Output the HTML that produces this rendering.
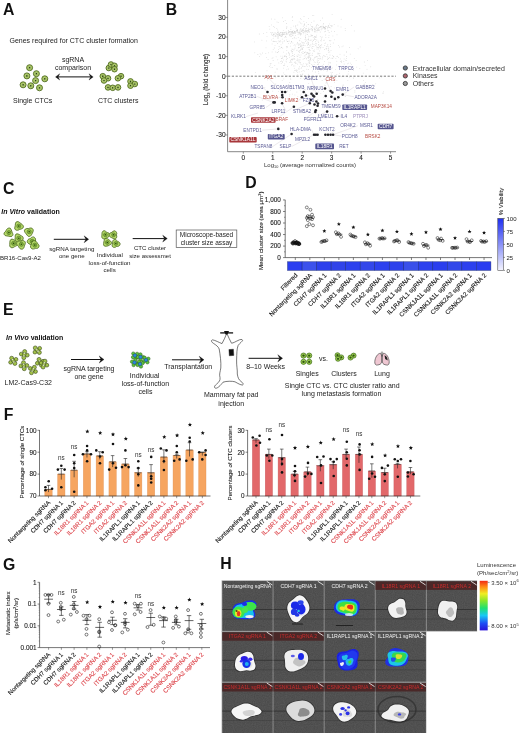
<!DOCTYPE html>
<html><head><meta charset="utf-8"><title>Figure</title>
<style>
html,body{margin:0;padding:0;background:#fff;}
body{width:520px;height:733px;overflow:hidden;}
svg{display:block;}
text{font-family:"Liberation Sans", Arial, sans-serif;}
</style></head><body>
<svg width="520" height="733" viewBox="0 0 520 733">
<rect width="520" height="733" fill="#fff"/>
<text x="0" y="0" font-size="15.8" fill="#111" font-weight="bold" transform="translate(3 14.5)">A</text>
<text x="0" y="0" font-size="15.8" fill="#111" font-weight="bold" transform="translate(165.8 14.5)">B</text>
<text x="0" y="0" font-size="15.8" fill="#111" font-weight="bold" transform="translate(3 194.1)">C</text>
<text x="0" y="0" font-size="15.8" fill="#111" font-weight="bold" transform="translate(245.2 187.9)">D</text>
<text x="0" y="0" font-size="15.8" fill="#111" font-weight="bold" transform="translate(2.9 314.6)">E</text>
<text x="0" y="0" font-size="15.8" fill="#111" font-weight="bold" transform="translate(3.8 419.9)">F</text>
<text x="0" y="0" font-size="15.8" fill="#111" font-weight="bold" transform="translate(3 569.8)">G</text>
<text x="0" y="0" font-size="15.8" fill="#111" font-weight="bold" transform="translate(220.2 569.1)">H</text>
<text x="9.50" y="43.20" font-size="7" fill="#222" text-anchor="start" >Genes required for CTC cluster formation</text>
<text x="73.00" y="61.60" font-size="7" fill="#222" text-anchor="middle" >sgRNA</text>
<text x="73.00" y="70.10" font-size="7" fill="#222" text-anchor="middle" >comparison</text>
<line x1="58.02" y1="76.90" x2="90.68" y2="76.90" stroke="#111" stroke-width="1.0" />
<polygon points="93.20,76.90 89.00,73.75 90.60,76.90 89.00,80.05" fill="#111" stroke="#111" stroke-width="0.3" stroke-linejoin="round"/>
<polygon points="55.50,76.90 59.70,73.75 58.10,76.90 59.70,80.05" fill="#111" stroke="#111" stroke-width="0.3" stroke-linejoin="round"/>
<text x="13.00" y="102.50" font-size="7" fill="#222" text-anchor="start" >Single CTCs</text>
<text x="98.00" y="102.50" font-size="7" fill="#222" text-anchor="start" >CTC clusters</text>
<circle cx="29.60" cy="67.70" r="3.0" fill="#b3d068" stroke="#4f6a22" stroke-width="0.9"/>
<circle cx="29.60" cy="67.70" r="1.6500000000000001" fill="#d2e59c" stroke="#7d9a40" stroke-width="0.4"/>
<circle cx="29.60" cy="67.70" r="0.8999999999999999" fill="#2e4a10" stroke="none" stroke-width="0.5"/>
<circle cx="26.90" cy="75.90" r="3.0" fill="#b3d068" stroke="#4f6a22" stroke-width="0.9"/>
<circle cx="26.90" cy="75.90" r="1.6500000000000001" fill="#d2e59c" stroke="#7d9a40" stroke-width="0.4"/>
<circle cx="26.90" cy="75.90" r="0.8999999999999999" fill="#2e4a10" stroke="none" stroke-width="0.5"/>
<circle cx="36.40" cy="73.70" r="3.0" fill="#b3d068" stroke="#4f6a22" stroke-width="0.9"/>
<circle cx="36.40" cy="73.70" r="1.6500000000000001" fill="#d2e59c" stroke="#7d9a40" stroke-width="0.4"/>
<circle cx="36.40" cy="73.70" r="0.8999999999999999" fill="#2e4a10" stroke="none" stroke-width="0.5"/>
<circle cx="44.80" cy="78.80" r="3.0" fill="#b3d068" stroke="#4f6a22" stroke-width="0.9"/>
<circle cx="44.80" cy="78.80" r="1.6500000000000001" fill="#d2e59c" stroke="#7d9a40" stroke-width="0.4"/>
<circle cx="44.80" cy="78.80" r="0.8999999999999999" fill="#2e4a10" stroke="none" stroke-width="0.5"/>
<circle cx="35.60" cy="80.60" r="3.0" fill="#b3d068" stroke="#4f6a22" stroke-width="0.9"/>
<circle cx="35.60" cy="80.60" r="1.6500000000000001" fill="#d2e59c" stroke="#7d9a40" stroke-width="0.4"/>
<circle cx="35.60" cy="80.60" r="0.8999999999999999" fill="#2e4a10" stroke="none" stroke-width="0.5"/>
<circle cx="23.10" cy="84.80" r="3.0" fill="#b3d068" stroke="#4f6a22" stroke-width="0.9"/>
<circle cx="23.10" cy="84.80" r="1.6500000000000001" fill="#d2e59c" stroke="#7d9a40" stroke-width="0.4"/>
<circle cx="23.10" cy="84.80" r="0.8999999999999999" fill="#2e4a10" stroke="none" stroke-width="0.5"/>
<circle cx="30.80" cy="85.80" r="3.0" fill="#b3d068" stroke="#4f6a22" stroke-width="0.9"/>
<circle cx="30.80" cy="85.80" r="1.6500000000000001" fill="#d2e59c" stroke="#7d9a40" stroke-width="0.4"/>
<circle cx="30.80" cy="85.80" r="0.8999999999999999" fill="#2e4a10" stroke="none" stroke-width="0.5"/>
<circle cx="39.50" cy="87.80" r="3.0" fill="#b3d068" stroke="#4f6a22" stroke-width="0.9"/>
<circle cx="39.50" cy="87.80" r="1.6500000000000001" fill="#d2e59c" stroke="#7d9a40" stroke-width="0.4"/>
<circle cx="39.50" cy="87.80" r="0.8999999999999999" fill="#2e4a10" stroke="none" stroke-width="0.5"/>
<circle cx="108.80" cy="68.00" r="2.8" fill="#b3d068" stroke="#4f6a22" stroke-width="0.9"/>
<circle cx="108.80" cy="68.00" r="1.54" fill="#d2e59c" stroke="#7d9a40" stroke-width="0.4"/>
<circle cx="108.80" cy="68.00" r="0.84" fill="#2e4a10" stroke="none" stroke-width="0.5"/>
<circle cx="111.00" cy="64.50" r="2.8" fill="#b3d068" stroke="#4f6a22" stroke-width="0.9"/>
<circle cx="111.00" cy="64.50" r="1.54" fill="#d2e59c" stroke="#7d9a40" stroke-width="0.4"/>
<circle cx="111.00" cy="64.50" r="0.84" fill="#2e4a10" stroke="none" stroke-width="0.5"/>
<circle cx="114.50" cy="65.80" r="2.8" fill="#b3d068" stroke="#4f6a22" stroke-width="0.9"/>
<circle cx="114.50" cy="65.80" r="1.54" fill="#d2e59c" stroke="#7d9a40" stroke-width="0.4"/>
<circle cx="114.50" cy="65.80" r="0.84" fill="#2e4a10" stroke="none" stroke-width="0.5"/>
<circle cx="114.50" cy="69.20" r="2.8" fill="#b3d068" stroke="#4f6a22" stroke-width="0.9"/>
<circle cx="114.50" cy="69.20" r="1.54" fill="#d2e59c" stroke="#7d9a40" stroke-width="0.4"/>
<circle cx="114.50" cy="69.20" r="0.84" fill="#2e4a10" stroke="none" stroke-width="0.5"/>
<circle cx="102.80" cy="76.20" r="2.8" fill="#b3d068" stroke="#4f6a22" stroke-width="0.9"/>
<circle cx="102.80" cy="76.20" r="1.54" fill="#d2e59c" stroke="#7d9a40" stroke-width="0.4"/>
<circle cx="102.80" cy="76.20" r="0.84" fill="#2e4a10" stroke="none" stroke-width="0.5"/>
<circle cx="108.00" cy="78.30" r="2.8" fill="#b3d068" stroke="#4f6a22" stroke-width="0.9"/>
<circle cx="108.00" cy="78.30" r="1.54" fill="#d2e59c" stroke="#7d9a40" stroke-width="0.4"/>
<circle cx="108.00" cy="78.30" r="0.84" fill="#2e4a10" stroke="none" stroke-width="0.5"/>
<circle cx="104.00" cy="80.50" r="2.8" fill="#b3d068" stroke="#4f6a22" stroke-width="0.9"/>
<circle cx="104.00" cy="80.50" r="1.54" fill="#d2e59c" stroke="#7d9a40" stroke-width="0.4"/>
<circle cx="104.00" cy="80.50" r="0.84" fill="#2e4a10" stroke="none" stroke-width="0.5"/>
<circle cx="121.00" cy="76.20" r="2.8" fill="#b3d068" stroke="#4f6a22" stroke-width="0.9"/>
<circle cx="121.00" cy="76.20" r="1.54" fill="#d2e59c" stroke="#7d9a40" stroke-width="0.4"/>
<circle cx="121.00" cy="76.20" r="0.84" fill="#2e4a10" stroke="none" stroke-width="0.5"/>
<circle cx="117.90" cy="78.30" r="2.8" fill="#b3d068" stroke="#4f6a22" stroke-width="0.9"/>
<circle cx="117.90" cy="78.30" r="1.54" fill="#d2e59c" stroke="#7d9a40" stroke-width="0.4"/>
<circle cx="117.90" cy="78.30" r="0.84" fill="#2e4a10" stroke="none" stroke-width="0.5"/>
<circle cx="130.50" cy="81.40" r="2.8" fill="#b3d068" stroke="#4f6a22" stroke-width="0.9"/>
<circle cx="130.50" cy="81.40" r="1.54" fill="#d2e59c" stroke="#7d9a40" stroke-width="0.4"/>
<circle cx="130.50" cy="81.40" r="0.84" fill="#2e4a10" stroke="none" stroke-width="0.5"/>
<circle cx="134.80" cy="84.00" r="2.8" fill="#b3d068" stroke="#4f6a22" stroke-width="0.9"/>
<circle cx="134.80" cy="84.00" r="1.54" fill="#d2e59c" stroke="#7d9a40" stroke-width="0.4"/>
<circle cx="134.80" cy="84.00" r="0.84" fill="#2e4a10" stroke="none" stroke-width="0.5"/>
<circle cx="130.50" cy="85.70" r="2.8" fill="#b3d068" stroke="#4f6a22" stroke-width="0.9"/>
<circle cx="130.50" cy="85.70" r="1.54" fill="#d2e59c" stroke="#7d9a40" stroke-width="0.4"/>
<circle cx="130.50" cy="85.70" r="0.84" fill="#2e4a10" stroke="none" stroke-width="0.5"/>
<circle cx="108.00" cy="87.40" r="2.8" fill="#b3d068" stroke="#4f6a22" stroke-width="0.9"/>
<circle cx="108.00" cy="87.40" r="1.54" fill="#d2e59c" stroke="#7d9a40" stroke-width="0.4"/>
<circle cx="108.00" cy="87.40" r="0.84" fill="#2e4a10" stroke="none" stroke-width="0.5"/>
<circle cx="112.70" cy="87.80" r="2.8" fill="#b3d068" stroke="#4f6a22" stroke-width="0.9"/>
<circle cx="112.70" cy="87.80" r="1.54" fill="#d2e59c" stroke="#7d9a40" stroke-width="0.4"/>
<circle cx="112.70" cy="87.80" r="0.84" fill="#2e4a10" stroke="none" stroke-width="0.5"/>
<circle cx="118.00" cy="87.40" r="2.8" fill="#b3d068" stroke="#4f6a22" stroke-width="0.9"/>
<circle cx="118.00" cy="87.40" r="1.54" fill="#d2e59c" stroke="#7d9a40" stroke-width="0.4"/>
<circle cx="118.00" cy="87.40" r="0.84" fill="#2e4a10" stroke="none" stroke-width="0.5"/>
<g fill="#a8a8a8" opacity="0.6"><circle cx="267.0" cy="36.3" r="0.42"/><circle cx="281.1" cy="47.1" r="0.42"/><circle cx="300.9" cy="29.1" r="0.42"/><circle cx="292.9" cy="34.1" r="0.42"/><circle cx="354.3" cy="58.3" r="0.42"/><circle cx="294.5" cy="62.1" r="0.42"/><circle cx="301.9" cy="31.6" r="0.42"/><circle cx="309.3" cy="63.4" r="0.42"/><circle cx="308.8" cy="57.3" r="0.42"/><circle cx="286.8" cy="27.4" r="0.42"/><circle cx="305.0" cy="39.4" r="0.42"/><circle cx="299.8" cy="57.3" r="0.42"/><circle cx="332.8" cy="58.2" r="0.42"/><circle cx="315.1" cy="36.6" r="0.42"/><circle cx="318.6" cy="64.4" r="0.42"/><circle cx="317.2" cy="76.1" r="0.42"/><circle cx="308.7" cy="83.3" r="0.42"/><circle cx="309.2" cy="47.3" r="0.42"/><circle cx="312.6" cy="71.0" r="0.42"/><circle cx="286.7" cy="33.7" r="0.42"/><circle cx="308.8" cy="55.9" r="0.42"/><circle cx="325.7" cy="56.3" r="0.42"/><circle cx="312.6" cy="30.8" r="0.42"/><circle cx="289.7" cy="35.6" r="0.42"/><circle cx="299.1" cy="55.2" r="0.42"/><circle cx="296.8" cy="60.2" r="0.42"/><circle cx="328.7" cy="26.8" r="0.42"/><circle cx="318.5" cy="42.4" r="0.42"/><circle cx="279.3" cy="33.8" r="0.42"/><circle cx="298.3" cy="37.3" r="0.42"/><circle cx="341.8" cy="76.8" r="0.42"/><circle cx="312.6" cy="41.4" r="0.42"/><circle cx="326.2" cy="26.4" r="0.42"/><circle cx="316.8" cy="28.5" r="0.42"/><circle cx="348.1" cy="74.0" r="0.42"/><circle cx="273.9" cy="36.2" r="0.42"/><circle cx="301.9" cy="46.9" r="0.42"/><circle cx="338.5" cy="45.7" r="0.42"/><circle cx="315.8" cy="57.2" r="0.42"/><circle cx="310.4" cy="59.6" r="0.42"/><circle cx="285.1" cy="56.2" r="0.42"/><circle cx="288.1" cy="32.6" r="0.42"/><circle cx="294.6" cy="31.5" r="0.42"/><circle cx="300.8" cy="78.4" r="0.42"/><circle cx="273.0" cy="41.3" r="0.42"/><circle cx="273.2" cy="38.2" r="0.42"/><circle cx="309.4" cy="50.8" r="0.42"/><circle cx="304.1" cy="25.5" r="0.42"/><circle cx="308.2" cy="53.5" r="0.42"/><circle cx="305.0" cy="45.5" r="0.42"/><circle cx="266.5" cy="40.9" r="0.42"/><circle cx="267.0" cy="70.8" r="0.42"/><circle cx="334.6" cy="31.5" r="0.42"/><circle cx="314.0" cy="21.0" r="0.42"/><circle cx="292.5" cy="38.3" r="0.42"/><circle cx="299.3" cy="44.4" r="0.42"/><circle cx="342.0" cy="46.8" r="0.42"/><circle cx="282.6" cy="62.7" r="0.42"/><circle cx="273.0" cy="57.8" r="0.42"/><circle cx="318.5" cy="29.1" r="0.42"/><circle cx="308.5" cy="69.5" r="0.42"/><circle cx="274.5" cy="27.2" r="0.42"/><circle cx="320.2" cy="48.8" r="0.42"/><circle cx="308.2" cy="56.2" r="0.42"/><circle cx="300.6" cy="95.1" r="0.42"/><circle cx="288.6" cy="43.3" r="0.42"/><circle cx="294.7" cy="58.7" r="0.42"/><circle cx="255.6" cy="72.3" r="0.42"/><circle cx="301.0" cy="54.9" r="0.42"/><circle cx="323.2" cy="24.8" r="0.42"/><circle cx="318.8" cy="44.5" r="0.42"/><circle cx="299.0" cy="32.4" r="0.42"/><circle cx="290.2" cy="36.4" r="0.42"/><circle cx="332.1" cy="14.4" r="0.42"/><circle cx="309.1" cy="49.6" r="0.42"/><circle cx="363.5" cy="80.7" r="0.42"/><circle cx="312.3" cy="48.7" r="0.42"/><circle cx="299.1" cy="34.0" r="0.42"/><circle cx="310.2" cy="50.7" r="0.42"/><circle cx="309.3" cy="29.4" r="0.42"/><circle cx="313.4" cy="60.5" r="0.42"/><circle cx="262.5" cy="53.0" r="0.42"/><circle cx="275.2" cy="33.2" r="0.42"/><circle cx="289.2" cy="31.8" r="0.42"/><circle cx="327.9" cy="30.3" r="0.42"/><circle cx="285.1" cy="55.9" r="0.42"/><circle cx="323.9" cy="27.0" r="0.42"/><circle cx="295.6" cy="26.4" r="0.42"/><circle cx="277.0" cy="21.9" r="0.42"/><circle cx="289.5" cy="62.7" r="0.42"/><circle cx="298.1" cy="54.3" r="0.42"/><circle cx="364.1" cy="83.9" r="0.42"/><circle cx="313.8" cy="77.2" r="0.42"/><circle cx="354.9" cy="90.6" r="0.42"/><circle cx="301.8" cy="71.3" r="0.42"/><circle cx="286.0" cy="61.1" r="0.42"/><circle cx="314.6" cy="49.9" r="0.42"/><circle cx="318.2" cy="30.5" r="0.42"/><circle cx="293.5" cy="32.7" r="0.42"/><circle cx="302.2" cy="30.4" r="0.42"/><circle cx="271.0" cy="63.4" r="0.42"/><circle cx="306.3" cy="58.9" r="0.42"/><circle cx="290.3" cy="46.1" r="0.42"/><circle cx="290.9" cy="35.0" r="0.42"/><circle cx="293.9" cy="72.2" r="0.42"/><circle cx="308.5" cy="95.5" r="0.42"/><circle cx="324.1" cy="27.5" r="0.42"/><circle cx="311.8" cy="64.5" r="0.42"/><circle cx="301.6" cy="46.0" r="0.42"/><circle cx="287.8" cy="91.0" r="0.42"/><circle cx="303.2" cy="26.6" r="0.42"/><circle cx="304.4" cy="27.6" r="0.42"/><circle cx="356.8" cy="67.1" r="0.42"/><circle cx="318.4" cy="58.7" r="0.42"/><circle cx="345.7" cy="69.3" r="0.42"/><circle cx="307.8" cy="30.6" r="0.42"/><circle cx="300.7" cy="57.1" r="0.42"/><circle cx="306.7" cy="43.2" r="0.42"/><circle cx="290.4" cy="43.2" r="0.42"/><circle cx="299.2" cy="60.0" r="0.42"/><circle cx="320.0" cy="53.6" r="0.42"/><circle cx="325.9" cy="37.7" r="0.42"/><circle cx="318.1" cy="53.1" r="0.42"/><circle cx="315.3" cy="36.9" r="0.42"/><circle cx="289.8" cy="82.5" r="0.42"/><circle cx="323.4" cy="91.5" r="0.42"/><circle cx="367.0" cy="69.2" r="0.42"/><circle cx="316.2" cy="43.4" r="0.42"/><circle cx="330.2" cy="65.8" r="0.42"/><circle cx="298.7" cy="47.6" r="0.42"/><circle cx="331.5" cy="74.0" r="0.42"/><circle cx="317.8" cy="58.1" r="0.42"/><circle cx="317.0" cy="49.0" r="0.42"/><circle cx="345.2" cy="28.6" r="0.42"/><circle cx="302.4" cy="29.3" r="0.42"/><circle cx="307.6" cy="53.0" r="0.42"/><circle cx="273.5" cy="34.6" r="0.42"/><circle cx="312.0" cy="55.1" r="0.42"/><circle cx="325.2" cy="27.7" r="0.42"/><circle cx="278.2" cy="34.5" r="0.42"/><circle cx="295.6" cy="61.9" r="0.42"/><circle cx="282.9" cy="56.1" r="0.42"/><circle cx="314.2" cy="28.5" r="0.42"/><circle cx="303.8" cy="33.8" r="0.42"/><circle cx="282.3" cy="34.0" r="0.42"/><circle cx="333.0" cy="93.7" r="0.42"/><circle cx="278.4" cy="32.4" r="0.42"/><circle cx="318.8" cy="73.2" r="0.42"/><circle cx="301.5" cy="67.6" r="0.42"/><circle cx="289.3" cy="53.6" r="0.42"/><circle cx="289.9" cy="94.6" r="0.42"/><circle cx="308.3" cy="24.3" r="0.42"/><circle cx="303.8" cy="42.7" r="0.42"/><circle cx="302.4" cy="48.4" r="0.42"/><circle cx="288.8" cy="33.0" r="0.42"/><circle cx="330.1" cy="40.9" r="0.42"/><circle cx="292.4" cy="32.7" r="0.42"/><circle cx="295.8" cy="25.4" r="0.42"/><circle cx="359.0" cy="88.2" r="0.42"/><circle cx="308.6" cy="44.3" r="0.42"/><circle cx="295.1" cy="33.0" r="0.42"/><circle cx="331.2" cy="79.8" r="0.42"/><circle cx="327.8" cy="44.3" r="0.42"/><circle cx="282.7" cy="58.4" r="0.42"/><circle cx="280.0" cy="48.2" r="0.42"/><circle cx="308.9" cy="62.2" r="0.42"/><circle cx="315.2" cy="62.3" r="0.42"/><circle cx="345.5" cy="60.1" r="0.42"/><circle cx="281.0" cy="44.8" r="0.42"/><circle cx="299.1" cy="67.9" r="0.42"/><circle cx="299.0" cy="69.7" r="0.42"/><circle cx="318.4" cy="48.9" r="0.42"/><circle cx="282.1" cy="32.7" r="0.42"/><circle cx="317.9" cy="99.5" r="0.42"/><circle cx="308.4" cy="58.3" r="0.42"/><circle cx="287.1" cy="98.8" r="0.42"/><circle cx="313.8" cy="15.4" r="0.42"/><circle cx="334.5" cy="82.2" r="0.42"/><circle cx="308.2" cy="30.1" r="0.42"/><circle cx="304.8" cy="31.8" r="0.42"/><circle cx="291.5" cy="51.0" r="0.42"/><circle cx="277.7" cy="59.8" r="0.42"/><circle cx="349.5" cy="47.5" r="0.42"/><circle cx="305.6" cy="54.9" r="0.42"/><circle cx="327.0" cy="71.2" r="0.42"/><circle cx="280.4" cy="40.8" r="0.42"/><circle cx="283.7" cy="32.3" r="0.42"/><circle cx="285.6" cy="36.3" r="0.42"/><circle cx="309.5" cy="56.8" r="0.42"/><circle cx="286.8" cy="33.9" r="0.42"/><circle cx="305.0" cy="30.9" r="0.42"/><circle cx="280.9" cy="41.8" r="0.42"/><circle cx="292.7" cy="49.3" r="0.42"/><circle cx="303.9" cy="21.3" r="0.42"/><circle cx="280.7" cy="32.6" r="0.42"/><circle cx="309.3" cy="62.3" r="0.42"/><circle cx="311.3" cy="35.5" r="0.42"/><circle cx="320.9" cy="47.2" r="0.42"/><circle cx="304.0" cy="16.5" r="0.42"/><circle cx="299.5" cy="52.6" r="0.42"/><circle cx="329.0" cy="80.4" r="0.42"/><circle cx="308.5" cy="43.3" r="0.42"/><circle cx="291.1" cy="56.6" r="0.42"/><circle cx="310.7" cy="58.4" r="0.42"/><circle cx="312.5" cy="44.1" r="0.42"/><circle cx="292.6" cy="32.1" r="0.42"/><circle cx="312.7" cy="26.3" r="0.42"/><circle cx="289.7" cy="96.1" r="0.42"/><circle cx="310.0" cy="36.7" r="0.42"/><circle cx="271.0" cy="67.3" r="0.42"/><circle cx="318.3" cy="71.5" r="0.42"/><circle cx="322.1" cy="37.0" r="0.42"/><circle cx="306.6" cy="30.9" r="0.42"/><circle cx="282.2" cy="80.3" r="0.42"/><circle cx="317.9" cy="27.9" r="0.42"/><circle cx="301.0" cy="30.4" r="0.42"/><circle cx="286.5" cy="57.9" r="0.42"/><circle cx="278.6" cy="49.4" r="0.42"/><circle cx="315.1" cy="29.3" r="0.42"/><circle cx="300.5" cy="62.3" r="0.42"/><circle cx="328.4" cy="48.3" r="0.42"/><circle cx="317.7" cy="24.4" r="0.42"/><circle cx="300.9" cy="28.7" r="0.42"/><circle cx="345.3" cy="30.6" r="0.42"/><circle cx="305.9" cy="39.9" r="0.42"/><circle cx="266.4" cy="57.6" r="0.42"/><circle cx="278.5" cy="91.3" r="0.42"/><circle cx="375.7" cy="83.8" r="0.42"/><circle cx="275.8" cy="41.7" r="0.42"/><circle cx="273.6" cy="41.1" r="0.42"/><circle cx="309.8" cy="61.6" r="0.42"/><circle cx="284.8" cy="32.6" r="0.42"/><circle cx="329.3" cy="57.7" r="0.42"/><circle cx="324.5" cy="61.4" r="0.42"/><circle cx="307.8" cy="52.5" r="0.42"/><circle cx="270.9" cy="32.5" r="0.42"/><circle cx="279.7" cy="35.4" r="0.42"/><circle cx="300.1" cy="29.6" r="0.42"/><circle cx="310.8" cy="58.4" r="0.42"/><circle cx="316.2" cy="30.3" r="0.42"/><circle cx="294.9" cy="94.9" r="0.42"/><circle cx="321.0" cy="70.4" r="0.42"/><circle cx="324.9" cy="43.7" r="0.42"/><circle cx="346.6" cy="58.4" r="0.42"/><circle cx="290.4" cy="78.2" r="0.42"/><circle cx="319.6" cy="68.5" r="0.42"/><circle cx="303.4" cy="63.8" r="0.42"/><circle cx="306.4" cy="54.4" r="0.42"/><circle cx="277.8" cy="52.5" r="0.42"/><circle cx="313.8" cy="46.3" r="0.42"/><circle cx="341.2" cy="19.2" r="0.42"/><circle cx="261.9" cy="40.2" r="0.42"/><circle cx="302.8" cy="74.0" r="0.42"/><circle cx="318.5" cy="92.0" r="0.42"/><circle cx="288.5" cy="32.5" r="0.42"/><circle cx="261.0" cy="54.8" r="0.42"/><circle cx="314.6" cy="38.7" r="0.42"/><circle cx="270.2" cy="63.6" r="0.42"/><circle cx="321.4" cy="29.8" r="0.42"/><circle cx="323.7" cy="70.1" r="0.42"/><circle cx="302.3" cy="53.2" r="0.42"/><circle cx="277.1" cy="52.5" r="0.42"/><circle cx="301.7" cy="41.9" r="0.42"/><circle cx="259.4" cy="56.7" r="0.42"/><circle cx="315.3" cy="72.0" r="0.42"/><circle cx="302.7" cy="49.4" r="0.42"/><circle cx="308.7" cy="53.2" r="0.42"/><circle cx="329.0" cy="35.6" r="0.42"/><circle cx="320.8" cy="40.7" r="0.42"/><circle cx="320.3" cy="47.6" r="0.42"/><circle cx="317.0" cy="31.9" r="0.42"/><circle cx="343.1" cy="45.9" r="0.42"/><circle cx="291.4" cy="59.2" r="0.42"/><circle cx="277.4" cy="32.7" r="0.42"/><circle cx="297.4" cy="30.3" r="0.42"/><circle cx="286.6" cy="34.1" r="0.42"/><circle cx="341.4" cy="61.9" r="0.42"/><circle cx="279.1" cy="46.5" r="0.42"/><circle cx="312.7" cy="35.5" r="0.42"/><circle cx="302.3" cy="49.3" r="0.42"/><circle cx="291.8" cy="31.8" r="0.42"/><circle cx="291.0" cy="34.2" r="0.42"/><circle cx="292.3" cy="32.0" r="0.42"/><circle cx="304.5" cy="89.5" r="0.42"/><circle cx="306.6" cy="79.7" r="0.42"/><circle cx="295.0" cy="48.0" r="0.42"/><circle cx="326.6" cy="46.6" r="0.42"/><circle cx="311.1" cy="40.0" r="0.42"/><circle cx="304.1" cy="58.7" r="0.42"/><circle cx="296.4" cy="28.8" r="0.42"/><circle cx="292.1" cy="60.0" r="0.42"/><circle cx="297.7" cy="74.8" r="0.42"/><circle cx="328.3" cy="25.6" r="0.42"/><circle cx="298.8" cy="45.2" r="0.42"/><circle cx="383.5" cy="91.8" r="0.42"/><circle cx="329.1" cy="66.2" r="0.42"/><circle cx="315.7" cy="41.7" r="0.42"/><circle cx="310.6" cy="40.2" r="0.42"/><circle cx="309.1" cy="49.6" r="0.42"/><circle cx="332.3" cy="25.9" r="0.42"/><circle cx="291.0" cy="27.8" r="0.42"/><circle cx="277.8" cy="34.2" r="0.42"/><circle cx="283.8" cy="33.9" r="0.42"/><circle cx="294.9" cy="44.3" r="0.42"/><circle cx="303.0" cy="66.1" r="0.42"/><circle cx="301.9" cy="45.0" r="0.42"/><circle cx="333.0" cy="76.0" r="0.42"/><circle cx="286.8" cy="50.7" r="0.42"/><circle cx="293.7" cy="26.1" r="0.42"/><circle cx="336.9" cy="74.5" r="0.42"/><circle cx="290.4" cy="62.2" r="0.42"/><circle cx="292.7" cy="20.4" r="0.42"/><circle cx="321.1" cy="69.2" r="0.42"/><circle cx="334.3" cy="87.9" r="0.42"/><circle cx="305.2" cy="36.1" r="0.42"/><circle cx="313.4" cy="51.1" r="0.42"/><circle cx="286.9" cy="47.8" r="0.42"/><circle cx="312.2" cy="29.1" r="0.42"/><circle cx="294.5" cy="54.3" r="0.42"/><circle cx="328.0" cy="26.9" r="0.42"/><circle cx="270.2" cy="65.0" r="0.42"/><circle cx="320.4" cy="20.4" r="0.42"/><circle cx="317.6" cy="29.6" r="0.42"/><circle cx="344.1" cy="55.0" r="0.42"/><circle cx="300.1" cy="59.8" r="0.42"/><circle cx="325.5" cy="26.2" r="0.42"/><circle cx="300.3" cy="45.8" r="0.42"/><circle cx="324.5" cy="29.0" r="0.42"/><circle cx="351.6" cy="64.3" r="0.42"/><circle cx="302.1" cy="74.4" r="0.42"/><circle cx="320.1" cy="27.0" r="0.42"/><circle cx="325.4" cy="28.5" r="0.42"/><circle cx="304.7" cy="58.4" r="0.42"/><circle cx="282.0" cy="34.4" r="0.42"/><circle cx="292.3" cy="94.1" r="0.42"/><circle cx="323.4" cy="64.2" r="0.42"/><circle cx="306.5" cy="65.0" r="0.42"/><circle cx="307.5" cy="45.7" r="0.42"/><circle cx="285.7" cy="32.1" r="0.42"/><circle cx="277.6" cy="32.7" r="0.42"/><circle cx="273.2" cy="49.6" r="0.42"/><circle cx="343.2" cy="85.0" r="0.42"/><circle cx="300.0" cy="43.3" r="0.42"/><circle cx="283.8" cy="78.9" r="0.42"/><circle cx="308.5" cy="29.9" r="0.42"/><circle cx="340.3" cy="58.9" r="0.42"/><circle cx="305.5" cy="37.5" r="0.42"/><circle cx="294.0" cy="45.3" r="0.42"/><circle cx="325.8" cy="75.8" r="0.42"/><circle cx="304.6" cy="23.9" r="0.42"/><circle cx="332.5" cy="55.6" r="0.42"/><circle cx="325.7" cy="35.0" r="0.42"/><circle cx="325.4" cy="31.5" r="0.42"/><circle cx="314.3" cy="85.8" r="0.42"/><circle cx="315.6" cy="45.4" r="0.42"/><circle cx="317.5" cy="64.5" r="0.42"/><circle cx="276.1" cy="56.8" r="0.42"/><circle cx="308.4" cy="38.1" r="0.42"/><circle cx="309.3" cy="66.1" r="0.42"/><circle cx="328.7" cy="52.2" r="0.42"/><circle cx="272.2" cy="35.5" r="0.42"/><circle cx="283.6" cy="34.3" r="0.42"/><circle cx="291.9" cy="51.9" r="0.42"/><circle cx="340.3" cy="61.4" r="0.42"/><circle cx="274.3" cy="41.3" r="0.42"/><circle cx="314.4" cy="57.6" r="0.42"/><circle cx="289.9" cy="31.5" r="0.42"/><circle cx="298.4" cy="44.8" r="0.42"/><circle cx="328.9" cy="62.2" r="0.42"/><circle cx="317.2" cy="60.0" r="0.42"/><circle cx="294.5" cy="31.2" r="0.42"/><circle cx="333.8" cy="56.9" r="0.42"/><circle cx="299.4" cy="31.0" r="0.42"/><circle cx="312.7" cy="43.1" r="0.42"/><circle cx="299.4" cy="62.0" r="0.42"/><circle cx="277.5" cy="35.1" r="0.42"/><circle cx="306.7" cy="58.6" r="0.42"/><circle cx="306.0" cy="63.6" r="0.42"/><circle cx="300.1" cy="99.2" r="0.42"/><circle cx="317.3" cy="61.8" r="0.42"/><circle cx="309.5" cy="60.0" r="0.42"/><circle cx="310.9" cy="60.3" r="0.42"/><circle cx="287.8" cy="75.8" r="0.42"/><circle cx="314.7" cy="36.6" r="0.42"/><circle cx="308.6" cy="60.6" r="0.42"/><circle cx="305.4" cy="31.4" r="0.42"/><circle cx="299.5" cy="32.7" r="0.42"/><circle cx="292.3" cy="64.2" r="0.42"/><circle cx="272.6" cy="67.3" r="0.42"/><circle cx="317.2" cy="47.6" r="0.42"/><circle cx="288.5" cy="30.7" r="0.42"/><circle cx="330.4" cy="46.5" r="0.42"/><circle cx="328.7" cy="25.6" r="0.42"/><circle cx="328.7" cy="50.4" r="0.42"/><circle cx="303.0" cy="43.6" r="0.42"/><circle cx="326.3" cy="69.6" r="0.42"/><circle cx="299.0" cy="47.4" r="0.42"/><circle cx="305.4" cy="52.0" r="0.42"/><circle cx="308.8" cy="30.4" r="0.42"/><circle cx="295.6" cy="45.9" r="0.42"/><circle cx="303.1" cy="70.5" r="0.42"/><circle cx="312.3" cy="55.6" r="0.42"/><circle cx="300.7" cy="34.1" r="0.42"/><circle cx="313.6" cy="40.5" r="0.42"/><circle cx="297.9" cy="56.1" r="0.42"/><circle cx="273.1" cy="34.0" r="0.42"/><circle cx="342.9" cy="85.2" r="0.42"/><circle cx="314.1" cy="64.7" r="0.42"/><circle cx="282.6" cy="17.8" r="0.42"/><circle cx="322.1" cy="59.0" r="0.42"/><circle cx="330.4" cy="44.2" r="0.42"/><circle cx="309.0" cy="40.3" r="0.42"/><circle cx="323.6" cy="55.7" r="0.42"/><circle cx="320.3" cy="58.3" r="0.42"/><circle cx="328.1" cy="58.7" r="0.42"/><circle cx="314.1" cy="58.8" r="0.42"/><circle cx="324.3" cy="27.5" r="0.42"/><circle cx="294.9" cy="31.6" r="0.42"/><circle cx="309.9" cy="63.4" r="0.42"/><circle cx="312.1" cy="35.8" r="0.42"/><circle cx="308.1" cy="60.8" r="0.42"/><circle cx="322.1" cy="80.5" r="0.42"/><circle cx="299.3" cy="40.2" r="0.42"/><circle cx="271.5" cy="24.9" r="0.42"/><circle cx="266.8" cy="32.6" r="0.42"/><circle cx="287.5" cy="34.0" r="0.42"/><circle cx="292.5" cy="53.7" r="0.42"/><circle cx="339.4" cy="95.9" r="0.42"/><circle cx="279.9" cy="33.1" r="0.42"/><circle cx="304.3" cy="55.9" r="0.42"/><circle cx="286.1" cy="33.0" r="0.42"/><circle cx="303.5" cy="29.8" r="0.42"/><circle cx="313.2" cy="37.6" r="0.42"/><circle cx="286.6" cy="23.5" r="0.42"/><circle cx="296.9" cy="70.0" r="0.42"/><circle cx="316.8" cy="40.0" r="0.42"/><circle cx="295.8" cy="27.9" r="0.42"/><circle cx="326.0" cy="83.0" r="0.42"/><circle cx="295.5" cy="35.6" r="0.42"/><circle cx="298.3" cy="47.9" r="0.42"/><circle cx="282.8" cy="48.1" r="0.42"/><circle cx="304.1" cy="31.2" r="0.42"/><circle cx="279.3" cy="34.4" r="0.42"/><circle cx="296.5" cy="50.2" r="0.42"/><circle cx="321.5" cy="28.0" r="0.42"/><circle cx="300.6" cy="23.0" r="0.42"/><circle cx="303.5" cy="45.7" r="0.42"/><circle cx="291.6" cy="42.1" r="0.42"/><circle cx="319.4" cy="62.5" r="0.42"/><circle cx="276.8" cy="28.7" r="0.42"/><circle cx="318.5" cy="60.3" r="0.42"/><circle cx="292.5" cy="31.6" r="0.42"/><circle cx="272.8" cy="32.5" r="0.42"/><circle cx="281.5" cy="61.0" r="0.42"/><circle cx="282.8" cy="57.6" r="0.42"/><circle cx="354.3" cy="30.9" r="0.42"/><circle cx="314.7" cy="29.4" r="0.42"/><circle cx="294.0" cy="32.8" r="0.42"/><circle cx="294.2" cy="56.6" r="0.42"/><circle cx="331.0" cy="72.6" r="0.42"/><circle cx="292.5" cy="51.8" r="0.42"/><circle cx="254.6" cy="41.9" r="0.42"/><circle cx="282.6" cy="61.6" r="0.42"/><circle cx="280.3" cy="34.1" r="0.42"/><circle cx="316.6" cy="56.5" r="0.42"/><circle cx="307.1" cy="31.9" r="0.42"/><circle cx="307.9" cy="63.9" r="0.42"/><circle cx="304.6" cy="52.5" r="0.42"/><circle cx="324.6" cy="28.0" r="0.42"/><circle cx="302.0" cy="31.1" r="0.42"/><circle cx="287.1" cy="91.3" r="0.42"/><circle cx="306.8" cy="64.6" r="0.42"/><circle cx="313.1" cy="39.9" r="0.42"/><circle cx="301.1" cy="93.9" r="0.42"/><circle cx="264.8" cy="87.6" r="0.42"/><circle cx="275.5" cy="35.6" r="0.42"/><circle cx="294.5" cy="32.3" r="0.42"/><circle cx="289.5" cy="57.6" r="0.42"/><circle cx="319.4" cy="55.5" r="0.42"/><circle cx="316.8" cy="24.9" r="0.42"/><circle cx="278.8" cy="62.9" r="0.42"/><circle cx="327.7" cy="59.5" r="0.42"/><circle cx="304.9" cy="78.7" r="0.42"/><circle cx="306.7" cy="31.7" r="0.42"/><circle cx="286.9" cy="26.7" r="0.42"/><circle cx="294.1" cy="38.0" r="0.42"/><circle cx="318.1" cy="41.1" r="0.42"/><circle cx="292.4" cy="31.5" r="0.42"/><circle cx="279.0" cy="41.9" r="0.42"/><circle cx="280.0" cy="35.6" r="0.42"/><circle cx="326.2" cy="49.0" r="0.42"/><circle cx="295.3" cy="63.7" r="0.42"/><circle cx="335.4" cy="69.4" r="0.42"/><circle cx="338.5" cy="57.6" r="0.42"/><circle cx="302.1" cy="45.6" r="0.42"/><circle cx="294.2" cy="33.0" r="0.42"/><circle cx="265.8" cy="53.3" r="0.42"/><circle cx="343.8" cy="61.7" r="0.42"/><circle cx="286.4" cy="61.9" r="0.42"/><circle cx="311.0" cy="28.2" r="0.42"/><circle cx="281.7" cy="47.4" r="0.42"/><circle cx="321.0" cy="26.5" r="0.42"/><circle cx="289.5" cy="54.7" r="0.42"/><circle cx="286.1" cy="37.2" r="0.42"/><circle cx="329.8" cy="52.0" r="0.42"/><circle cx="284.9" cy="37.6" r="0.42"/><circle cx="337.5" cy="99.7" r="0.42"/><circle cx="321.5" cy="39.2" r="0.42"/><circle cx="363.2" cy="73.1" r="0.42"/><circle cx="381.7" cy="77.1" r="0.42"/><circle cx="344.1" cy="58.9" r="0.42"/><circle cx="281.4" cy="92.3" r="0.42"/><circle cx="323.2" cy="26.6" r="0.42"/><circle cx="282.3" cy="93.9" r="0.42"/><circle cx="289.7" cy="32.6" r="0.42"/><circle cx="299.5" cy="51.8" r="0.42"/><circle cx="284.7" cy="56.5" r="0.42"/><circle cx="271.4" cy="19.0" r="0.42"/><circle cx="293.1" cy="55.7" r="0.42"/><circle cx="276.3" cy="33.6" r="0.42"/><circle cx="367.5" cy="60.3" r="0.42"/><circle cx="296.8" cy="30.4" r="0.42"/><circle cx="328.3" cy="64.1" r="0.42"/><circle cx="310.1" cy="29.3" r="0.42"/><circle cx="306.3" cy="40.1" r="0.42"/><circle cx="328.3" cy="30.8" r="0.42"/><circle cx="279.0" cy="33.8" r="0.42"/><circle cx="278.2" cy="36.2" r="0.42"/><circle cx="296.1" cy="63.1" r="0.42"/><circle cx="360.1" cy="46.9" r="0.42"/><circle cx="288.0" cy="41.4" r="0.42"/><circle cx="310.5" cy="24.9" r="0.42"/><circle cx="320.2" cy="32.0" r="0.42"/><circle cx="327.6" cy="70.6" r="0.42"/><circle cx="307.2" cy="66.3" r="0.42"/><circle cx="315.3" cy="39.7" r="0.42"/><circle cx="303.3" cy="97.0" r="0.42"/><circle cx="287.2" cy="47.2" r="0.42"/><circle cx="280.6" cy="61.4" r="0.42"/><circle cx="312.4" cy="15.6" r="0.42"/><circle cx="321.2" cy="40.9" r="0.42"/><circle cx="279.7" cy="41.7" r="0.42"/><circle cx="326.4" cy="66.3" r="0.42"/><circle cx="286.8" cy="69.8" r="0.42"/><circle cx="286.3" cy="59.5" r="0.42"/><circle cx="297.7" cy="59.0" r="0.42"/><circle cx="284.7" cy="63.9" r="0.42"/><circle cx="283.6" cy="72.9" r="0.42"/><circle cx="360.0" cy="76.1" r="0.42"/><circle cx="308.7" cy="36.1" r="0.42"/><circle cx="308.4" cy="18.7" r="0.42"/><circle cx="269.0" cy="99.7" r="0.42"/><circle cx="317.4" cy="30.1" r="0.42"/><circle cx="311.7" cy="47.9" r="0.42"/><circle cx="283.6" cy="59.9" r="0.42"/><circle cx="330.8" cy="27.9" r="0.42"/><circle cx="295.9" cy="31.4" r="0.42"/><circle cx="308.9" cy="28.1" r="0.42"/><circle cx="315.9" cy="27.0" r="0.42"/><circle cx="319.8" cy="58.8" r="0.42"/><circle cx="325.9" cy="26.7" r="0.42"/><circle cx="291.6" cy="32.0" r="0.42"/><circle cx="318.2" cy="30.0" r="0.42"/><circle cx="306.4" cy="30.8" r="0.42"/><circle cx="296.5" cy="71.4" r="0.42"/><circle cx="299.8" cy="50.4" r="0.42"/><circle cx="297.6" cy="30.9" r="0.42"/><circle cx="364.3" cy="62.0" r="0.42"/><circle cx="353.6" cy="78.6" r="0.42"/><circle cx="277.6" cy="29.9" r="0.42"/><circle cx="314.2" cy="61.9" r="0.42"/><circle cx="320.3" cy="88.0" r="0.42"/><circle cx="317.3" cy="62.3" r="0.42"/><circle cx="278.2" cy="38.0" r="0.42"/><circle cx="308.2" cy="44.5" r="0.42"/><circle cx="317.3" cy="53.1" r="0.42"/><circle cx="325.5" cy="28.7" r="0.42"/><circle cx="338.0" cy="25.9" r="0.42"/><circle cx="266.0" cy="47.8" r="0.42"/><circle cx="296.0" cy="69.9" r="0.42"/><circle cx="292.1" cy="58.9" r="0.42"/><circle cx="293.0" cy="59.5" r="0.42"/><circle cx="337.6" cy="56.2" r="0.42"/><circle cx="302.2" cy="30.3" r="0.42"/><circle cx="319.1" cy="55.9" r="0.42"/><circle cx="292.0" cy="49.0" r="0.42"/><circle cx="302.6" cy="48.1" r="0.42"/><circle cx="307.1" cy="47.6" r="0.42"/><circle cx="321.7" cy="44.7" r="0.42"/><circle cx="294.6" cy="56.7" r="0.42"/><circle cx="291.7" cy="41.5" r="0.42"/><circle cx="275.0" cy="45.6" r="0.42"/><circle cx="278.4" cy="35.8" r="0.42"/><circle cx="273.1" cy="60.5" r="0.42"/><circle cx="298.9" cy="68.6" r="0.42"/><circle cx="330.7" cy="25.6" r="0.42"/><circle cx="318.4" cy="25.6" r="0.42"/><circle cx="333.6" cy="56.3" r="0.42"/><circle cx="306.0" cy="28.8" r="0.42"/><circle cx="346.6" cy="52.6" r="0.42"/><circle cx="303.3" cy="47.3" r="0.42"/><circle cx="281.3" cy="58.4" r="0.42"/><circle cx="328.3" cy="90.2" r="0.42"/><circle cx="301.5" cy="48.1" r="0.42"/><circle cx="287.5" cy="41.5" r="0.42"/><circle cx="308.5" cy="47.5" r="0.42"/><circle cx="320.8" cy="27.1" r="0.42"/><circle cx="278.2" cy="33.2" r="0.42"/><circle cx="346.5" cy="56.5" r="0.42"/><circle cx="299.2" cy="21.9" r="0.42"/><circle cx="323.0" cy="27.3" r="0.42"/><circle cx="305.8" cy="32.9" r="0.42"/><circle cx="349.3" cy="77.2" r="0.42"/><circle cx="281.2" cy="63.7" r="0.42"/><circle cx="317.1" cy="30.4" r="0.42"/><circle cx="293.8" cy="33.5" r="0.42"/><circle cx="287.3" cy="46.3" r="0.42"/><circle cx="314.3" cy="37.0" r="0.42"/><circle cx="254.8" cy="52.8" r="0.42"/><circle cx="300.7" cy="38.3" r="0.42"/><circle cx="302.1" cy="29.8" r="0.42"/><circle cx="335.9" cy="58.3" r="0.42"/><circle cx="301.0" cy="33.4" r="0.42"/><circle cx="259.3" cy="34.0" r="0.42"/><circle cx="284.7" cy="65.4" r="0.42"/><circle cx="310.7" cy="57.6" r="0.42"/><circle cx="333.4" cy="56.6" r="0.42"/><circle cx="284.3" cy="40.6" r="0.42"/><circle cx="330.6" cy="76.0" r="0.42"/><circle cx="307.8" cy="42.0" r="0.42"/><circle cx="307.4" cy="57.2" r="0.42"/><circle cx="298.0" cy="43.5" r="0.42"/><circle cx="271.5" cy="33.1" r="0.42"/><circle cx="307.4" cy="97.8" r="0.42"/><circle cx="289.1" cy="41.0" r="0.42"/><circle cx="339.4" cy="47.0" r="0.42"/><circle cx="305.3" cy="30.6" r="0.42"/><circle cx="320.0" cy="58.9" r="0.42"/><circle cx="320.3" cy="45.5" r="0.42"/><circle cx="319.2" cy="53.8" r="0.42"/><circle cx="305.4" cy="93.5" r="0.42"/><circle cx="276.8" cy="41.8" r="0.42"/><circle cx="283.4" cy="21.5" r="0.42"/><circle cx="304.6" cy="52.7" r="0.42"/><circle cx="283.7" cy="65.5" r="0.42"/><circle cx="329.1" cy="32.5" r="0.42"/><circle cx="353.3" cy="77.8" r="0.42"/><circle cx="297.4" cy="56.3" r="0.42"/><circle cx="372.8" cy="84.6" r="0.42"/><circle cx="327.6" cy="28.8" r="0.42"/><circle cx="331.5" cy="25.6" r="0.42"/><circle cx="314.5" cy="29.8" r="0.42"/><circle cx="306.8" cy="69.2" r="0.42"/><circle cx="313.1" cy="90.3" r="0.42"/><circle cx="324.5" cy="56.0" r="0.42"/><circle cx="302.5" cy="32.1" r="0.42"/><circle cx="312.4" cy="30.0" r="0.42"/><circle cx="297.5" cy="29.8" r="0.42"/><circle cx="315.1" cy="56.9" r="0.42"/><circle cx="292.4" cy="16.4" r="0.42"/><circle cx="383.0" cy="93.6" r="0.42"/><circle cx="296.9" cy="55.9" r="0.42"/><circle cx="281.9" cy="36.5" r="0.42"/><circle cx="273.3" cy="26.7" r="0.42"/><circle cx="303.5" cy="30.7" r="0.42"/><circle cx="323.7" cy="27.6" r="0.42"/><circle cx="320.4" cy="26.5" r="0.42"/><circle cx="306.5" cy="22.6" r="0.42"/><circle cx="278.1" cy="31.2" r="0.42"/><circle cx="295.3" cy="70.6" r="0.42"/><circle cx="318.4" cy="28.4" r="0.42"/><circle cx="328.8" cy="37.3" r="0.42"/><circle cx="328.2" cy="50.8" r="0.42"/><circle cx="284.8" cy="34.1" r="0.42"/><circle cx="325.5" cy="42.9" r="0.42"/><circle cx="316.5" cy="46.9" r="0.42"/><circle cx="326.8" cy="54.4" r="0.42"/><circle cx="297.0" cy="44.0" r="0.42"/><circle cx="320.3" cy="36.6" r="0.42"/><circle cx="276.7" cy="68.9" r="0.42"/><circle cx="319.5" cy="50.9" r="0.42"/><circle cx="348.4" cy="71.7" r="0.42"/><circle cx="351.5" cy="25.3" r="0.42"/><circle cx="325.9" cy="66.6" r="0.42"/><circle cx="288.3" cy="69.0" r="0.42"/><circle cx="299.4" cy="66.3" r="0.42"/><circle cx="272.1" cy="51.9" r="0.42"/><circle cx="301.5" cy="31.4" r="0.42"/><circle cx="330.6" cy="94.5" r="0.42"/><circle cx="334.0" cy="96.9" r="0.42"/><circle cx="314.0" cy="44.7" r="0.42"/><circle cx="316.1" cy="44.9" r="0.42"/><circle cx="314.1" cy="27.9" r="0.42"/><circle cx="290.3" cy="60.4" r="0.42"/><circle cx="310.0" cy="53.0" r="0.42"/><circle cx="292.9" cy="33.5" r="0.42"/><circle cx="280.5" cy="32.7" r="0.42"/><circle cx="301.2" cy="49.3" r="0.42"/><circle cx="281.4" cy="58.7" r="0.42"/><circle cx="318.7" cy="53.6" r="0.42"/><circle cx="323.9" cy="40.4" r="0.42"/><circle cx="291.0" cy="32.0" r="0.42"/><circle cx="324.7" cy="45.3" r="0.42"/><circle cx="316.4" cy="35.1" r="0.42"/><circle cx="328.1" cy="27.0" r="0.42"/><circle cx="300.2" cy="50.7" r="0.42"/><circle cx="282.9" cy="33.0" r="0.42"/><circle cx="286.3" cy="32.0" r="0.42"/><circle cx="293.8" cy="49.9" r="0.42"/><circle cx="291.8" cy="33.0" r="0.42"/><circle cx="291.1" cy="59.6" r="0.42"/><circle cx="298.1" cy="60.0" r="0.42"/><circle cx="290.8" cy="79.3" r="0.42"/><circle cx="295.9" cy="32.7" r="0.42"/><circle cx="339.6" cy="73.2" r="0.42"/><circle cx="295.0" cy="62.3" r="0.42"/><circle cx="319.8" cy="46.9" r="0.42"/><circle cx="315.1" cy="30.8" r="0.42"/><circle cx="327.8" cy="27.6" r="0.42"/><circle cx="291.8" cy="62.7" r="0.42"/><circle cx="324.1" cy="40.1" r="0.42"/><circle cx="326.1" cy="48.2" r="0.42"/><circle cx="282.3" cy="39.1" r="0.42"/><circle cx="322.8" cy="56.8" r="0.42"/><circle cx="274.9" cy="19.2" r="0.42"/><circle cx="297.9" cy="50.1" r="0.42"/><circle cx="308.3" cy="74.2" r="0.42"/><circle cx="303.9" cy="78.2" r="0.42"/><circle cx="284.5" cy="56.0" r="0.42"/><circle cx="283.6" cy="68.1" r="0.42"/><circle cx="320.2" cy="77.6" r="0.42"/><circle cx="309.1" cy="57.2" r="0.42"/><circle cx="345.4" cy="96.3" r="0.42"/><circle cx="257.9" cy="54.5" r="0.42"/><circle cx="272.8" cy="91.1" r="0.42"/><circle cx="319.9" cy="29.2" r="0.42"/><circle cx="353.6" cy="70.4" r="0.42"/><circle cx="308.1" cy="24.3" r="0.42"/><circle cx="275.8" cy="84.0" r="0.42"/><circle cx="315.0" cy="32.0" r="0.42"/><circle cx="310.8" cy="86.2" r="0.42"/><circle cx="315.7" cy="67.5" r="0.42"/><circle cx="315.0" cy="31.6" r="0.42"/><circle cx="318.0" cy="54.3" r="0.42"/><circle cx="269.3" cy="66.7" r="0.42"/><circle cx="296.1" cy="38.2" r="0.42"/><circle cx="283.3" cy="34.3" r="0.42"/><circle cx="292.6" cy="51.4" r="0.42"/><circle cx="277.6" cy="43.5" r="0.42"/><circle cx="311.7" cy="28.4" r="0.42"/><circle cx="265.4" cy="75.7" r="0.42"/><circle cx="287.5" cy="66.6" r="0.42"/><circle cx="305.6" cy="89.8" r="0.42"/><circle cx="301.0" cy="64.7" r="0.42"/><circle cx="340.0" cy="54.2" r="0.42"/><circle cx="275.7" cy="51.9" r="0.42"/><circle cx="312.4" cy="65.5" r="0.42"/><circle cx="301.8" cy="52.7" r="0.42"/><circle cx="290.0" cy="31.7" r="0.42"/><circle cx="289.2" cy="55.3" r="0.42"/><circle cx="260.1" cy="53.8" r="0.42"/><circle cx="297.1" cy="29.4" r="0.42"/><circle cx="278.2" cy="22.4" r="0.42"/><circle cx="317.7" cy="99.9" r="0.42"/><circle cx="327.5" cy="56.9" r="0.42"/><circle cx="284.1" cy="33.1" r="0.42"/><circle cx="300.5" cy="46.2" r="0.42"/><circle cx="289.4" cy="34.9" r="0.42"/><circle cx="282.5" cy="41.9" r="0.42"/><circle cx="308.5" cy="76.1" r="0.42"/><circle cx="276.2" cy="34.6" r="0.42"/><circle cx="332.5" cy="58.2" r="0.42"/><circle cx="318.6" cy="47.5" r="0.42"/><circle cx="286.7" cy="39.9" r="0.42"/><circle cx="312.3" cy="29.4" r="0.42"/><circle cx="309.4" cy="53.4" r="0.42"/><circle cx="305.7" cy="41.5" r="0.42"/><circle cx="320.8" cy="93.3" r="0.42"/><circle cx="291.6" cy="41.6" r="0.42"/><circle cx="336.6" cy="64.9" r="0.42"/><circle cx="335.5" cy="77.9" r="0.42"/><circle cx="274.8" cy="65.4" r="0.42"/><circle cx="312.2" cy="26.8" r="0.42"/><circle cx="292.2" cy="59.2" r="0.42"/><circle cx="294.9" cy="65.9" r="0.42"/><circle cx="294.7" cy="70.7" r="0.42"/><circle cx="268.5" cy="52.8" r="0.42"/><circle cx="277.6" cy="69.0" r="0.42"/><circle cx="324.8" cy="85.2" r="0.42"/><circle cx="287.2" cy="41.6" r="0.42"/><circle cx="364.1" cy="84.5" r="0.42"/><circle cx="280.9" cy="56.1" r="0.42"/><circle cx="307.9" cy="30.7" r="0.42"/><circle cx="292.2" cy="55.8" r="0.42"/><circle cx="328.8" cy="49.1" r="0.42"/><circle cx="291.1" cy="50.6" r="0.42"/><circle cx="347.7" cy="63.8" r="0.42"/><circle cx="354.9" cy="92.0" r="0.42"/><circle cx="332.6" cy="72.6" r="0.42"/><circle cx="297.8" cy="25.0" r="0.42"/><circle cx="292.9" cy="42.9" r="0.42"/><circle cx="284.1" cy="41.4" r="0.42"/><circle cx="352.2" cy="69.6" r="0.42"/><circle cx="328.7" cy="58.7" r="0.42"/><circle cx="300.6" cy="31.9" r="0.42"/><circle cx="309.0" cy="31.5" r="0.42"/><circle cx="288.5" cy="53.0" r="0.42"/><circle cx="306.7" cy="28.4" r="0.42"/><circle cx="327.1" cy="80.6" r="0.42"/><circle cx="287.6" cy="58.4" r="0.42"/><circle cx="329.3" cy="40.4" r="0.42"/><circle cx="275.1" cy="72.1" r="0.42"/><circle cx="290.9" cy="61.5" r="0.42"/><circle cx="294.3" cy="31.5" r="0.42"/><circle cx="334.2" cy="24.6" r="0.42"/><circle cx="308.9" cy="54.3" r="0.42"/><circle cx="319.0" cy="27.3" r="0.42"/><circle cx="303.6" cy="44.9" r="0.42"/><circle cx="331.1" cy="86.7" r="0.42"/><circle cx="295.4" cy="33.1" r="0.42"/><circle cx="303.1" cy="30.6" r="0.42"/><circle cx="347.8" cy="80.6" r="0.42"/><circle cx="317.8" cy="47.2" r="0.42"/><circle cx="297.5" cy="42.5" r="0.42"/><circle cx="300.5" cy="74.4" r="0.42"/><circle cx="345.1" cy="96.2" r="0.42"/><circle cx="313.0" cy="59.5" r="0.42"/><circle cx="312.9" cy="76.3" r="0.42"/><circle cx="322.2" cy="65.3" r="0.42"/><circle cx="321.9" cy="68.7" r="0.42"/><circle cx="322.5" cy="26.1" r="0.42"/><circle cx="275.0" cy="32.7" r="0.42"/><circle cx="346.5" cy="51.3" r="0.42"/><circle cx="273.8" cy="35.0" r="0.42"/><circle cx="294.4" cy="37.2" r="0.42"/><circle cx="280.9" cy="36.7" r="0.42"/><circle cx="308.0" cy="39.8" r="0.42"/><circle cx="318.4" cy="45.1" r="0.42"/><circle cx="292.1" cy="31.8" r="0.42"/><circle cx="321.4" cy="26.2" r="0.42"/><circle cx="309.2" cy="65.8" r="0.42"/><circle cx="285.4" cy="36.4" r="0.42"/><circle cx="281.7" cy="36.1" r="0.42"/><circle cx="314.3" cy="31.2" r="0.42"/><circle cx="309.3" cy="55.1" r="0.42"/><circle cx="268.1" cy="59.7" r="0.42"/><circle cx="319.4" cy="27.5" r="0.42"/><circle cx="322.5" cy="28.8" r="0.42"/><circle cx="281.6" cy="47.5" r="0.42"/><circle cx="285.2" cy="20.7" r="0.42"/><circle cx="297.8" cy="96.3" r="0.42"/><circle cx="338.2" cy="98.7" r="0.42"/><circle cx="311.1" cy="36.0" r="0.42"/><circle cx="315.6" cy="78.3" r="0.42"/><circle cx="297.8" cy="31.6" r="0.42"/><circle cx="298.3" cy="61.9" r="0.42"/><circle cx="297.8" cy="32.5" r="0.42"/><circle cx="298.8" cy="33.0" r="0.42"/><circle cx="297.6" cy="30.3" r="0.42"/><circle cx="300.6" cy="46.2" r="0.42"/><circle cx="302.5" cy="42.6" r="0.42"/><circle cx="316.3" cy="26.9" r="0.42"/><circle cx="344.1" cy="64.0" r="0.42"/><circle cx="320.2" cy="56.8" r="0.42"/><circle cx="278.4" cy="51.5" r="0.42"/><circle cx="306.7" cy="54.0" r="0.42"/><circle cx="283.3" cy="30.6" r="0.42"/><circle cx="312.5" cy="46.5" r="0.42"/><circle cx="312.6" cy="27.3" r="0.42"/><circle cx="303.3" cy="28.5" r="0.42"/><circle cx="327.5" cy="46.0" r="0.42"/><circle cx="293.8" cy="58.2" r="0.42"/><circle cx="302.4" cy="66.2" r="0.42"/><circle cx="282.7" cy="33.9" r="0.42"/><circle cx="342.7" cy="86.5" r="0.42"/><circle cx="297.6" cy="72.2" r="0.42"/><circle cx="282.8" cy="43.1" r="0.42"/><circle cx="305.3" cy="35.1" r="0.42"/><circle cx="275.8" cy="36.6" r="0.42"/><circle cx="303.1" cy="59.2" r="0.42"/><circle cx="350.3" cy="63.1" r="0.42"/><circle cx="274.3" cy="48.0" r="0.42"/><circle cx="305.8" cy="57.1" r="0.42"/><circle cx="336.8" cy="61.2" r="0.42"/><circle cx="281.2" cy="34.3" r="0.42"/><circle cx="304.2" cy="24.3" r="0.42"/><circle cx="336.9" cy="56.3" r="0.42"/><circle cx="282.8" cy="34.1" r="0.42"/><circle cx="308.6" cy="57.1" r="0.42"/><circle cx="326.7" cy="82.1" r="0.42"/><circle cx="332.3" cy="67.9" r="0.42"/><circle cx="279.7" cy="35.1" r="0.42"/><circle cx="284.8" cy="32.7" r="0.42"/><circle cx="305.6" cy="29.0" r="0.42"/><circle cx="304.1" cy="66.7" r="0.42"/><circle cx="293.0" cy="35.4" r="0.42"/><circle cx="307.2" cy="34.4" r="0.42"/><circle cx="341.5" cy="60.9" r="0.42"/><circle cx="300.5" cy="35.0" r="0.42"/><circle cx="309.4" cy="45.8" r="0.42"/><circle cx="297.0" cy="70.5" r="0.42"/><circle cx="292.2" cy="17.7" r="0.42"/><circle cx="297.4" cy="30.1" r="0.42"/><circle cx="329.6" cy="23.9" r="0.42"/><circle cx="269.2" cy="26.3" r="0.42"/><circle cx="262.2" cy="100.0" r="0.42"/><circle cx="288.6" cy="84.5" r="0.42"/><circle cx="336.9" cy="80.4" r="0.42"/><circle cx="319.5" cy="30.3" r="0.42"/><circle cx="314.6" cy="39.5" r="0.42"/><circle cx="300.8" cy="34.0" r="0.42"/><circle cx="263.6" cy="33.7" r="0.42"/><circle cx="324.0" cy="28.4" r="0.42"/><circle cx="326.8" cy="48.6" r="0.42"/><circle cx="292.0" cy="31.9" r="0.42"/><circle cx="359.8" cy="68.4" r="0.42"/><circle cx="316.4" cy="25.7" r="0.42"/><circle cx="323.6" cy="97.1" r="0.42"/><circle cx="297.5" cy="60.8" r="0.42"/><circle cx="303.9" cy="32.4" r="0.42"/><circle cx="323.2" cy="68.0" r="0.42"/><circle cx="330.1" cy="62.3" r="0.42"/><circle cx="299.0" cy="32.7" r="0.42"/><circle cx="331.6" cy="31.2" r="0.42"/><circle cx="275.2" cy="36.1" r="0.42"/><circle cx="325.4" cy="85.8" r="0.42"/><circle cx="315.7" cy="37.4" r="0.42"/><circle cx="311.3" cy="29.9" r="0.42"/><circle cx="284.1" cy="34.7" r="0.42"/><circle cx="308.6" cy="28.9" r="0.42"/><circle cx="311.5" cy="26.6" r="0.42"/><circle cx="273.8" cy="34.2" r="0.42"/><circle cx="319.6" cy="46.2" r="0.42"/><circle cx="291.4" cy="36.3" r="0.42"/><circle cx="300.5" cy="33.1" r="0.42"/><circle cx="298.7" cy="47.7" r="0.42"/><circle cx="306.3" cy="26.1" r="0.42"/><circle cx="300.1" cy="63.0" r="0.42"/><circle cx="311.0" cy="34.8" r="0.42"/><circle cx="287.9" cy="76.6" r="0.42"/><circle cx="306.8" cy="52.3" r="0.42"/><circle cx="305.0" cy="66.5" r="0.42"/><circle cx="282.7" cy="32.5" r="0.42"/><circle cx="316.3" cy="37.0" r="0.42"/><circle cx="310.1" cy="55.4" r="0.42"/><circle cx="323.7" cy="26.8" r="0.42"/><circle cx="324.7" cy="27.5" r="0.42"/><circle cx="298.4" cy="51.4" r="0.42"/><circle cx="324.1" cy="79.1" r="0.42"/><circle cx="318.3" cy="63.1" r="0.42"/><circle cx="277.2" cy="34.3" r="0.42"/><circle cx="290.4" cy="90.6" r="0.42"/><circle cx="274.3" cy="34.1" r="0.42"/><circle cx="315.7" cy="43.2" r="0.42"/><circle cx="341.5" cy="62.1" r="0.42"/><circle cx="298.6" cy="87.6" r="0.42"/><circle cx="300.2" cy="90.8" r="0.42"/><circle cx="303.4" cy="32.3" r="0.42"/><circle cx="333.0" cy="79.8" r="0.42"/><circle cx="294.8" cy="59.3" r="0.42"/><circle cx="330.9" cy="40.4" r="0.42"/><circle cx="321.1" cy="45.8" r="0.42"/><circle cx="276.9" cy="35.9" r="0.42"/><circle cx="334.5" cy="39.8" r="0.42"/><circle cx="291.5" cy="65.0" r="0.42"/><circle cx="348.6" cy="63.1" r="0.42"/><circle cx="325.3" cy="29.8" r="0.42"/><circle cx="284.8" cy="74.4" r="0.42"/><circle cx="271.7" cy="39.9" r="0.42"/><circle cx="291.0" cy="34.5" r="0.42"/><circle cx="324.4" cy="31.8" r="0.42"/><circle cx="332.9" cy="35.9" r="0.42"/><circle cx="274.0" cy="41.3" r="0.42"/><circle cx="294.3" cy="68.2" r="0.42"/><circle cx="349.7" cy="68.6" r="0.42"/><circle cx="312.4" cy="53.2" r="0.42"/><circle cx="310.9" cy="44.3" r="0.42"/><circle cx="305.7" cy="38.0" r="0.42"/><circle cx="297.5" cy="64.1" r="0.42"/><circle cx="321.3" cy="37.9" r="0.42"/><circle cx="311.6" cy="67.6" r="0.42"/><circle cx="326.1" cy="69.7" r="0.42"/><circle cx="282.3" cy="35.6" r="0.42"/><circle cx="324.7" cy="49.5" r="0.42"/><circle cx="303.0" cy="51.4" r="0.42"/><circle cx="275.8" cy="77.8" r="0.42"/><circle cx="337.0" cy="34.8" r="0.42"/><circle cx="328.0" cy="66.1" r="0.42"/><circle cx="305.9" cy="30.8" r="0.42"/><circle cx="341.0" cy="26.9" r="0.42"/><circle cx="292.6" cy="35.4" r="0.42"/><circle cx="299.9" cy="40.8" r="0.42"/><circle cx="286.5" cy="56.7" r="0.42"/><circle cx="296.3" cy="31.1" r="0.42"/><circle cx="308.6" cy="42.5" r="0.42"/><circle cx="277.8" cy="38.1" r="0.42"/><circle cx="286.3" cy="53.9" r="0.42"/><circle cx="299.2" cy="71.9" r="0.42"/><circle cx="323.4" cy="27.2" r="0.42"/><circle cx="307.4" cy="32.2" r="0.42"/><circle cx="288.7" cy="31.2" r="0.42"/><circle cx="286.4" cy="56.8" r="0.42"/><circle cx="299.7" cy="33.4" r="0.42"/><circle cx="281.6" cy="35.9" r="0.42"/><circle cx="358.1" cy="48.8" r="0.42"/><circle cx="305.2" cy="92.2" r="0.42"/><circle cx="330.1" cy="63.0" r="0.42"/><circle cx="322.5" cy="18.0" r="0.42"/><circle cx="280.5" cy="35.3" r="0.42"/><circle cx="346.7" cy="60.7" r="0.42"/><circle cx="294.1" cy="49.1" r="0.42"/><circle cx="331.0" cy="50.4" r="0.42"/><circle cx="286.0" cy="34.8" r="0.42"/><circle cx="308.5" cy="39.3" r="0.42"/><circle cx="278.9" cy="40.8" r="0.42"/><circle cx="295.1" cy="31.8" r="0.42"/><circle cx="298.0" cy="34.2" r="0.42"/><circle cx="290.4" cy="31.8" r="0.42"/><circle cx="308.2" cy="30.9" r="0.42"/><circle cx="277.9" cy="36.9" r="0.42"/><circle cx="307.9" cy="44.0" r="0.42"/><circle cx="281.3" cy="32.8" r="0.42"/><circle cx="333.2" cy="43.0" r="0.42"/><circle cx="323.7" cy="23.5" r="0.42"/><circle cx="310.7" cy="59.7" r="0.42"/><circle cx="267.4" cy="79.9" r="0.42"/><circle cx="329.6" cy="27.4" r="0.42"/><circle cx="293.1" cy="30.3" r="0.42"/><circle cx="317.2" cy="56.6" r="0.42"/><circle cx="379.4" cy="77.9" r="0.42"/><circle cx="289.2" cy="34.3" r="0.42"/><circle cx="272.1" cy="58.2" r="0.42"/><circle cx="286.3" cy="46.5" r="0.42"/><circle cx="288.7" cy="52.2" r="0.42"/><circle cx="307.2" cy="34.4" r="0.42"/><circle cx="299.8" cy="47.3" r="0.42"/><circle cx="308.2" cy="39.7" r="0.42"/><circle cx="323.0" cy="47.4" r="0.42"/><circle cx="310.8" cy="45.9" r="0.42"/><circle cx="301.6" cy="34.0" r="0.42"/><circle cx="309.5" cy="32.0" r="0.42"/><circle cx="279.5" cy="35.0" r="0.42"/><circle cx="282.6" cy="35.0" r="0.42"/><circle cx="330.0" cy="55.0" r="0.42"/><circle cx="263.0" cy="87.7" r="0.42"/><circle cx="283.4" cy="52.1" r="0.42"/><circle cx="272.1" cy="43.9" r="0.42"/><circle cx="365.4" cy="82.7" r="0.42"/><circle cx="314.7" cy="51.7" r="0.42"/><circle cx="301.9" cy="23.8" r="0.42"/><circle cx="308.2" cy="31.9" r="0.42"/><circle cx="328.7" cy="46.9" r="0.42"/><circle cx="292.4" cy="55.3" r="0.42"/><circle cx="301.1" cy="19.4" r="0.42"/><circle cx="303.8" cy="53.7" r="0.42"/><circle cx="304.3" cy="43.1" r="0.42"/><circle cx="310.3" cy="76.6" r="0.42"/><circle cx="304.2" cy="71.1" r="0.42"/><circle cx="356.1" cy="60.6" r="0.42"/><circle cx="301.1" cy="68.7" r="0.42"/><circle cx="290.9" cy="33.3" r="0.42"/><circle cx="269.8" cy="29.1" r="0.42"/><circle cx="365.1" cy="65.3" r="0.42"/><circle cx="286.4" cy="28.5" r="0.42"/><circle cx="311.5" cy="22.6" r="0.42"/><circle cx="350.2" cy="54.1" r="0.42"/><circle cx="315.5" cy="29.1" r="0.42"/><circle cx="300.6" cy="49.2" r="0.42"/><circle cx="370.7" cy="66.8" r="0.42"/><circle cx="331.4" cy="26.4" r="0.42"/><circle cx="304.4" cy="24.1" r="0.42"/><circle cx="302.1" cy="64.9" r="0.42"/><circle cx="293.4" cy="65.9" r="0.42"/><circle cx="329.6" cy="27.7" r="0.42"/><circle cx="383.0" cy="92.9" r="0.42"/><circle cx="296.9" cy="92.0" r="0.42"/><circle cx="331.1" cy="58.2" r="0.42"/><circle cx="322.7" cy="57.8" r="0.42"/><circle cx="300.4" cy="18.4" r="0.42"/><circle cx="322.8" cy="75.1" r="0.42"/><circle cx="290.9" cy="29.5" r="0.42"/><circle cx="300.7" cy="44.0" r="0.42"/><circle cx="309.1" cy="75.8" r="0.42"/><circle cx="296.5" cy="30.7" r="0.42"/><circle cx="271.5" cy="34.6" r="0.42"/><circle cx="313.1" cy="50.6" r="0.42"/></g>
<line x1="262.80" y1="87.00" x2="267.50" y2="92.00" stroke="#c9c0c8" stroke-width="0.35" />
<line x1="256.50" y1="96.30" x2="273.50" y2="102.40" stroke="#c9c0c8" stroke-width="0.35" />
<line x1="266.00" y1="107.40" x2="273.50" y2="102.40" stroke="#c9c0c8" stroke-width="0.35" />
<line x1="245.70" y1="116.70" x2="258.00" y2="113.00" stroke="#c9c0c8" stroke-width="0.35" />
<line x1="262.00" y1="130.20" x2="278.50" y2="128.90" stroke="#c9c0c8" stroke-width="0.35" />
<line x1="286.00" y1="110.90" x2="282.20" y2="104.10" stroke="#c9c0c8" stroke-width="0.35" />
<line x1="311.50" y1="129.70" x2="314.00" y2="134.70" stroke="#c9c0c8" stroke-width="0.35" />
<line x1="335.40" y1="129.70" x2="330.00" y2="134.70" stroke="#c9c0c8" stroke-width="0.35" />
<line x1="354.00" y1="87.00" x2="343.00" y2="94.60" stroke="#c9c0c8" stroke-width="0.35" />
<line x1="354.00" y1="96.80" x2="342.70" y2="94.60" stroke="#c9c0c8" stroke-width="0.35" />
<line x1="358.00" y1="125.70" x2="333.00" y2="134.70" stroke="#c9c0c8" stroke-width="0.35" />
<line x1="341.70" y1="136.10" x2="333.00" y2="134.70" stroke="#c9c0c8" stroke-width="0.35" />
<line x1="272.70" y1="146.50" x2="291.60" y2="134.00" stroke="#c9c0c8" stroke-width="0.35" />
<line x1="291.60" y1="146.50" x2="314.00" y2="134.70" stroke="#c9c0c8" stroke-width="0.35" />
<line x1="303.70" y1="119.70" x2="316.00" y2="111.00" stroke="#c9c0c8" stroke-width="0.35" />
<line x1="318.00" y1="116.00" x2="327.00" y2="111.60" stroke="#c9c0c8" stroke-width="0.35" />
<line x1="340.60" y1="116.20" x2="337.00" y2="116.20" stroke="#c9c0c8" stroke-width="0.35" />
<line x1="278.50" y1="97.50" x2="282.20" y2="97.20" stroke="#c9c0c8" stroke-width="0.35" />
<line x1="298.60" y1="100.60" x2="302.00" y2="97.20" stroke="#c9c0c8" stroke-width="0.35" />
<line x1="275.60" y1="119.50" x2="293.90" y2="106.70" stroke="#c9c0c8" stroke-width="0.35" />
<line x1="292.90" y1="110.90" x2="309.80" y2="103.30" stroke="#c9c0c8" stroke-width="0.35" />
<line x1="325.60" y1="79.00" x2="330.60" y2="91.10" stroke="#c9c0c8" stroke-width="0.35" />
<line x1="268.00" y1="77.50" x2="282.00" y2="92.00" stroke="#c9c0c8" stroke-width="0.35" />
<line x1="311.00" y1="77.90" x2="316.00" y2="93.70" stroke="#c9c0c8" stroke-width="0.35" />
<line x1="228.00" y1="76.20" x2="396.00" y2="76.20" stroke="#444" stroke-width="0.7" stroke-dasharray="2.2 1.6"/>
<line x1="227.60" y1="0.00" x2="227.60" y2="151.70" stroke="#555" stroke-width="0.7" />
<line x1="227.60" y1="151.70" x2="396.00" y2="151.70" stroke="#555" stroke-width="0.7" />
<line x1="225.60" y1="17.46" x2="227.60" y2="17.46" stroke="#555" stroke-width="0.6" />
<text x="225.60" y="19.76" font-size="6.6" fill="#1a1a1a" text-anchor="end" stroke="#1a1a1a" stroke-width="0.1">30</text>
<line x1="225.60" y1="37.04" x2="227.60" y2="37.04" stroke="#555" stroke-width="0.6" />
<text x="225.60" y="39.34" font-size="6.6" fill="#1a1a1a" text-anchor="end" stroke="#1a1a1a" stroke-width="0.1">20</text>
<line x1="225.60" y1="56.62" x2="227.60" y2="56.62" stroke="#555" stroke-width="0.6" />
<text x="225.60" y="58.92" font-size="6.6" fill="#1a1a1a" text-anchor="end" stroke="#1a1a1a" stroke-width="0.1">10</text>
<line x1="225.60" y1="76.20" x2="227.60" y2="76.20" stroke="#555" stroke-width="0.6" />
<text x="225.60" y="78.50" font-size="6.6" fill="#1a1a1a" text-anchor="end" stroke="#1a1a1a" stroke-width="0.1">0</text>
<line x1="225.60" y1="95.78" x2="227.60" y2="95.78" stroke="#555" stroke-width="0.6" />
<text x="225.60" y="98.08" font-size="6.6" fill="#1a1a1a" text-anchor="end" stroke="#1a1a1a" stroke-width="0.1">-10</text>
<line x1="225.60" y1="115.36" x2="227.60" y2="115.36" stroke="#555" stroke-width="0.6" />
<text x="225.60" y="117.66" font-size="6.6" fill="#1a1a1a" text-anchor="end" stroke="#1a1a1a" stroke-width="0.1">-20</text>
<line x1="225.60" y1="134.94" x2="227.60" y2="134.94" stroke="#555" stroke-width="0.6" />
<text x="225.60" y="137.24" font-size="6.6" fill="#1a1a1a" text-anchor="end" stroke="#1a1a1a" stroke-width="0.1">-30</text>
<line x1="243.30" y1="151.70" x2="243.30" y2="153.70" stroke="#555" stroke-width="0.6" />
<text x="243.30" y="160.40" font-size="6.4" fill="#1a1a1a" text-anchor="middle" stroke="#1a1a1a" stroke-width="0.1">0</text>
<line x1="272.75" y1="151.70" x2="272.75" y2="153.70" stroke="#555" stroke-width="0.6" />
<text x="272.75" y="160.40" font-size="6.4" fill="#1a1a1a" text-anchor="middle" stroke="#1a1a1a" stroke-width="0.1">1</text>
<line x1="302.20" y1="151.70" x2="302.20" y2="153.70" stroke="#555" stroke-width="0.6" />
<text x="302.20" y="160.40" font-size="6.4" fill="#1a1a1a" text-anchor="middle" stroke="#1a1a1a" stroke-width="0.1">2</text>
<line x1="331.65" y1="151.70" x2="331.65" y2="153.70" stroke="#555" stroke-width="0.6" />
<text x="331.65" y="160.40" font-size="6.4" fill="#1a1a1a" text-anchor="middle" stroke="#1a1a1a" stroke-width="0.1">3</text>
<line x1="361.10" y1="151.70" x2="361.10" y2="153.70" stroke="#555" stroke-width="0.6" />
<text x="361.10" y="160.40" font-size="6.4" fill="#1a1a1a" text-anchor="middle" stroke="#1a1a1a" stroke-width="0.1">4</text>
<line x1="390.55" y1="151.70" x2="390.55" y2="153.70" stroke="#555" stroke-width="0.6" />
<text x="390.55" y="160.40" font-size="6.4" fill="#1a1a1a" text-anchor="middle" stroke="#1a1a1a" stroke-width="0.1">5</text>
<text x="310" y="166.6" font-size="6" fill="#333" text-anchor="middle">Log<tspan font-size="3.8" dy="1.4">10</tspan><tspan dy="-1.4"> (average normalized counts)</tspan></text>
<text x="0" y="0" font-size="6.3" fill="#1a1a1a" stroke="#1a1a1a" stroke-width="0.08" text-anchor="middle" transform="translate(208.3 79.6) rotate(-90)">Log<tspan font-size="4" dy="1.4">2</tspan><tspan dy="-1.4"> (fold change)</tspan></text>
<circle cx="282.10" cy="92.00" r="1.3" fill="#26262c" stroke="none" stroke-width="0.5"/>
<circle cx="285.20" cy="92.00" r="1.3" fill="#26262c" stroke="none" stroke-width="0.5"/>
<circle cx="282.50" cy="97.20" r="1.3" fill="#26262c" stroke="none" stroke-width="0.5"/>
<circle cx="282.10" cy="103.30" r="1.3" fill="#26262c" stroke="none" stroke-width="0.5"/>
<circle cx="303.70" cy="92.00" r="1.3" fill="#26262c" stroke="none" stroke-width="0.5"/>
<circle cx="311.50" cy="93.70" r="1.3" fill="#26262c" stroke="none" stroke-width="0.5"/>
<circle cx="313.00" cy="95.50" r="1.3" fill="#26262c" stroke="none" stroke-width="0.5"/>
<circle cx="314.10" cy="96.50" r="1.3" fill="#26262c" stroke="none" stroke-width="0.5"/>
<circle cx="316.70" cy="93.70" r="1.3" fill="#26262c" stroke="none" stroke-width="0.5"/>
<circle cx="325.00" cy="88.50" r="1.3" fill="#26262c" stroke="none" stroke-width="0.5"/>
<circle cx="330.60" cy="91.10" r="1.3" fill="#26262c" stroke="none" stroke-width="0.5"/>
<circle cx="332.30" cy="92.50" r="1.3" fill="#26262c" stroke="none" stroke-width="0.5"/>
<circle cx="325.70" cy="96.00" r="1.3" fill="#26262c" stroke="none" stroke-width="0.5"/>
<circle cx="331.40" cy="96.70" r="1.3" fill="#26262c" stroke="none" stroke-width="0.5"/>
<circle cx="334.90" cy="98.90" r="1.3" fill="#26262c" stroke="none" stroke-width="0.5"/>
<circle cx="338.30" cy="97.20" r="1.3" fill="#26262c" stroke="none" stroke-width="0.5"/>
<circle cx="342.70" cy="94.60" r="1.3" fill="#26262c" stroke="none" stroke-width="0.5"/>
<circle cx="302.00" cy="97.20" r="1.3" fill="#26262c" stroke="none" stroke-width="0.5"/>
<circle cx="309.80" cy="103.30" r="1.3" fill="#26262c" stroke="none" stroke-width="0.5"/>
<circle cx="316.40" cy="101.50" r="1.3" fill="#26262c" stroke="none" stroke-width="0.5"/>
<circle cx="325.00" cy="101.50" r="1.3" fill="#26262c" stroke="none" stroke-width="0.5"/>
<circle cx="317.60" cy="105.80" r="1.3" fill="#26262c" stroke="none" stroke-width="0.5"/>
<circle cx="315.80" cy="110.20" r="1.3" fill="#26262c" stroke="none" stroke-width="0.5"/>
<circle cx="315.30" cy="111.90" r="1.3" fill="#26262c" stroke="none" stroke-width="0.5"/>
<circle cx="293.90" cy="106.70" r="1.3" fill="#26262c" stroke="none" stroke-width="0.5"/>
<circle cx="327.10" cy="111.60" r="1.3" fill="#26262c" stroke="none" stroke-width="0.5"/>
<circle cx="337.10" cy="116.20" r="1.3" fill="#26262c" stroke="none" stroke-width="0.5"/>
<circle cx="278.30" cy="128.90" r="1.3" fill="#26262c" stroke="none" stroke-width="0.5"/>
<circle cx="291.60" cy="134.00" r="1.3" fill="#26262c" stroke="none" stroke-width="0.5"/>
<circle cx="314.10" cy="134.70" r="1.3" fill="#26262c" stroke="none" stroke-width="0.5"/>
<circle cx="315.80" cy="134.70" r="1.3" fill="#26262c" stroke="none" stroke-width="0.5"/>
<circle cx="317.60" cy="134.70" r="1.3" fill="#26262c" stroke="none" stroke-width="0.5"/>
<circle cx="325.40" cy="134.70" r="1.3" fill="#26262c" stroke="none" stroke-width="0.5"/>
<circle cx="328.00" cy="134.70" r="1.3" fill="#26262c" stroke="none" stroke-width="0.5"/>
<circle cx="330.60" cy="134.70" r="1.3" fill="#26262c" stroke="none" stroke-width="0.5"/>
<circle cx="333.10" cy="134.70" r="1.3" fill="#26262c" stroke="none" stroke-width="0.5"/>
<circle cx="267.50" cy="92.00" r="1.3" fill="#26262c" stroke="none" stroke-width="0.5"/>
<circle cx="273.50" cy="102.40" r="1.3" fill="#26262c" stroke="none" stroke-width="0.5"/>
<circle cx="274.70" cy="102.40" r="1.3" fill="#26262c" stroke="none" stroke-width="0.5"/>
<circle cx="282.20" cy="95.00" r="1.3" fill="#26262c" stroke="none" stroke-width="0.5"/>
<circle cx="306.00" cy="95.50" r="1.3" fill="#26262c" stroke="none" stroke-width="0.5"/>
<circle cx="311.00" cy="100.00" r="1.3" fill="#26262c" stroke="none" stroke-width="0.5"/>
<circle cx="318.00" cy="103.50" r="1.3" fill="#26262c" stroke="none" stroke-width="0.5"/>
<circle cx="314.50" cy="104.50" r="1.3" fill="#26262c" stroke="none" stroke-width="0.5"/>
<text x="312.30" y="69.80" font-size="4.7" fill="#5b5b95" text-anchor="start" >TMEM98</text>
<text x="338.30" y="69.80" font-size="4.7" fill="#5b5b95" text-anchor="start" >TRPC6</text>
<text x="264.60" y="79.20" font-size="4.7" fill="#b5473e" text-anchor="start" >AXL</text>
<text x="304.40" y="79.60" font-size="4.7" fill="#5b5b95" text-anchor="start" >ASIC1</text>
<text x="325.60" y="80.70" font-size="4.7" fill="#b5473e" text-anchor="start" >CRS</text>
<text x="250.60" y="88.70" font-size="4.7" fill="#5b5b95" text-anchor="start" >NEO1</text>
<text x="270.40" y="89.40" font-size="4.7" fill="#5b5b95" text-anchor="start" >SLC6A6/B1TM3</text>
<text x="307.20" y="90.20" font-size="4.7" fill="#5b5b95" text-anchor="start" >NRNU1</text>
<text x="336.00" y="91.10" font-size="4.7" fill="#5b5b95" text-anchor="start" >EMR1</text>
<text x="355.60" y="88.70" font-size="4.7" fill="#5b5b95" text-anchor="start" >GABBR2</text>
<text x="239.20" y="98.00" font-size="4.7" fill="#5b5b95" text-anchor="start" >ATP2B1</text>
<text x="263.00" y="99.20" font-size="4.7" fill="#b5473e" text-anchor="start" >BLVRA</text>
<text x="354.40" y="98.50" font-size="4.7" fill="#5b5b95" text-anchor="start" >ADORA2A</text>
<text x="284.80" y="102.30" font-size="4.7" fill="#b5473e" text-anchor="start" >LIMK2</text>
<text x="302.70" y="102.30" font-size="4.7" fill="#5b5b95" text-anchor="start" >FZD5</text>
<text x="249.60" y="109.10" font-size="4.7" fill="#5b5b95" text-anchor="start" >GPR85</text>
<text x="321.50" y="108.40" font-size="4.7" fill="#5b5b95" text-anchor="start" >TMEM59</text>
<text x="370.80" y="108.40" font-size="4.7" fill="#b5473e" text-anchor="start" >MAP3K14</text>
<text x="271.40" y="112.60" font-size="4.7" fill="#5b5b95" text-anchor="start" >LRP11</text>
<text x="292.90" y="112.60" font-size="4.7" fill="#5b5b95" text-anchor="start" >STM5A2</text>
<text x="231.00" y="118.40" font-size="4.7" fill="#5b5b95" text-anchor="start" >KLRK1</text>
<text x="318.10" y="117.90" font-size="4.7" fill="#5b5b95" text-anchor="start" >LMEU1</text>
<text x="340.60" y="117.90" font-size="4.7" fill="#5b5b95" text-anchor="start" >IL4</text>
<text x="353.00" y="117.90" font-size="4.7" fill="#9a8ab8" text-anchor="start" >PTPRJ</text>
<text x="275.60" y="121.20" font-size="4.7" fill="#b5473e" text-anchor="start" >BRAF</text>
<text x="303.70" y="121.40" font-size="4.7" fill="#5b5b95" text-anchor="start" >FGFRL1</text>
<text x="340.20" y="127.40" font-size="4.7" fill="#5b5b95" text-anchor="start" >OR4K2</text>
<text x="359.90" y="127.40" font-size="4.7" fill="#5b5b95" text-anchor="start" >MSR1</text>
<text x="243.30" y="131.90" font-size="4.7" fill="#5b5b95" text-anchor="start" >ENTPD1</text>
<text x="289.90" y="131.40" font-size="4.7" fill="#5b5b95" text-anchor="start" >HLA-DMA</text>
<text x="319.30" y="131.40" font-size="4.7" fill="#5b5b95" text-anchor="start" >KCNT2</text>
<text x="341.70" y="137.80" font-size="4.7" fill="#5b5b95" text-anchor="start" >PCDH8</text>
<text x="365.10" y="137.80" font-size="4.7" fill="#b5473e" text-anchor="start" >BRSK2</text>
<text x="295.00" y="141.30" font-size="4.7" fill="#5b5b95" text-anchor="start" >MPZL2</text>
<text x="254.50" y="148.20" font-size="4.7" fill="#5b5b95" text-anchor="start" >TSPAN8</text>
<text x="279.50" y="148.20" font-size="4.7" fill="#5b5b95" text-anchor="start" >SELP</text>
<text x="339.20" y="148.20" font-size="4.7" fill="#5b5b95" text-anchor="start" >RET</text>
<rect x="229.30" y="136.90" width="27.40" height="5.60" fill="#a8363a" stroke="none" stroke-width="0.5" rx="0.8"/>
<text x="243.00" y="141.30" font-size="4.9" fill="#fff" text-anchor="middle" >CSNK1A1L</text>
<rect x="251.00" y="117.20" width="24.60" height="5.60" fill="#a8363a" stroke="none" stroke-width="0.5" rx="0.8"/>
<text x="263.30" y="121.60" font-size="4.9" fill="#fff" text-anchor="middle" >CSNK2A2</text>
<rect x="267.80" y="134.00" width="16.90" height="5.60" fill="#55558f" stroke="none" stroke-width="0.5" rx="0.8"/>
<text x="276.25" y="138.40" font-size="4.9" fill="#fff" text-anchor="middle" >ITGA2</text>
<rect x="342.30" y="104.40" width="24.80" height="5.60" fill="#55558f" stroke="none" stroke-width="0.5" rx="0.8"/>
<text x="354.70" y="108.80" font-size="4.9" fill="#fff" text-anchor="middle" >IL1RAPL1</text>
<rect x="377.70" y="123.70" width="15.90" height="5.60" fill="#55558f" stroke="none" stroke-width="0.5" rx="0.8"/>
<text x="385.65" y="128.10" font-size="4.9" fill="#fff" text-anchor="middle" >CDH7</text>
<rect x="315.30" y="143.60" width="18.70" height="5.60" fill="#55558f" stroke="none" stroke-width="0.5" rx="0.8"/>
<text x="324.65" y="148.00" font-size="4.9" fill="#fff" text-anchor="middle" >IL18R1</text>
<circle cx="405.30" cy="68.00" r="2.1" fill="#6a7a8c" stroke="#3a3a3a" stroke-width="0.9"/>
<text x="412.70" y="70.50" font-size="7" fill="#333" text-anchor="start" >Extracellular domain/secreted</text>
<circle cx="405.30" cy="75.90" r="2.1" fill="#b0646e" stroke="#3a3a3a" stroke-width="0.9"/>
<text x="412.70" y="78.40" font-size="7" fill="#333" text-anchor="start" >Kinases</text>
<circle cx="405.30" cy="83.50" r="2.1" fill="#9a9a9a" stroke="#3a3a3a" stroke-width="0.9"/>
<text x="412.70" y="86.00" font-size="7" fill="#333" text-anchor="start" >Others</text>
<text x="1.3" y="214.3" font-size="7" fill="#111" font-weight="bold"><tspan font-style="italic">In Vitro</tspan> validation</text>
<path d="M23.41,226.20 C23.51,226.79 23.27,227.64 22.89,228.11 C22.51,228.58 21.69,228.81 21.14,229.02 C20.60,229.24 20.13,229.20 19.63,229.38 C19.14,229.57 18.74,230.01 18.19,230.15 C17.63,230.28 16.85,230.41 16.29,230.21 C15.72,230.01 15.02,229.50 14.79,228.96 C14.57,228.43 14.86,227.56 14.93,226.98 C15.00,226.40 15.16,226.01 15.24,225.49 C15.31,224.96 15.21,224.43 15.37,223.85 C15.52,223.27 15.72,222.38 16.18,222.01 C16.64,221.64 17.52,221.53 18.12,221.64 C18.72,221.74 19.28,222.32 19.76,222.64 C20.23,222.96 20.56,223.24 20.98,223.56 C21.40,223.88 21.86,224.13 22.27,224.57 C22.67,225.01 23.31,225.61 23.41,226.20 Z" fill="#b4d868" stroke="#47661c" stroke-width="0.8"/>
<circle cx="18.80" cy="226.10" r="2.05" fill="#8dbb45" stroke="#3d5e16" stroke-width="0.5"/>
<circle cx="18.80" cy="226.10" r="0.82" fill="#2c4a10" stroke="none" stroke-width="0.5"/>
<path d="M12.32,232.70 C12.51,233.25 13.04,234.01 12.98,234.60 C12.91,235.20 12.43,235.97 11.92,236.27 C11.41,236.58 10.51,236.46 9.91,236.44 C9.32,236.42 8.85,236.22 8.34,236.14 C7.82,236.06 7.38,236.07 6.82,235.95 C6.26,235.83 5.45,235.78 4.98,235.40 C4.50,235.03 4.00,234.29 3.99,233.70 C3.98,233.12 4.57,232.38 4.92,231.90 C5.26,231.41 5.75,231.21 6.06,230.78 C6.36,230.35 6.38,229.74 6.75,229.31 C7.11,228.89 7.66,228.41 8.23,228.21 C8.80,228.02 9.68,227.85 10.19,228.13 C10.69,228.40 10.99,229.33 11.26,229.86 C11.54,230.38 11.66,230.83 11.84,231.30 C12.02,231.78 12.13,232.15 12.32,232.70 Z" fill="#b4d868" stroke="#47661c" stroke-width="0.8"/>
<circle cx="8.90" cy="232.60" r="2.05" fill="#8dbb45" stroke="#3d5e16" stroke-width="0.5"/>
<circle cx="8.90" cy="232.60" r="0.82" fill="#2c4a10" stroke="none" stroke-width="0.5"/>
<path d="M32.96,231.80 C32.81,232.36 32.56,232.80 32.33,233.28 C32.10,233.76 31.90,234.19 31.58,234.66 C31.25,235.13 30.91,235.81 30.40,236.11 C29.89,236.41 29.07,236.61 28.51,236.45 C27.96,236.29 27.46,235.58 27.07,235.15 C26.67,234.72 26.47,234.30 26.15,233.87 C25.82,233.45 25.43,233.13 25.13,232.62 C24.84,232.11 24.33,231.40 24.36,230.81 C24.39,230.23 24.84,229.49 25.29,229.11 C25.75,228.72 26.54,228.61 27.10,228.50 C27.66,228.40 28.13,228.59 28.65,228.50 C29.18,228.41 29.66,228.02 30.24,227.99 C30.81,227.97 31.62,228.02 32.12,228.34 C32.61,228.66 33.09,229.34 33.23,229.92 C33.37,230.49 33.11,231.24 32.96,231.80 Z" fill="#b4d868" stroke="#47661c" stroke-width="0.8"/>
<circle cx="29.20" cy="231.70" r="2.05" fill="#8dbb45" stroke="#3d5e16" stroke-width="0.5"/>
<circle cx="29.20" cy="231.70" r="0.82" fill="#2c4a10" stroke="none" stroke-width="0.5"/>
<path d="M23.25,238.30 C23.24,238.89 22.93,239.62 22.55,240.06 C22.16,240.49 21.42,240.63 20.95,240.91 C20.48,241.19 20.18,241.45 19.72,241.74 C19.25,242.02 18.71,242.54 18.14,242.63 C17.58,242.72 16.79,242.58 16.31,242.26 C15.83,241.94 15.50,241.24 15.28,240.71 C15.06,240.18 14.99,239.59 14.97,239.07 C14.96,238.55 15.17,238.12 15.21,237.58 C15.24,237.04 15.05,236.43 15.21,235.83 C15.36,235.24 15.63,234.31 16.12,234.01 C16.61,233.70 17.55,233.90 18.15,234.03 C18.76,234.16 19.27,234.50 19.75,234.77 C20.22,235.04 20.51,235.36 20.98,235.65 C21.45,235.95 22.21,236.09 22.58,236.53 C22.96,236.97 23.25,237.71 23.25,238.30 Z" fill="#b4d868" stroke="#47661c" stroke-width="0.8"/>
<circle cx="18.80" cy="238.20" r="2.05" fill="#8dbb45" stroke="#3d5e16" stroke-width="0.5"/>
<circle cx="18.80" cy="238.20" r="0.82" fill="#2c4a10" stroke="none" stroke-width="0.5"/>
<path d="M18.05,243.50 C18.04,244.06 17.56,244.75 17.18,245.18 C16.80,245.62 16.21,245.86 15.76,246.12 C15.31,246.38 14.92,246.51 14.46,246.76 C13.99,247.01 13.54,247.47 12.97,247.60 C12.40,247.74 11.57,247.83 11.04,247.58 C10.51,247.34 9.99,246.68 9.78,246.13 C9.57,245.58 9.78,244.83 9.79,244.27 C9.79,243.70 9.77,243.27 9.80,242.74 C9.84,242.20 9.81,241.60 10.01,241.04 C10.21,240.48 10.52,239.66 11.01,239.37 C11.51,239.08 12.39,239.17 12.96,239.31 C13.53,239.46 14.01,239.96 14.46,240.23 C14.91,240.51 15.22,240.71 15.68,240.97 C16.14,241.23 16.83,241.38 17.22,241.80 C17.62,242.22 18.05,242.94 18.05,243.50 Z" fill="#b4d868" stroke="#47661c" stroke-width="0.8"/>
<circle cx="13.60" cy="243.40" r="2.05" fill="#8dbb45" stroke="#3d5e16" stroke-width="0.5"/>
<circle cx="13.60" cy="243.40" r="0.82" fill="#2c4a10" stroke="none" stroke-width="0.5"/>
<path d="M25.02,244.40 C24.87,244.95 24.62,245.33 24.45,245.85 C24.28,246.36 24.27,246.95 23.98,247.49 C23.69,248.02 23.25,248.79 22.71,249.04 C22.16,249.30 21.30,249.22 20.72,249.01 C20.14,248.81 19.59,248.27 19.23,247.82 C18.87,247.37 18.88,246.75 18.56,246.32 C18.23,245.89 17.63,245.72 17.27,245.24 C16.91,244.75 16.39,243.98 16.43,243.39 C16.46,242.80 17.01,242.10 17.48,241.70 C17.95,241.30 18.67,241.09 19.23,240.99 C19.79,240.89 20.32,241.19 20.86,241.12 C21.39,241.05 21.87,240.60 22.44,240.58 C23.01,240.56 23.79,240.66 24.27,240.98 C24.76,241.31 25.24,241.98 25.36,242.55 C25.49,243.12 25.17,243.85 25.02,244.40 Z" fill="#b4d868" stroke="#47661c" stroke-width="0.8"/>
<circle cx="21.40" cy="244.30" r="2.05" fill="#8dbb45" stroke="#3d5e16" stroke-width="0.5"/>
<circle cx="21.40" cy="244.30" r="0.82" fill="#2c4a10" stroke="none" stroke-width="0.5"/>
<path d="M35.56,241.40 C35.58,241.94 35.76,242.47 35.68,243.04 C35.60,243.61 35.47,244.39 35.09,244.84 C34.71,245.28 33.98,245.67 33.40,245.71 C32.82,245.75 32.14,245.28 31.61,245.07 C31.09,244.86 30.70,244.67 30.24,244.44 C29.79,244.21 29.34,244.03 28.86,243.68 C28.38,243.34 27.59,242.92 27.37,242.38 C27.14,241.85 27.29,241.00 27.52,240.45 C27.75,239.89 28.29,239.37 28.76,239.04 C29.22,238.72 29.85,238.77 30.32,238.50 C30.79,238.22 31.06,237.67 31.58,237.40 C32.10,237.14 32.88,236.81 33.46,236.91 C34.04,237.00 34.72,237.50 35.07,237.98 C35.43,238.47 35.49,239.24 35.57,239.81 C35.66,240.38 35.55,240.86 35.56,241.40 Z" fill="#b4d868" stroke="#47661c" stroke-width="0.8"/>
<circle cx="32.20" cy="241.30" r="2.05" fill="#8dbb45" stroke="#3d5e16" stroke-width="0.5"/>
<circle cx="32.20" cy="241.30" r="0.82" fill="#2c4a10" stroke="none" stroke-width="0.5"/>
<path d="M38.96,245.20 C39.12,245.75 39.06,246.55 38.80,247.07 C38.55,247.59 37.96,248.13 37.43,248.34 C36.90,248.56 36.16,248.28 35.63,248.36 C35.09,248.45 34.75,248.75 34.22,248.86 C33.68,248.96 32.96,249.15 32.41,248.99 C31.86,248.82 31.23,248.37 30.91,247.88 C30.59,247.39 30.44,246.63 30.52,246.07 C30.59,245.51 31.17,245.01 31.36,244.51 C31.55,244.01 31.47,243.56 31.66,243.06 C31.85,242.57 32.06,241.92 32.47,241.52 C32.88,241.12 33.55,240.69 34.12,240.65 C34.69,240.61 35.39,240.96 35.88,241.26 C36.36,241.57 36.71,242.08 37.03,242.50 C37.35,242.92 37.48,243.32 37.80,243.77 C38.12,244.22 38.79,244.65 38.96,245.20 Z" fill="#b4d868" stroke="#47661c" stroke-width="0.8"/>
<circle cx="34.80" cy="245.10" r="2.05" fill="#8dbb45" stroke="#3d5e16" stroke-width="0.5"/>
<circle cx="34.80" cy="245.10" r="0.82" fill="#2c4a10" stroke="none" stroke-width="0.5"/>
<path d="M109.76,234.90 C109.75,235.46 109.29,236.13 108.91,236.55 C108.53,236.97 107.92,237.16 107.48,237.43 C107.04,237.71 106.72,237.97 106.27,238.19 C105.82,238.42 105.34,238.68 104.79,238.78 C104.24,238.87 103.46,239.00 102.97,238.76 C102.48,238.52 102.04,237.86 101.85,237.33 C101.66,236.81 101.81,236.14 101.83,235.62 C101.84,235.10 101.90,234.70 101.94,234.21 C101.98,233.71 101.90,233.15 102.08,232.63 C102.25,232.11 102.56,231.43 103.01,231.11 C103.46,230.80 104.24,230.62 104.76,230.75 C105.29,230.88 105.74,231.61 106.18,231.90 C106.61,232.19 106.90,232.27 107.37,232.49 C107.84,232.71 108.60,232.81 109.00,233.21 C109.40,233.61 109.78,234.34 109.76,234.90 Z" fill="#b4d868" stroke="#47661c" stroke-width="0.8"/>
<circle cx="105.40" cy="234.80" r="1.9" fill="#8dbb45" stroke="#3d5e16" stroke-width="0.5"/>
<circle cx="105.40" cy="234.80" r="0.76" fill="#2c4a10" stroke="none" stroke-width="0.5"/>
<path d="M116.46,234.90 C116.46,235.40 116.79,235.86 116.77,236.40 C116.74,236.94 116.65,237.70 116.31,238.13 C115.97,238.56 115.27,238.93 114.72,238.97 C114.18,239.02 113.53,238.59 113.03,238.39 C112.54,238.18 112.19,237.98 111.75,237.76 C111.31,237.55 110.81,237.42 110.38,237.09 C109.96,236.76 109.39,236.31 109.20,235.79 C109.00,235.28 108.97,234.50 109.20,234.01 C109.43,233.51 110.11,233.12 110.56,232.84 C111.01,232.55 111.49,232.55 111.90,232.30 C112.31,232.05 112.55,231.61 113.03,231.36 C113.50,231.10 114.21,230.71 114.74,230.79 C115.26,230.87 115.82,231.40 116.16,231.83 C116.51,232.27 116.75,232.87 116.80,233.39 C116.85,233.90 116.47,234.40 116.46,234.90 Z" fill="#b4d868" stroke="#47661c" stroke-width="0.8"/>
<circle cx="113.60" cy="234.80" r="1.9" fill="#8dbb45" stroke="#3d5e16" stroke-width="0.5"/>
<circle cx="113.60" cy="234.80" r="0.76" fill="#2c4a10" stroke="none" stroke-width="0.5"/>
<path d="M111.60,242.60 C111.66,243.13 111.23,243.86 110.86,244.27 C110.49,244.69 109.81,244.85 109.36,245.11 C108.90,245.36 108.58,245.65 108.15,245.82 C107.71,245.99 107.25,246.07 106.73,246.13 C106.21,246.20 105.53,246.39 105.01,246.22 C104.49,246.06 103.83,245.62 103.61,245.13 C103.39,244.65 103.65,243.86 103.68,243.33 C103.72,242.79 103.74,242.38 103.83,241.90 C103.92,241.43 104.04,241.03 104.21,240.50 C104.38,239.97 104.44,239.05 104.85,238.70 C105.26,238.36 106.10,238.36 106.66,238.44 C107.22,238.52 107.76,238.91 108.21,239.18 C108.66,239.46 108.96,239.79 109.35,240.10 C109.73,240.42 110.14,240.66 110.52,241.08 C110.90,241.49 111.54,242.07 111.60,242.60 Z" fill="#b4d868" stroke="#47661c" stroke-width="0.8"/>
<circle cx="107.30" cy="242.50" r="1.9" fill="#8dbb45" stroke="#3d5e16" stroke-width="0.5"/>
<circle cx="107.30" cy="242.50" r="0.76" fill="#2c4a10" stroke="none" stroke-width="0.5"/>
<path d="M120.09,243.60 C120.19,244.15 119.98,244.94 119.64,245.40 C119.30,245.86 118.59,246.17 118.08,246.35 C117.56,246.53 117.02,246.33 116.54,246.49 C116.06,246.64 115.73,247.15 115.21,247.29 C114.70,247.43 113.96,247.52 113.45,247.32 C112.94,247.12 112.35,246.61 112.15,246.11 C111.95,245.60 112.19,244.83 112.26,244.31 C112.34,243.79 112.53,243.44 112.59,242.96 C112.65,242.48 112.49,241.96 112.65,241.45 C112.80,240.95 113.07,240.29 113.49,239.94 C113.91,239.60 114.63,239.31 115.16,239.39 C115.68,239.46 116.23,240.07 116.64,240.39 C117.05,240.72 117.23,241.06 117.63,241.34 C118.03,241.62 118.62,241.70 119.03,242.07 C119.44,242.45 119.99,243.05 120.09,243.60 Z" fill="#b4d868" stroke="#47661c" stroke-width="0.8"/>
<circle cx="115.80" cy="243.50" r="1.9" fill="#8dbb45" stroke="#3d5e16" stroke-width="0.5"/>
<circle cx="115.80" cy="243.50" r="0.76" fill="#2c4a10" stroke="none" stroke-width="0.5"/>
<text x="0.00" y="260.30" font-size="6.1" fill="#222" text-anchor="start" >BR16-Cas9-A2</text>
<line x1="53.80" y1="239.30" x2="85.94" y2="239.30" stroke="#111" stroke-width="1.0" />
<polygon points="88.70,239.30 84.10,235.85 85.85,239.30 84.10,242.75" fill="#111" stroke="#111" stroke-width="0.3" stroke-linejoin="round"/>
<text x="71.80" y="251.00" font-size="6.2" fill="#222" text-anchor="middle" >sgRNA targeting</text>
<text x="71.80" y="257.80" font-size="6.2" fill="#222" text-anchor="middle" >one gene</text>
<text x="109.80" y="257.20" font-size="6.2" fill="#222" text-anchor="middle" >Individual</text>
<text x="109.60" y="265.00" font-size="6.2" fill="#222" text-anchor="middle" >loss-of-function</text>
<text x="109.60" y="272.40" font-size="6.2" fill="#222" text-anchor="middle" >cells</text>
<line x1="132.70" y1="238.60" x2="164.54" y2="238.60" stroke="#111" stroke-width="1.0" />
<polygon points="167.30,238.60 162.70,235.15 164.45,238.60 162.70,242.05" fill="#111" stroke="#111" stroke-width="0.3" stroke-linejoin="round"/>
<text x="150.00" y="250.20" font-size="6.1" fill="#222" text-anchor="middle" >CTC cluster</text>
<text x="150.00" y="258.30" font-size="6.1" fill="#222" text-anchor="middle" >size assessmet</text>
<rect x="176.20" y="230.00" width="60.60" height="17.40" fill="#fff" stroke="#555" stroke-width="0.7" />
<text x="206.50" y="237.40" font-size="6.55" fill="#222" text-anchor="middle" >Microscope-based</text>
<text x="206.50" y="244.60" font-size="6.55" fill="#222" text-anchor="middle" >cluster size assay</text>
<line x1="285.20" y1="199.80" x2="285.20" y2="257.60" stroke="#1a1a1a" stroke-width="0.6" />
<line x1="285.20" y1="257.60" x2="492.00" y2="257.60" stroke="#1a1a1a" stroke-width="0.6" />
<line x1="283.00" y1="257.60" x2="285.20" y2="257.60" stroke="#333" stroke-width="0.6" />
<text x="280.80" y="259.90" font-size="6.4" fill="#1a1a1a" text-anchor="end" stroke="#1a1a1a" stroke-width="0.1">0</text>
<line x1="284.00" y1="251.84" x2="285.20" y2="251.84" stroke="#333" stroke-width="0.5" />
<line x1="283.00" y1="246.07" x2="285.20" y2="246.07" stroke="#333" stroke-width="0.6" />
<text x="280.80" y="248.37" font-size="6.4" fill="#1a1a1a" text-anchor="end" stroke="#1a1a1a" stroke-width="0.1">200</text>
<line x1="284.00" y1="240.31" x2="285.20" y2="240.31" stroke="#333" stroke-width="0.5" />
<line x1="283.00" y1="234.54" x2="285.20" y2="234.54" stroke="#333" stroke-width="0.6" />
<text x="280.80" y="236.84" font-size="6.4" fill="#1a1a1a" text-anchor="end" stroke="#1a1a1a" stroke-width="0.1">400</text>
<line x1="284.00" y1="228.78" x2="285.20" y2="228.78" stroke="#333" stroke-width="0.5" />
<line x1="283.00" y1="223.01" x2="285.20" y2="223.01" stroke="#333" stroke-width="0.6" />
<text x="280.80" y="225.31" font-size="6.4" fill="#1a1a1a" text-anchor="end" stroke="#1a1a1a" stroke-width="0.1">600</text>
<line x1="284.00" y1="217.25" x2="285.20" y2="217.25" stroke="#333" stroke-width="0.5" />
<line x1="283.00" y1="211.48" x2="285.20" y2="211.48" stroke="#333" stroke-width="0.6" />
<text x="280.80" y="213.78" font-size="6.4" fill="#1a1a1a" text-anchor="end" stroke="#1a1a1a" stroke-width="0.1">800</text>
<line x1="284.00" y1="205.72" x2="285.20" y2="205.72" stroke="#333" stroke-width="0.5" />
<line x1="283.00" y1="199.95" x2="285.20" y2="199.95" stroke="#333" stroke-width="0.6" />
<text x="280.80" y="202.25" font-size="6.4" fill="#1a1a1a" text-anchor="end" stroke="#1a1a1a" stroke-width="0.1">1,000</text>
<line x1="295.30" y1="257.60" x2="295.30" y2="260.00" stroke="#333" stroke-width="0.6" />
<line x1="309.82" y1="257.60" x2="309.82" y2="260.00" stroke="#333" stroke-width="0.6" />
<line x1="324.34" y1="257.60" x2="324.34" y2="260.00" stroke="#333" stroke-width="0.6" />
<line x1="338.86" y1="257.60" x2="338.86" y2="260.00" stroke="#333" stroke-width="0.6" />
<line x1="353.38" y1="257.60" x2="353.38" y2="260.00" stroke="#333" stroke-width="0.6" />
<line x1="367.90" y1="257.60" x2="367.90" y2="260.00" stroke="#333" stroke-width="0.6" />
<line x1="382.42" y1="257.60" x2="382.42" y2="260.00" stroke="#333" stroke-width="0.6" />
<line x1="396.94" y1="257.60" x2="396.94" y2="260.00" stroke="#333" stroke-width="0.6" />
<line x1="411.46" y1="257.60" x2="411.46" y2="260.00" stroke="#333" stroke-width="0.6" />
<line x1="425.98" y1="257.60" x2="425.98" y2="260.00" stroke="#333" stroke-width="0.6" />
<line x1="440.50" y1="257.60" x2="440.50" y2="260.00" stroke="#333" stroke-width="0.6" />
<line x1="455.02" y1="257.60" x2="455.02" y2="260.00" stroke="#333" stroke-width="0.6" />
<line x1="469.54" y1="257.60" x2="469.54" y2="260.00" stroke="#333" stroke-width="0.6" />
<line x1="484.06" y1="257.60" x2="484.06" y2="260.00" stroke="#333" stroke-width="0.6" />
<text x="0" y="0" font-size="6.15" fill="#1a1a1a" stroke="#1a1a1a" stroke-width="0.08" text-anchor="middle" transform="translate(263 230.8) rotate(-90)">Mean cluster size (area μm<tspan font-size="4" dy="-2">2</tspan><tspan dy="2">)</tspan></text>
<circle cx="292.94" cy="243.83" r="1.35" fill="none" stroke="#111" stroke-width="0.55"/>
<circle cx="296.24" cy="243.37" r="1.35" fill="none" stroke="#111" stroke-width="0.55"/>
<circle cx="296.43" cy="243.08" r="1.35" fill="none" stroke="#111" stroke-width="0.55"/>
<circle cx="298.34" cy="243.14" r="1.35" fill="none" stroke="#111" stroke-width="0.55"/>
<circle cx="293.13" cy="242.96" r="1.35" fill="none" stroke="#111" stroke-width="0.55"/>
<circle cx="295.03" cy="240.92" r="1.35" fill="none" stroke="#111" stroke-width="0.55"/>
<circle cx="298.33" cy="244.16" r="1.35" fill="none" stroke="#111" stroke-width="0.55"/>
<circle cx="292.16" cy="243.04" r="1.35" fill="none" stroke="#111" stroke-width="0.55"/>
<circle cx="296.51" cy="242.62" r="1.35" fill="none" stroke="#111" stroke-width="0.55"/>
<circle cx="297.47" cy="243.81" r="1.35" fill="none" stroke="#111" stroke-width="0.55"/>
<circle cx="296.84" cy="242.11" r="1.35" fill="none" stroke="#111" stroke-width="0.55"/>
<circle cx="296.12" cy="242.73" r="1.35" fill="none" stroke="#111" stroke-width="0.55"/>
<circle cx="293.51" cy="241.83" r="1.35" fill="none" stroke="#111" stroke-width="0.55"/>
<circle cx="295.05" cy="242.92" r="1.35" fill="none" stroke="#111" stroke-width="0.55"/>
<circle cx="297.27" cy="242.40" r="1.35" fill="none" stroke="#111" stroke-width="0.55"/>
<circle cx="299.09" cy="243.94" r="1.35" fill="none" stroke="#111" stroke-width="0.55"/>
<circle cx="294.35" cy="242.95" r="1.35" fill="none" stroke="#111" stroke-width="0.55"/>
<circle cx="299.22" cy="243.90" r="1.35" fill="none" stroke="#111" stroke-width="0.55"/>
<circle cx="298.71" cy="242.88" r="1.35" fill="none" stroke="#111" stroke-width="0.55"/>
<circle cx="292.75" cy="242.97" r="1.35" fill="none" stroke="#111" stroke-width="0.55"/>
<circle cx="299.49" cy="244.08" r="1.35" fill="none" stroke="#111" stroke-width="0.55"/>
<circle cx="293.51" cy="242.81" r="1.35" fill="none" stroke="#111" stroke-width="0.55"/>
<circle cx="295.37" cy="243.67" r="1.35" fill="none" stroke="#111" stroke-width="0.55"/>
<circle cx="296.07" cy="242.76" r="1.35" fill="none" stroke="#111" stroke-width="0.55"/>
<circle cx="296.06" cy="242.32" r="1.35" fill="none" stroke="#111" stroke-width="0.55"/>
<circle cx="299.16" cy="243.78" r="1.35" fill="none" stroke="#111" stroke-width="0.55"/>
<circle cx="306.82" cy="207.44" r="1.45" fill="none" stroke="#111" stroke-width="0.5"/>
<circle cx="310.42" cy="209.75" r="1.45" fill="none" stroke="#111" stroke-width="0.5"/>
<circle cx="312.02" cy="214.65" r="1.45" fill="none" stroke="#111" stroke-width="0.5"/>
<circle cx="307.82" cy="216.09" r="1.45" fill="none" stroke="#111" stroke-width="0.5"/>
<circle cx="309.42" cy="216.67" r="1.45" fill="none" stroke="#111" stroke-width="0.5"/>
<circle cx="313.02" cy="217.25" r="1.45" fill="none" stroke="#111" stroke-width="0.5"/>
<circle cx="306.82" cy="217.82" r="1.45" fill="none" stroke="#111" stroke-width="0.5"/>
<circle cx="310.42" cy="218.40" r="1.45" fill="none" stroke="#111" stroke-width="0.5"/>
<circle cx="312.02" cy="219.26" r="1.45" fill="none" stroke="#111" stroke-width="0.5"/>
<circle cx="307.82" cy="220.13" r="1.45" fill="none" stroke="#111" stroke-width="0.5"/>
<circle cx="309.42" cy="224.16" r="1.45" fill="none" stroke="#111" stroke-width="0.5"/>
<circle cx="313.02" cy="225.32" r="1.45" fill="none" stroke="#111" stroke-width="0.5"/>
<circle cx="306.82" cy="226.18" r="1.45" fill="none" stroke="#111" stroke-width="0.5"/>
<line x1="306.32" y1="217.82" x2="313.32" y2="217.82" stroke="#111" stroke-width="0.6" />
<circle cx="321.34" cy="242.03" r="1.45" fill="none" stroke="#111" stroke-width="0.5"/>
<circle cx="324.94" cy="241.17" r="1.45" fill="none" stroke="#111" stroke-width="0.5"/>
<circle cx="326.54" cy="240.31" r="1.45" fill="none" stroke="#111" stroke-width="0.5"/>
<circle cx="322.34" cy="241.46" r="1.45" fill="none" stroke="#111" stroke-width="0.5"/>
<circle cx="323.94" cy="240.88" r="1.45" fill="none" stroke="#111" stroke-width="0.5"/>
<line x1="320.84" y1="241.17" x2="327.84" y2="241.17" stroke="#111" stroke-width="0.6" />
<polygon points="324.34,228.98 324.90,230.32 326.34,230.43 325.24,231.37 325.57,232.78 324.34,232.03 323.11,232.78 323.44,231.37 322.34,230.43 323.78,230.32" fill="#111"/>
<circle cx="335.86" cy="232.23" r="1.45" fill="none" stroke="#111" stroke-width="0.5"/>
<circle cx="339.46" cy="234.54" r="1.45" fill="none" stroke="#111" stroke-width="0.5"/>
<circle cx="341.06" cy="236.85" r="1.45" fill="none" stroke="#111" stroke-width="0.5"/>
<circle cx="336.86" cy="234.25" r="1.45" fill="none" stroke="#111" stroke-width="0.5"/>
<circle cx="338.46" cy="233.39" r="1.45" fill="none" stroke="#111" stroke-width="0.5"/>
<line x1="335.36" y1="234.25" x2="342.36" y2="234.25" stroke="#111" stroke-width="0.6" />
<polygon points="338.86,222.06 339.42,223.40 340.86,223.51 339.76,224.46 340.09,225.86 338.86,225.11 337.63,225.86 337.96,224.46 336.86,223.51 338.30,223.40" fill="#111"/>
<circle cx="350.38" cy="234.54" r="1.45" fill="none" stroke="#111" stroke-width="0.5"/>
<circle cx="353.98" cy="236.56" r="1.45" fill="none" stroke="#111" stroke-width="0.5"/>
<circle cx="355.58" cy="237.13" r="1.45" fill="none" stroke="#111" stroke-width="0.5"/>
<circle cx="351.38" cy="235.69" r="1.45" fill="none" stroke="#111" stroke-width="0.5"/>
<circle cx="352.98" cy="236.27" r="1.45" fill="none" stroke="#111" stroke-width="0.5"/>
<line x1="349.88" y1="236.27" x2="356.88" y2="236.27" stroke="#111" stroke-width="0.6" />
<polygon points="353.38,225.23 353.94,226.57 355.38,226.68 354.28,227.63 354.61,229.03 353.38,228.28 352.15,229.03 352.48,227.63 351.38,226.68 352.82,226.57" fill="#111"/>
<circle cx="364.90" cy="242.32" r="1.45" fill="none" stroke="#111" stroke-width="0.5"/>
<circle cx="368.50" cy="244.05" r="1.45" fill="none" stroke="#111" stroke-width="0.5"/>
<circle cx="370.10" cy="245.78" r="1.45" fill="none" stroke="#111" stroke-width="0.5"/>
<circle cx="365.90" cy="244.34" r="1.45" fill="none" stroke="#111" stroke-width="0.5"/>
<circle cx="367.50" cy="243.19" r="1.45" fill="none" stroke="#111" stroke-width="0.5"/>
<line x1="364.40" y1="244.05" x2="371.40" y2="244.05" stroke="#111" stroke-width="0.6" />
<polygon points="367.90,232.44 368.46,233.78 369.90,233.89 368.80,234.83 369.13,236.24 367.90,235.49 366.67,236.24 367.00,234.83 365.90,233.89 367.34,233.78" fill="#111"/>
<circle cx="379.42" cy="238.58" r="1.45" fill="none" stroke="#111" stroke-width="0.5"/>
<circle cx="383.02" cy="238.58" r="1.45" fill="none" stroke="#111" stroke-width="0.5"/>
<circle cx="384.62" cy="238.29" r="1.45" fill="none" stroke="#111" stroke-width="0.5"/>
<circle cx="380.42" cy="238.58" r="1.45" fill="none" stroke="#111" stroke-width="0.5"/>
<circle cx="382.02" cy="238.00" r="1.45" fill="none" stroke="#111" stroke-width="0.5"/>
<line x1="378.92" y1="238.58" x2="385.92" y2="238.58" stroke="#111" stroke-width="0.6" />
<polygon points="382.42,228.40 382.98,229.74 384.42,229.86 383.32,230.80 383.65,232.20 382.42,231.45 381.19,232.20 381.52,230.80 380.42,229.86 381.86,229.74" fill="#111"/>
<circle cx="393.94" cy="241.46" r="1.45" fill="none" stroke="#111" stroke-width="0.5"/>
<circle cx="397.54" cy="240.31" r="1.45" fill="none" stroke="#111" stroke-width="0.5"/>
<circle cx="399.14" cy="242.03" r="1.45" fill="none" stroke="#111" stroke-width="0.5"/>
<circle cx="394.94" cy="240.88" r="1.45" fill="none" stroke="#111" stroke-width="0.5"/>
<circle cx="396.54" cy="240.31" r="1.45" fill="none" stroke="#111" stroke-width="0.5"/>
<line x1="393.44" y1="240.88" x2="400.44" y2="240.88" stroke="#111" stroke-width="0.6" />
<polygon points="396.94,229.56 397.50,230.89 398.94,231.01 397.84,231.95 398.17,233.36 396.94,232.60 395.71,233.36 396.04,231.95 394.94,231.01 396.38,230.89" fill="#111"/>
<circle cx="408.46" cy="242.03" r="1.45" fill="none" stroke="#111" stroke-width="0.5"/>
<circle cx="412.06" cy="243.48" r="1.45" fill="none" stroke="#111" stroke-width="0.5"/>
<circle cx="413.66" cy="243.76" r="1.45" fill="none" stroke="#111" stroke-width="0.5"/>
<circle cx="409.46" cy="242.90" r="1.45" fill="none" stroke="#111" stroke-width="0.5"/>
<circle cx="411.06" cy="243.19" r="1.45" fill="none" stroke="#111" stroke-width="0.5"/>
<line x1="407.96" y1="243.19" x2="414.96" y2="243.19" stroke="#111" stroke-width="0.6" />
<polygon points="411.46,231.86 412.02,233.20 413.46,233.31 412.36,234.26 412.69,235.66 411.46,234.91 410.23,235.66 410.56,234.26 409.46,233.31 410.90,233.20" fill="#111"/>
<circle cx="422.98" cy="243.76" r="1.45" fill="none" stroke="#111" stroke-width="0.5"/>
<circle cx="426.58" cy="244.92" r="1.45" fill="none" stroke="#111" stroke-width="0.5"/>
<circle cx="428.18" cy="247.80" r="1.45" fill="none" stroke="#111" stroke-width="0.5"/>
<circle cx="423.98" cy="246.07" r="1.45" fill="none" stroke="#111" stroke-width="0.5"/>
<circle cx="425.58" cy="245.21" r="1.45" fill="none" stroke="#111" stroke-width="0.5"/>
<line x1="422.48" y1="245.21" x2="429.48" y2="245.21" stroke="#111" stroke-width="0.6" />
<polygon points="425.98,230.13 426.54,231.47 427.98,231.59 426.88,232.53 427.21,233.93 425.98,233.18 424.75,233.93 425.08,232.53 423.98,231.59 425.42,231.47" fill="#111"/>
<circle cx="437.50" cy="238.00" r="1.45" fill="none" stroke="#111" stroke-width="0.5"/>
<circle cx="441.10" cy="238.58" r="1.45" fill="none" stroke="#111" stroke-width="0.5"/>
<circle cx="442.70" cy="240.88" r="1.45" fill="none" stroke="#111" stroke-width="0.5"/>
<circle cx="438.50" cy="239.73" r="1.45" fill="none" stroke="#111" stroke-width="0.5"/>
<circle cx="440.10" cy="240.31" r="1.45" fill="none" stroke="#111" stroke-width="0.5"/>
<line x1="437.00" y1="239.73" x2="444.00" y2="239.73" stroke="#111" stroke-width="0.6" />
<polygon points="440.50,227.25 441.06,228.59 442.50,228.70 441.40,229.64 441.73,231.05 440.50,230.30 439.27,231.05 439.60,229.64 438.50,228.70 439.94,228.59" fill="#111"/>
<circle cx="452.02" cy="247.80" r="1.45" fill="none" stroke="#111" stroke-width="0.5"/>
<circle cx="455.62" cy="247.80" r="1.45" fill="none" stroke="#111" stroke-width="0.5"/>
<circle cx="457.22" cy="247.51" r="1.45" fill="none" stroke="#111" stroke-width="0.5"/>
<circle cx="453.02" cy="247.80" r="1.45" fill="none" stroke="#111" stroke-width="0.5"/>
<circle cx="454.62" cy="247.80" r="1.45" fill="none" stroke="#111" stroke-width="0.5"/>
<line x1="451.52" y1="247.80" x2="458.52" y2="247.80" stroke="#111" stroke-width="0.6" />
<polygon points="455.02,235.90 455.58,237.23 457.02,237.35 455.92,238.29 456.25,239.70 455.02,238.94 453.79,239.70 454.12,238.29 453.02,237.35 454.46,237.23" fill="#111"/>
<circle cx="466.54" cy="239.15" r="1.45" fill="none" stroke="#111" stroke-width="0.5"/>
<circle cx="470.14" cy="242.03" r="1.45" fill="none" stroke="#111" stroke-width="0.5"/>
<circle cx="471.74" cy="240.31" r="1.45" fill="none" stroke="#111" stroke-width="0.5"/>
<circle cx="467.54" cy="241.46" r="1.45" fill="none" stroke="#111" stroke-width="0.5"/>
<circle cx="469.14" cy="241.75" r="1.45" fill="none" stroke="#111" stroke-width="0.5"/>
<line x1="466.04" y1="241.46" x2="473.04" y2="241.46" stroke="#111" stroke-width="0.6" />
<polygon points="469.54,229.56 470.10,230.89 471.54,231.01 470.44,231.95 470.77,233.36 469.54,232.60 468.31,233.36 468.64,231.95 467.54,231.01 468.98,230.89" fill="#111"/>
<circle cx="481.06" cy="240.88" r="1.45" fill="none" stroke="#111" stroke-width="0.5"/>
<circle cx="484.66" cy="242.03" r="1.45" fill="none" stroke="#111" stroke-width="0.5"/>
<circle cx="486.26" cy="241.17" r="1.45" fill="none" stroke="#111" stroke-width="0.5"/>
<circle cx="482.06" cy="241.75" r="1.45" fill="none" stroke="#111" stroke-width="0.5"/>
<circle cx="483.66" cy="241.46" r="1.45" fill="none" stroke="#111" stroke-width="0.5"/>
<line x1="480.56" y1="241.46" x2="487.56" y2="241.46" stroke="#111" stroke-width="0.6" />
<polygon points="484.06,230.71 484.62,232.05 486.06,232.16 484.96,233.10 485.29,234.51 484.06,233.76 482.83,234.51 483.16,233.10 482.06,232.16 483.50,232.05" fill="#111"/>
<rect x="287.60" y="261.80" width="14.52" height="8.50" fill="#2b3ff0" stroke="#1a2a80" stroke-width="0.5" />
<rect x="302.12" y="261.80" width="14.52" height="8.50" fill="#3c52ec" stroke="#1a2a80" stroke-width="0.5" />
<rect x="316.64" y="261.80" width="14.52" height="8.50" fill="#2c40ec" stroke="#1a2a80" stroke-width="0.5" />
<rect x="331.16" y="261.80" width="14.52" height="8.50" fill="#3043e9" stroke="#1a2a80" stroke-width="0.5" />
<rect x="345.68" y="261.80" width="14.52" height="8.50" fill="#2c41ee" stroke="#1a2a80" stroke-width="0.5" />
<rect x="360.20" y="261.80" width="14.52" height="8.50" fill="#3347ea" stroke="#1a2a80" stroke-width="0.5" />
<rect x="374.72" y="261.80" width="14.52" height="8.50" fill="#2d41ee" stroke="#1a2a80" stroke-width="0.5" />
<rect x="389.24" y="261.80" width="14.52" height="8.50" fill="#2e42ec" stroke="#1a2a80" stroke-width="0.5" />
<rect x="403.76" y="261.80" width="14.52" height="8.50" fill="#3a50ea" stroke="#1a2a80" stroke-width="0.5" />
<rect x="418.28" y="261.80" width="14.52" height="8.50" fill="#2c41ee" stroke="#1a2a80" stroke-width="0.5" />
<rect x="432.80" y="261.80" width="14.52" height="8.50" fill="#2a3eee" stroke="#1a2a80" stroke-width="0.5" />
<rect x="447.32" y="261.80" width="14.52" height="8.50" fill="#3248ea" stroke="#1a2a80" stroke-width="0.5" />
<rect x="461.84" y="261.80" width="14.52" height="8.50" fill="#2c40ee" stroke="#1a2a80" stroke-width="0.5" />
<rect x="476.36" y="261.80" width="14.52" height="8.50" fill="#2a3df0" stroke="#1a2a80" stroke-width="0.5" />
<text x="298.00" y="275.80" font-size="6.3" fill="#1a1a1a" stroke="#1a1a1a" stroke-width="0.12" text-anchor="end" transform="rotate(-45 298.00 275.80)">Filtered</text>
<text x="312.52" y="275.80" font-size="6.3" fill="#1a1a1a" stroke="#1a1a1a" stroke-width="0.12" text-anchor="end" transform="rotate(-45 312.52 275.80)">Nontargeting sgRNA</text>
<text x="327.04" y="275.80" font-size="6.3" fill="#1a1a1a" stroke="#1a1a1a" stroke-width="0.12" text-anchor="end" transform="rotate(-45 327.04 275.80)">CDH7 sgRNA 1</text>
<text x="341.56" y="275.80" font-size="6.3" fill="#1a1a1a" stroke="#1a1a1a" stroke-width="0.12" text-anchor="end" transform="rotate(-45 341.56 275.80)">CDH7 sgRNA 2</text>
<text x="356.08" y="275.80" font-size="6.3" fill="#1a1a1a" stroke="#1a1a1a" stroke-width="0.12" text-anchor="end" transform="rotate(-45 356.08 275.80)">IL18R1 sgRNA 1</text>
<text x="370.60" y="275.80" font-size="6.3" fill="#1a1a1a" stroke="#1a1a1a" stroke-width="0.12" text-anchor="end" transform="rotate(-45 370.60 275.80)">IL18R1 sgRNA 2</text>
<text x="385.12" y="275.80" font-size="6.3" fill="#1a1a1a" stroke="#1a1a1a" stroke-width="0.12" text-anchor="end" transform="rotate(-45 385.12 275.80)">ITGA2 sgRNA 1</text>
<text x="399.64" y="275.80" font-size="6.3" fill="#1a1a1a" stroke="#1a1a1a" stroke-width="0.12" text-anchor="end" transform="rotate(-45 399.64 275.80)">ITGA2 sgRNA 2</text>
<text x="414.16" y="275.80" font-size="6.3" fill="#1a1a1a" stroke="#1a1a1a" stroke-width="0.12" text-anchor="end" transform="rotate(-45 414.16 275.80)">IL1RAPL1 sgRNA 1</text>
<text x="428.68" y="275.80" font-size="6.3" fill="#1a1a1a" stroke="#1a1a1a" stroke-width="0.12" text-anchor="end" transform="rotate(-45 428.68 275.80)">IL1RAPL1 sgRNA 2</text>
<text x="443.20" y="275.80" font-size="6.3" fill="#1a1a1a" stroke="#1a1a1a" stroke-width="0.12" text-anchor="end" transform="rotate(-45 443.20 275.80)">CSNK1A1L sgRNA 1</text>
<text x="457.72" y="275.80" font-size="6.3" fill="#1a1a1a" stroke="#1a1a1a" stroke-width="0.12" text-anchor="end" transform="rotate(-45 457.72 275.80)">CSNK1A1L sgRNA 2</text>
<text x="472.24" y="275.80" font-size="6.3" fill="#1a1a1a" stroke="#1a1a1a" stroke-width="0.12" text-anchor="end" transform="rotate(-45 472.24 275.80)">CSNK2A2 sgRNA 1</text>
<text x="486.76" y="275.80" font-size="6.3" fill="#1a1a1a" stroke="#1a1a1a" stroke-width="0.12" text-anchor="end" transform="rotate(-45 486.76 275.80)">CSNK2A2 sgRNA 2</text>
<defs><linearGradient id="vg" x1="0" y1="1" x2="0" y2="0"><stop offset="0" stop-color="#f4f4fe"/><stop offset="1" stop-color="#1f2ff0"/></linearGradient><linearGradient id="lum" x1="0" y1="1" x2="0" y2="0"><stop offset="0" stop-color="#2a14d8"/><stop offset="0.14" stop-color="#1e4cf4"/><stop offset="0.3" stop-color="#18c8f4"/><stop offset="0.45" stop-color="#20e070"/><stop offset="0.6" stop-color="#8ce628"/><stop offset="0.74" stop-color="#f0ee22"/><stop offset="0.88" stop-color="#ff8a14"/><stop offset="1" stop-color="#f02a14"/></linearGradient><filter id="nz" x="0" y="0" width="1" height="1"><feTurbulence type="fractalNoise" baseFrequency="0.9" numOctaves="2" seed="4"/><feColorMatrix type="matrix" values="0 0 0 0 0.5  0 0 0 0 0.5  0 0 0 0 0.5  0 0 0 0.55 0"/></filter></defs>
<rect x="497.80" y="218.40" width="5.60" height="52.00" fill="url(#vg)" stroke="#333" stroke-width="0.5" />
<line x1="503.40" y1="270.40" x2="505.00" y2="270.40" stroke="#333" stroke-width="0.5" />
<text x="506.50" y="272.50" font-size="6.0" fill="#1a1a1a" text-anchor="start" >0</text>
<line x1="503.40" y1="257.40" x2="505.00" y2="257.40" stroke="#333" stroke-width="0.5" />
<text x="506.50" y="259.50" font-size="6.0" fill="#1a1a1a" text-anchor="start" >25</text>
<line x1="503.40" y1="244.40" x2="505.00" y2="244.40" stroke="#333" stroke-width="0.5" />
<text x="506.50" y="246.50" font-size="6.0" fill="#1a1a1a" text-anchor="start" >50</text>
<line x1="503.40" y1="231.40" x2="505.00" y2="231.40" stroke="#333" stroke-width="0.5" />
<text x="506.50" y="233.50" font-size="6.0" fill="#1a1a1a" text-anchor="start" >75</text>
<line x1="503.40" y1="218.40" x2="505.00" y2="218.40" stroke="#333" stroke-width="0.5" />
<text x="506.50" y="220.50" font-size="6.0" fill="#1a1a1a" text-anchor="start" >100</text>
<text x="0" y="0" font-size="6" fill="#1a1a1a" stroke="#1a1a1a" stroke-width="0.08" text-anchor="start" transform="translate(502.6 215.2) rotate(-90)">% Viability</text>
<text x="6" y="340" font-size="7" fill="#111" font-weight="bold"><tspan font-style="italic">In Vivo</tspan> validation</text>
<circle cx="11.68" cy="358.23" r="1.9949999999999999" fill="#a5c44a" stroke="#3b4a1c" stroke-width="0.6"/>
<circle cx="15.96" cy="359.35" r="1.8900000000000001" fill="#a5c44a" stroke="#3b4a1c" stroke-width="0.6"/>
<circle cx="14.92" cy="363.44" r="1.9949999999999999" fill="#a5c44a" stroke="#3b4a1c" stroke-width="0.6"/>
<circle cx="10.63" cy="362.32" r="1.8900000000000001" fill="#a5c44a" stroke="#3b4a1c" stroke-width="0.6"/>
<circle cx="13.20" cy="360.80" r="1.785" fill="#a5c44a" stroke="#3b4a1c" stroke-width="0.6"/>
<circle cx="12.50" cy="359.65" r="0.9450000000000001" fill="#eef3dc" stroke="#56702a" stroke-width="0.35"/>
<circle cx="13.86" cy="362.05" r="0.9450000000000001" fill="#eef3dc" stroke="#56702a" stroke-width="0.35"/>
<circle cx="24.68" cy="351.55" r="1.9949999999999999" fill="#a5c44a" stroke="#3b4a1c" stroke-width="0.6"/>
<circle cx="27.25" cy="355.16" r="1.8900000000000001" fill="#a5c44a" stroke="#3b4a1c" stroke-width="0.6"/>
<circle cx="23.82" cy="357.63" r="1.9949999999999999" fill="#a5c44a" stroke="#3b4a1c" stroke-width="0.6"/>
<circle cx="21.25" cy="354.02" r="1.8900000000000001" fill="#a5c44a" stroke="#3b4a1c" stroke-width="0.6"/>
<circle cx="24.20" cy="354.50" r="1.785" fill="#a5c44a" stroke="#3b4a1c" stroke-width="0.6"/>
<circle cx="24.40" cy="353.17" r="0.9450000000000001" fill="#eef3dc" stroke="#56702a" stroke-width="0.35"/>
<circle cx="23.91" cy="355.88" r="0.9450000000000001" fill="#eef3dc" stroke="#56702a" stroke-width="0.35"/>
<circle cx="35.25" cy="347.94" r="1.9949999999999999" fill="#a5c44a" stroke="#3b4a1c" stroke-width="0.6"/>
<circle cx="39.67" cy="348.29" r="1.8900000000000001" fill="#a5c44a" stroke="#3b4a1c" stroke-width="0.6"/>
<circle cx="39.35" cy="352.50" r="1.9949999999999999" fill="#a5c44a" stroke="#3b4a1c" stroke-width="0.6"/>
<circle cx="34.94" cy="352.15" r="1.8900000000000001" fill="#a5c44a" stroke="#3b4a1c" stroke-width="0.6"/>
<circle cx="37.20" cy="350.20" r="1.785" fill="#a5c44a" stroke="#3b4a1c" stroke-width="0.6"/>
<circle cx="36.31" cy="349.19" r="0.9450000000000001" fill="#eef3dc" stroke="#56702a" stroke-width="0.35"/>
<circle cx="38.07" cy="351.31" r="0.9450000000000001" fill="#eef3dc" stroke="#56702a" stroke-width="0.35"/>
<circle cx="23.50" cy="362.63" r="1.9949999999999999" fill="#a5c44a" stroke="#3b4a1c" stroke-width="0.6"/>
<circle cx="26.92" cy="365.45" r="1.8900000000000001" fill="#a5c44a" stroke="#3b4a1c" stroke-width="0.6"/>
<circle cx="24.25" cy="368.72" r="1.9949999999999999" fill="#a5c44a" stroke="#3b4a1c" stroke-width="0.6"/>
<circle cx="20.83" cy="365.90" r="1.8900000000000001" fill="#a5c44a" stroke="#3b4a1c" stroke-width="0.6"/>
<circle cx="23.80" cy="365.60" r="1.785" fill="#a5c44a" stroke="#3b4a1c" stroke-width="0.6"/>
<circle cx="23.65" cy="364.26" r="0.9450000000000001" fill="#eef3dc" stroke="#56702a" stroke-width="0.35"/>
<circle cx="23.87" cy="367.01" r="0.9450000000000001" fill="#eef3dc" stroke="#56702a" stroke-width="0.35"/>
<circle cx="34.36" cy="367.30" r="1.9949999999999999" fill="#a5c44a" stroke="#3b4a1c" stroke-width="0.6"/>
<circle cx="35.54" cy="371.57" r="1.8900000000000001" fill="#a5c44a" stroke="#3b4a1c" stroke-width="0.6"/>
<circle cx="31.48" cy="372.71" r="1.9949999999999999" fill="#a5c44a" stroke="#3b4a1c" stroke-width="0.6"/>
<circle cx="30.30" cy="368.44" r="1.8900000000000001" fill="#a5c44a" stroke="#3b4a1c" stroke-width="0.6"/>
<circle cx="32.90" cy="369.90" r="1.785" fill="#a5c44a" stroke="#3b4a1c" stroke-width="0.6"/>
<circle cx="33.54" cy="368.72" r="0.9450000000000001" fill="#eef3dc" stroke="#56702a" stroke-width="0.35"/>
<circle cx="32.15" cy="371.10" r="0.9450000000000001" fill="#eef3dc" stroke="#56702a" stroke-width="0.35"/>
<circle cx="39.04" cy="359.41" r="1.9949999999999999" fill="#a5c44a" stroke="#3b4a1c" stroke-width="0.6"/>
<circle cx="43.07" cy="361.25" r="1.8900000000000001" fill="#a5c44a" stroke="#3b4a1c" stroke-width="0.6"/>
<circle cx="41.34" cy="365.10" r="1.9949999999999999" fill="#a5c44a" stroke="#3b4a1c" stroke-width="0.6"/>
<circle cx="37.31" cy="363.26" r="1.8900000000000001" fill="#a5c44a" stroke="#3b4a1c" stroke-width="0.6"/>
<circle cx="40.10" cy="362.20" r="1.785" fill="#a5c44a" stroke="#3b4a1c" stroke-width="0.6"/>
<circle cx="39.61" cy="360.95" r="0.9450000000000001" fill="#eef3dc" stroke="#56702a" stroke-width="0.35"/>
<circle cx="40.54" cy="363.54" r="0.9450000000000001" fill="#eef3dc" stroke="#56702a" stroke-width="0.35"/>
<circle cx="44.99" cy="361.18" r="1.9949999999999999" fill="#a5c44a" stroke="#3b4a1c" stroke-width="0.6"/>
<circle cx="46.89" cy="365.18" r="1.8900000000000001" fill="#a5c44a" stroke="#3b4a1c" stroke-width="0.6"/>
<circle cx="43.09" cy="367.01" r="1.9949999999999999" fill="#a5c44a" stroke="#3b4a1c" stroke-width="0.6"/>
<circle cx="41.18" cy="363.01" r="1.8900000000000001" fill="#a5c44a" stroke="#3b4a1c" stroke-width="0.6"/>
<circle cx="44.00" cy="364.00" r="1.785" fill="#a5c44a" stroke="#3b4a1c" stroke-width="0.6"/>
<circle cx="44.43" cy="362.73" r="0.9450000000000001" fill="#eef3dc" stroke="#56702a" stroke-width="0.35"/>
<circle cx="43.47" cy="365.31" r="0.9450000000000001" fill="#eef3dc" stroke="#56702a" stroke-width="0.35"/>
<text x="4.50" y="385.20" font-size="7" fill="#222" text-anchor="start" >LM2-Cas9-C32</text>
<line x1="71.00" y1="359.50" x2="101.12" y2="359.50" stroke="#111" stroke-width="1.0" />
<polygon points="104.00,359.50 99.20,355.90 101.02,359.50 99.20,363.10" fill="#111" stroke="#111" stroke-width="0.3" stroke-linejoin="round"/>
<text x="89.00" y="370.70" font-size="7" fill="#222" text-anchor="middle" >sgRNA targeting</text>
<text x="89.00" y="378.80" font-size="7" fill="#222" text-anchor="middle" >one gene</text>
<circle cx="133.31" cy="353.58" r="1.7" fill="#5cc43a" stroke="#2a5a18" stroke-width="0.5"/>
<circle cx="137.12" cy="353.84" r="1.7" fill="#5cc43a" stroke="#2a5a18" stroke-width="0.5"/>
<circle cx="136.77" cy="357.54" r="1.7" fill="#5cc43a" stroke="#2a5a18" stroke-width="0.5"/>
<circle cx="133.08" cy="357.19" r="1.7" fill="#5cc43a" stroke="#2a5a18" stroke-width="0.5"/>
<circle cx="135.00" cy="355.50" r="1.8" fill="#2a8adc" stroke="#1a3a6a" stroke-width="0.4"/>
<circle cx="140.44" cy="354.44" r="1.7" fill="#5cc43a" stroke="#2a5a18" stroke-width="0.5"/>
<circle cx="143.19" cy="357.09" r="1.7" fill="#5cc43a" stroke="#2a5a18" stroke-width="0.5"/>
<circle cx="140.55" cy="359.70" r="1.7" fill="#5cc43a" stroke="#2a5a18" stroke-width="0.5"/>
<circle cx="137.94" cy="357.06" r="1.7" fill="#5cc43a" stroke="#2a5a18" stroke-width="0.5"/>
<circle cx="140.50" cy="357.00" r="1.8" fill="#2a8adc" stroke="#1a3a6a" stroke-width="0.4"/>
<circle cx="144.67" cy="357.81" r="1.7" fill="#5cc43a" stroke="#2a5a18" stroke-width="0.5"/>
<circle cx="148.38" cy="358.74" r="1.7" fill="#5cc43a" stroke="#2a5a18" stroke-width="0.5"/>
<circle cx="147.39" cy="362.32" r="1.7" fill="#5cc43a" stroke="#2a5a18" stroke-width="0.5"/>
<circle cx="143.81" cy="361.33" r="1.7" fill="#5cc43a" stroke="#2a5a18" stroke-width="0.5"/>
<circle cx="146.00" cy="360.00" r="1.8" fill="#2a8adc" stroke="#1a3a6a" stroke-width="0.4"/>
<circle cx="135.32" cy="360.07" r="1.7" fill="#5cc43a" stroke="#2a5a18" stroke-width="0.5"/>
<circle cx="137.00" cy="363.51" r="1.7" fill="#5cc43a" stroke="#2a5a18" stroke-width="0.5"/>
<circle cx="133.62" cy="365.05" r="1.7" fill="#5cc43a" stroke="#2a5a18" stroke-width="0.5"/>
<circle cx="132.07" cy="361.68" r="1.7" fill="#5cc43a" stroke="#2a5a18" stroke-width="0.5"/>
<circle cx="134.50" cy="362.50" r="1.8" fill="#2a8adc" stroke="#1a3a6a" stroke-width="0.4"/>
<circle cx="139.07" cy="361.61" r="1.7" fill="#5cc43a" stroke="#2a5a18" stroke-width="0.5"/>
<circle cx="142.56" cy="363.17" r="1.7" fill="#5cc43a" stroke="#2a5a18" stroke-width="0.5"/>
<circle cx="140.97" cy="366.52" r="1.7" fill="#5cc43a" stroke="#2a5a18" stroke-width="0.5"/>
<circle cx="137.61" cy="364.93" r="1.7" fill="#5cc43a" stroke="#2a5a18" stroke-width="0.5"/>
<circle cx="140.00" cy="364.00" r="1.8" fill="#2a8adc" stroke="#1a3a6a" stroke-width="0.4"/>
<text x="144.60" y="377.60" font-size="7" fill="#222" text-anchor="middle" >Individual</text>
<text x="145.40" y="386.00" font-size="7" fill="#222" text-anchor="middle" >loss-of-function</text>
<text x="145.40" y="394.30" font-size="7" fill="#222" text-anchor="middle" >cells</text>
<line x1="172.00" y1="359.80" x2="201.12" y2="359.80" stroke="#111" stroke-width="1.0" />
<polygon points="204.00,359.80 199.20,356.20 201.02,359.80 199.20,363.40" fill="#111" stroke="#111" stroke-width="0.3" stroke-linejoin="round"/>
<text x="164.20" y="369.20" font-size="7" fill="#222" text-anchor="start" >Transplantation</text>
<path d="M226.4,334.2 C225.2,337 223.8,340.5 222,343.6 C219,342.5 215.5,340.3 212.3,339.8 C210.8,340.6 211.5,342.2 213.5,343.4 C216,345 218.3,346.6 219.2,349 C220.2,355 221.2,362 220.8,368 C220.3,371.5 219,374.5 220,377.5 C220.5,380 219.2,382 216.5,384.2 C214.2,385.8 213.8,387.8 215.6,388.2 C217.5,388.5 220.5,385.5 223,382.2 C226.5,381 232,381 235,381.8 C238,383.5 240.5,385 242.5,385 C243.8,384.6 243.2,383 241.2,381.6 C238.8,380 237.8,377.5 237.3,374 C237.6,370 236.4,366 236.6,360 C236.8,353.5 236.8,348.5 238.2,345.3 C240,343 242.3,341.5 242.6,340.3 C242.4,339 240.2,339.3 238,340.5 C235.5,341.6 233.5,343 231.5,343.2 C230,340.5 228.5,337 227.2,334.2 Z" fill="#fff" stroke="#222" stroke-width="0.6" stroke-linejoin="round"/>
<line x1="220.20" y1="332.90" x2="233.10" y2="332.90" stroke="#111" stroke-width="1.3" />
<polygon points="224,331 229,331 227.5,334.6 225.5,334.6" fill="#111"/>
<path d="M228.9,349.6 L233.4,349.2 L233.8,355.4 L229.3,355.8 Z" fill="#111" stroke="#111" stroke-width="0.4" stroke-linejoin="round"/>
<text x="231.20" y="396.90" font-size="7" fill="#222" text-anchor="middle" >Mammary fat pad</text>
<text x="231.20" y="405.60" font-size="7" fill="#222" text-anchor="middle" >injection</text>
<line x1="248.60" y1="358.30" x2="279.72" y2="358.30" stroke="#111" stroke-width="1.0" />
<polygon points="282.60,358.30 277.80,354.70 279.62,358.30 277.80,361.90" fill="#111" stroke="#111" stroke-width="0.3" stroke-linejoin="round"/>
<text x="265.60" y="369.20" font-size="7" fill="#222" text-anchor="middle" >8–10 Weeks</text>
<circle cx="303.50" cy="355.60" r="2.6" fill="#9ccc4e" stroke="#3c6a18" stroke-width="0.7"/>
<circle cx="303.50" cy="355.60" r="1.1700000000000002" fill="#2f5512" stroke="none" stroke-width="0.5"/>
<circle cx="309.20" cy="355.60" r="2.6" fill="#9ccc4e" stroke="#3c6a18" stroke-width="0.7"/>
<circle cx="309.20" cy="355.60" r="1.1700000000000002" fill="#2f5512" stroke="none" stroke-width="0.5"/>
<circle cx="303.50" cy="361.80" r="2.6" fill="#9ccc4e" stroke="#3c6a18" stroke-width="0.7"/>
<circle cx="303.50" cy="361.80" r="1.1700000000000002" fill="#2f5512" stroke="none" stroke-width="0.5"/>
<circle cx="309.20" cy="361.80" r="2.6" fill="#9ccc4e" stroke="#3c6a18" stroke-width="0.7"/>
<circle cx="309.20" cy="361.80" r="1.1700000000000002" fill="#2f5512" stroke="none" stroke-width="0.5"/>
<text x="323.60" y="360.60" font-size="7" fill="#222" text-anchor="middle" >vs.</text>
<circle cx="337.50" cy="355.20" r="2.5" fill="#9ccc4e" stroke="#3c6a18" stroke-width="0.7"/>
<circle cx="337.50" cy="355.20" r="1.125" fill="#2f5512" stroke="none" stroke-width="0.5"/>
<circle cx="341.30" cy="357.40" r="2.5" fill="#9ccc4e" stroke="#3c6a18" stroke-width="0.7"/>
<circle cx="341.30" cy="357.40" r="1.125" fill="#2f5512" stroke="none" stroke-width="0.5"/>
<circle cx="338.00" cy="358.80" r="2.5" fill="#9ccc4e" stroke="#3c6a18" stroke-width="0.7"/>
<circle cx="338.00" cy="358.80" r="1.125" fill="#2f5512" stroke="none" stroke-width="0.5"/>
<circle cx="353.60" cy="355.60" r="2.5" fill="#9ccc4e" stroke="#3c6a18" stroke-width="0.7"/>
<circle cx="353.60" cy="355.60" r="1.125" fill="#2f5512" stroke="none" stroke-width="0.5"/>
<circle cx="350.50" cy="357.60" r="2.5" fill="#9ccc4e" stroke="#3c6a18" stroke-width="0.7"/>
<circle cx="350.50" cy="357.60" r="1.125" fill="#2f5512" stroke="none" stroke-width="0.5"/>
<text x="307.20" y="376.20" font-size="7" fill="#222" text-anchor="middle" >Singles</text>
<text x="344.00" y="376.20" font-size="7" fill="#222" text-anchor="middle" >Clusters</text>
<path d="M380.6,353.2 C377.5,353.5 375.2,357.2 374.8,361.5 C374.6,363.8 375.5,365.6 377.6,365 C379.5,364.6 381.2,364.4 381.6,362 L381.8,356 Z M383.4,353.2 C386.5,353.5 388.8,357.2 389.2,361.5 C389.4,363.8 388.5,365.6 386.4,365 C384.5,364.6 382.8,364.4 382.4,362 L382.2,356 Z" fill="#efc7d2" stroke="#333" stroke-width="0.6"/>
<line x1="382.00" y1="351.60" x2="382.00" y2="356.50" stroke="#333" stroke-width="0.8" />
<path d="M384.5,355.2 C386.5,356 387.8,358 387.6,360.5 L385.2,359 Z" fill="#222"/>
<text x="382.00" y="376.20" font-size="7" fill="#222" text-anchor="middle" >Lung</text>
<text x="342.20" y="388.20" font-size="7" fill="#222" text-anchor="middle" >Single CTC vs. CTC cluster ratio and</text>
<text x="341.50" y="396.30" font-size="7" fill="#222" text-anchor="middle" >lung metastasis formation</text>
<g transform="translate(0 0)">
<rect x="44.85" y="489.43" width="7.30" height="6.57" fill="#f6a560" stroke="#e09050" stroke-width="0.4" />
<rect x="57.67" y="474.10" width="7.30" height="21.90" fill="#f6a560" stroke="#e09050" stroke-width="0.4" />
<rect x="70.49" y="470.16" width="7.30" height="25.84" fill="#f6a560" stroke="#e09050" stroke-width="0.4" />
<rect x="83.31" y="453.95" width="7.30" height="42.05" fill="#f6a560" stroke="#e09050" stroke-width="0.4" />
<rect x="96.13" y="455.92" width="7.30" height="40.08" fill="#f6a560" stroke="#e09050" stroke-width="0.4" />
<rect x="108.95" y="461.84" width="7.30" height="34.16" fill="#f6a560" stroke="#e09050" stroke-width="0.4" />
<rect x="121.77" y="464.03" width="7.30" height="31.97" fill="#f6a560" stroke="#e09050" stroke-width="0.4" />
<rect x="134.59" y="472.79" width="7.30" height="23.21" fill="#f6a560" stroke="#e09050" stroke-width="0.4" />
<rect x="147.41" y="472.79" width="7.30" height="23.21" fill="#f6a560" stroke="#e09050" stroke-width="0.4" />
<rect x="160.23" y="457.02" width="7.30" height="38.98" fill="#f6a560" stroke="#e09050" stroke-width="0.4" />
<rect x="173.05" y="455.49" width="7.30" height="40.51" fill="#f6a560" stroke="#e09050" stroke-width="0.4" />
<rect x="185.87" y="450.01" width="7.30" height="45.99" fill="#f6a560" stroke="#e09050" stroke-width="0.4" />
<rect x="198.69" y="452.20" width="7.30" height="43.80" fill="#f6a560" stroke="#e09050" stroke-width="0.4" />
<line x1="48.50" y1="485.40" x2="48.50" y2="492.10" stroke="#222" stroke-width="0.6" />
<line x1="46.70" y1="485.40" x2="50.30" y2="485.40" stroke="#222" stroke-width="0.6" />
<line x1="45.30" y1="489.43" x2="51.70" y2="489.43" stroke="#222" stroke-width="0.6" />
<line x1="61.32" y1="468.50" x2="61.32" y2="479.60" stroke="#222" stroke-width="0.6" />
<line x1="59.52" y1="468.50" x2="63.12" y2="468.50" stroke="#222" stroke-width="0.6" />
<line x1="58.12" y1="474.10" x2="64.52" y2="474.10" stroke="#222" stroke-width="0.6" />
<line x1="74.14" y1="461.30" x2="74.14" y2="477.30" stroke="#222" stroke-width="0.6" />
<line x1="72.34" y1="461.30" x2="75.94" y2="461.30" stroke="#222" stroke-width="0.6" />
<line x1="70.94" y1="470.16" x2="77.34" y2="470.16" stroke="#222" stroke-width="0.6" />
<line x1="86.96" y1="451.70" x2="86.96" y2="457.50" stroke="#222" stroke-width="0.6" />
<line x1="85.16" y1="451.70" x2="88.76" y2="451.70" stroke="#222" stroke-width="0.6" />
<line x1="83.76" y1="453.95" x2="90.16" y2="453.95" stroke="#222" stroke-width="0.6" />
<line x1="99.78" y1="451.70" x2="99.78" y2="459.40" stroke="#222" stroke-width="0.6" />
<line x1="97.98" y1="451.70" x2="101.58" y2="451.70" stroke="#222" stroke-width="0.6" />
<line x1="96.58" y1="455.92" x2="102.98" y2="455.92" stroke="#222" stroke-width="0.6" />
<line x1="112.60" y1="455.60" x2="112.60" y2="467.10" stroke="#222" stroke-width="0.6" />
<line x1="110.80" y1="455.60" x2="114.40" y2="455.60" stroke="#222" stroke-width="0.6" />
<line x1="109.40" y1="461.84" x2="115.80" y2="461.84" stroke="#222" stroke-width="0.6" />
<line x1="125.42" y1="458.50" x2="125.42" y2="466.20" stroke="#222" stroke-width="0.6" />
<line x1="123.62" y1="458.50" x2="127.22" y2="458.50" stroke="#222" stroke-width="0.6" />
<line x1="122.22" y1="464.03" x2="128.62" y2="464.03" stroke="#222" stroke-width="0.6" />
<line x1="138.24" y1="468.10" x2="138.24" y2="476.70" stroke="#222" stroke-width="0.6" />
<line x1="136.44" y1="468.10" x2="140.04" y2="468.10" stroke="#222" stroke-width="0.6" />
<line x1="135.04" y1="472.79" x2="141.44" y2="472.79" stroke="#222" stroke-width="0.6" />
<line x1="151.06" y1="464.60" x2="151.06" y2="479.60" stroke="#222" stroke-width="0.6" />
<line x1="149.26" y1="464.60" x2="152.86" y2="464.60" stroke="#222" stroke-width="0.6" />
<line x1="147.86" y1="472.79" x2="154.26" y2="472.79" stroke="#222" stroke-width="0.6" />
<line x1="163.88" y1="449.80" x2="163.88" y2="463.30" stroke="#222" stroke-width="0.6" />
<line x1="162.08" y1="449.80" x2="165.68" y2="449.80" stroke="#222" stroke-width="0.6" />
<line x1="160.68" y1="457.02" x2="167.08" y2="457.02" stroke="#222" stroke-width="0.6" />
<line x1="176.70" y1="454.20" x2="176.70" y2="458.50" stroke="#222" stroke-width="0.6" />
<line x1="174.90" y1="454.20" x2="178.50" y2="454.20" stroke="#222" stroke-width="0.6" />
<line x1="173.50" y1="455.49" x2="179.90" y2="455.49" stroke="#222" stroke-width="0.6" />
<line x1="189.52" y1="442.70" x2="189.52" y2="456.50" stroke="#222" stroke-width="0.6" />
<line x1="187.72" y1="442.70" x2="191.32" y2="442.70" stroke="#222" stroke-width="0.6" />
<line x1="186.32" y1="450.01" x2="192.72" y2="450.01" stroke="#222" stroke-width="0.6" />
<line x1="202.34" y1="452.30" x2="202.34" y2="455.60" stroke="#222" stroke-width="0.6" />
<line x1="200.54" y1="452.30" x2="204.14" y2="452.30" stroke="#222" stroke-width="0.6" />
<line x1="199.14" y1="452.20" x2="205.54" y2="452.20" stroke="#222" stroke-width="0.6" />
<circle cx="48.70" cy="481.20" r="1.3" fill="#111" stroke="none" stroke-width="0.5"/>
<circle cx="45.40" cy="487.30" r="1.3" fill="#111" stroke="none" stroke-width="0.5"/>
<circle cx="52.10" cy="488.80" r="1.3" fill="#111" stroke="none" stroke-width="0.5"/>
<circle cx="45.40" cy="490.20" r="1.3" fill="#111" stroke="none" stroke-width="0.5"/>
<circle cx="61.30" cy="465.80" r="1.3" fill="#111" stroke="none" stroke-width="0.5"/>
<circle cx="57.90" cy="469.60" r="1.3" fill="#111" stroke="none" stroke-width="0.5"/>
<circle cx="64.60" cy="469.60" r="1.3" fill="#111" stroke="none" stroke-width="0.5"/>
<circle cx="61.30" cy="487.30" r="1.3" fill="#111" stroke="none" stroke-width="0.5"/>
<circle cx="74.20" cy="455.00" r="1.3" fill="#111" stroke="none" stroke-width="0.5"/>
<circle cx="74.20" cy="463.30" r="1.3" fill="#111" stroke="none" stroke-width="0.5"/>
<circle cx="74.20" cy="468.10" r="1.3" fill="#111" stroke="none" stroke-width="0.5"/>
<circle cx="74.20" cy="491.70" r="1.3" fill="#111" stroke="none" stroke-width="0.5"/>
<circle cx="87.10" cy="446.00" r="1.3" fill="#111" stroke="none" stroke-width="0.5"/>
<circle cx="87.10" cy="450.40" r="1.3" fill="#111" stroke="none" stroke-width="0.5"/>
<circle cx="82.90" cy="454.20" r="1.3" fill="#111" stroke="none" stroke-width="0.5"/>
<circle cx="91.00" cy="454.20" r="1.3" fill="#111" stroke="none" stroke-width="0.5"/>
<circle cx="87.10" cy="461.30" r="1.3" fill="#111" stroke="none" stroke-width="0.5"/>
<circle cx="96.30" cy="450.40" r="1.3" fill="#111" stroke="none" stroke-width="0.5"/>
<circle cx="102.70" cy="452.30" r="1.3" fill="#111" stroke="none" stroke-width="0.5"/>
<circle cx="100.00" cy="456.50" r="1.3" fill="#111" stroke="none" stroke-width="0.5"/>
<circle cx="100.00" cy="463.30" r="1.3" fill="#111" stroke="none" stroke-width="0.5"/>
<circle cx="113.00" cy="444.00" r="1.3" fill="#111" stroke="none" stroke-width="0.5"/>
<circle cx="113.00" cy="463.30" r="1.3" fill="#111" stroke="none" stroke-width="0.5"/>
<circle cx="109.20" cy="469.60" r="1.3" fill="#111" stroke="none" stroke-width="0.5"/>
<circle cx="116.00" cy="467.70" r="1.3" fill="#111" stroke="none" stroke-width="0.5"/>
<circle cx="125.40" cy="450.40" r="1.3" fill="#111" stroke="none" stroke-width="0.5"/>
<circle cx="125.40" cy="465.20" r="1.3" fill="#111" stroke="none" stroke-width="0.5"/>
<circle cx="122.00" cy="467.10" r="1.3" fill="#111" stroke="none" stroke-width="0.5"/>
<circle cx="128.60" cy="467.10" r="1.3" fill="#111" stroke="none" stroke-width="0.5"/>
<circle cx="138.30" cy="461.30" r="1.3" fill="#111" stroke="none" stroke-width="0.5"/>
<circle cx="138.30" cy="468.10" r="1.3" fill="#111" stroke="none" stroke-width="0.5"/>
<circle cx="138.30" cy="474.20" r="1.3" fill="#111" stroke="none" stroke-width="0.5"/>
<circle cx="138.30" cy="485.40" r="1.3" fill="#111" stroke="none" stroke-width="0.5"/>
<circle cx="151.20" cy="456.90" r="1.3" fill="#111" stroke="none" stroke-width="0.5"/>
<circle cx="151.20" cy="476.20" r="1.3" fill="#111" stroke="none" stroke-width="0.5"/>
<circle cx="151.20" cy="478.70" r="1.3" fill="#111" stroke="none" stroke-width="0.5"/>
<circle cx="151.20" cy="482.50" r="1.3" fill="#111" stroke="none" stroke-width="0.5"/>
<circle cx="160.80" cy="448.50" r="1.3" fill="#111" stroke="none" stroke-width="0.5"/>
<circle cx="166.50" cy="450.40" r="1.3" fill="#111" stroke="none" stroke-width="0.5"/>
<circle cx="163.90" cy="461.30" r="1.3" fill="#111" stroke="none" stroke-width="0.5"/>
<circle cx="163.90" cy="470.00" r="1.3" fill="#111" stroke="none" stroke-width="0.5"/>
<circle cx="176.80" cy="446.00" r="1.3" fill="#111" stroke="none" stroke-width="0.5"/>
<circle cx="176.80" cy="452.30" r="1.3" fill="#111" stroke="none" stroke-width="0.5"/>
<circle cx="174.20" cy="460.80" r="1.3" fill="#111" stroke="none" stroke-width="0.5"/>
<circle cx="179.60" cy="459.40" r="1.3" fill="#111" stroke="none" stroke-width="0.5"/>
<circle cx="189.70" cy="437.70" r="1.3" fill="#111" stroke="none" stroke-width="0.5"/>
<circle cx="189.70" cy="441.50" r="1.3" fill="#111" stroke="none" stroke-width="0.5"/>
<circle cx="186.30" cy="460.80" r="1.3" fill="#111" stroke="none" stroke-width="0.5"/>
<circle cx="192.70" cy="459.40" r="1.3" fill="#111" stroke="none" stroke-width="0.5"/>
<circle cx="199.20" cy="452.30" r="1.3" fill="#111" stroke="none" stroke-width="0.5"/>
<circle cx="205.60" cy="450.40" r="1.3" fill="#111" stroke="none" stroke-width="0.5"/>
<circle cx="205.60" cy="455.00" r="1.3" fill="#111" stroke="none" stroke-width="0.5"/>
<circle cx="202.30" cy="459.40" r="1.3" fill="#111" stroke="none" stroke-width="0.5"/>
<text x="61.32" y="459.50" font-size="6.3" fill="#333" text-anchor="middle" >ns</text>
<text x="74.14" y="448.80" font-size="6.3" fill="#333" text-anchor="middle" >ns</text>
<polygon points="87.36,429.30 87.94,430.70 89.45,430.82 88.30,431.81 88.65,433.28 87.36,432.49 86.07,433.28 86.42,431.81 85.27,430.82 86.78,430.70" fill="#111"/>
<polygon points="100.18,430.80 100.76,432.20 102.27,432.32 101.12,433.31 101.47,434.78 100.18,433.99 98.89,434.78 99.24,433.31 98.09,432.32 99.60,432.20" fill="#111"/>
<polygon points="113.00,432.20 113.58,433.60 115.09,433.72 113.94,434.71 114.29,436.18 113.00,435.39 111.71,436.18 112.06,434.71 110.91,433.72 112.42,433.60" fill="#111"/>
<polygon points="125.82,436.50 126.40,437.90 127.91,438.02 126.76,439.01 127.11,440.48 125.82,439.69 124.53,440.48 124.88,439.01 123.73,438.02 125.24,437.90" fill="#111"/>
<text x="138.24" y="456.70" font-size="6.3" fill="#333" text-anchor="middle" >ns</text>
<text x="151.06" y="451.90" font-size="6.3" fill="#333" text-anchor="middle" >ns</text>
<polygon points="164.28,434.80 164.86,436.20 166.37,436.32 165.22,437.31 165.57,438.78 164.28,437.99 162.99,438.78 163.34,437.31 162.19,436.32 163.70,436.20" fill="#111"/>
<polygon points="177.10,433.20 177.68,434.60 179.19,434.72 178.04,435.71 178.39,437.18 177.10,436.39 175.81,437.18 176.16,435.71 175.01,434.72 176.52,434.60" fill="#111"/>
<polygon points="189.92,422.60 190.50,424.00 192.01,424.12 190.86,425.11 191.21,426.58 189.92,425.79 188.63,426.58 188.98,425.11 187.83,424.12 189.34,424.00" fill="#111"/>
<polygon points="202.74,430.80 203.32,432.20 204.83,432.32 203.68,433.31 204.03,434.78 202.74,433.99 201.45,434.78 201.80,433.31 200.65,432.32 202.16,432.20" fill="#111"/>
</g>
<line x1="39.50" y1="430.00" x2="39.50" y2="496.00" stroke="#1a1a1a" stroke-width="0.6" />
<line x1="39.50" y1="496.00" x2="210.50" y2="496.00" stroke="#1a1a1a" stroke-width="0.6" />
<line x1="37.50" y1="430.30" x2="39.50" y2="430.30" stroke="#333" stroke-width="0.6" />
<text x="36.50" y="432.60" font-size="6.4" fill="#1a1a1a" text-anchor="end" stroke="#1a1a1a" stroke-width="0.1">100</text>
<line x1="37.50" y1="452.20" x2="39.50" y2="452.20" stroke="#333" stroke-width="0.6" />
<text x="36.50" y="454.50" font-size="6.4" fill="#1a1a1a" text-anchor="end" stroke="#1a1a1a" stroke-width="0.1">90</text>
<line x1="37.50" y1="474.10" x2="39.50" y2="474.10" stroke="#333" stroke-width="0.6" />
<text x="36.50" y="476.40" font-size="6.4" fill="#1a1a1a" text-anchor="end" stroke="#1a1a1a" stroke-width="0.1">80</text>
<line x1="37.50" y1="496.00" x2="39.50" y2="496.00" stroke="#333" stroke-width="0.6" />
<text x="36.50" y="498.30" font-size="6.4" fill="#1a1a1a" text-anchor="end" stroke="#1a1a1a" stroke-width="0.1">70</text>
<line x1="48.50" y1="496.00" x2="48.50" y2="498.20" stroke="#333" stroke-width="0.5" />
<line x1="61.32" y1="496.00" x2="61.32" y2="498.20" stroke="#333" stroke-width="0.5" />
<line x1="74.14" y1="496.00" x2="74.14" y2="498.20" stroke="#333" stroke-width="0.5" />
<line x1="86.96" y1="496.00" x2="86.96" y2="498.20" stroke="#333" stroke-width="0.5" />
<line x1="99.78" y1="496.00" x2="99.78" y2="498.20" stroke="#333" stroke-width="0.5" />
<line x1="112.60" y1="496.00" x2="112.60" y2="498.20" stroke="#333" stroke-width="0.5" />
<line x1="125.42" y1="496.00" x2="125.42" y2="498.20" stroke="#333" stroke-width="0.5" />
<line x1="138.24" y1="496.00" x2="138.24" y2="498.20" stroke="#333" stroke-width="0.5" />
<line x1="151.06" y1="496.00" x2="151.06" y2="498.20" stroke="#333" stroke-width="0.5" />
<line x1="163.88" y1="496.00" x2="163.88" y2="498.20" stroke="#333" stroke-width="0.5" />
<line x1="176.70" y1="496.00" x2="176.70" y2="498.20" stroke="#333" stroke-width="0.5" />
<line x1="189.52" y1="496.00" x2="189.52" y2="498.20" stroke="#333" stroke-width="0.5" />
<line x1="202.34" y1="496.00" x2="202.34" y2="498.20" stroke="#333" stroke-width="0.5" />
<text x="0" y="0" font-size="6.1" fill="#1a1a1a" stroke="#1a1a1a" stroke-width="0.08" text-anchor="middle" transform="translate(24.4 462) rotate(-90)">Percentage of single CTCs</text>
<text x="50.60" y="503.20" font-size="6.2" fill="#1a1a1a" stroke="#1a1a1a" stroke-width="0.12" text-anchor="end" transform="rotate(-45 50.60 503.20)">Nontargeting sgRNA</text>
<text x="63.42" y="503.20" font-size="6.2" fill="#1a1a1a" stroke="#1a1a1a" stroke-width="0.12" text-anchor="end" transform="rotate(-45 63.42 503.20)">CDH7 sgRNA 1</text>
<text x="76.24" y="503.20" font-size="6.2" fill="#1a1a1a" stroke="#1a1a1a" stroke-width="0.12" text-anchor="end" transform="rotate(-45 76.24 503.20)">CDH7 sgRNA 2</text>
<text x="89.06" y="503.20" font-size="6.2" fill="#de4a50" stroke="#de4a50" stroke-width="0.12" text-anchor="end" transform="rotate(-45 89.06 503.20)">IL18R1 sgRNA 1</text>
<text x="101.88" y="503.20" font-size="6.2" fill="#de4a50" stroke="#de4a50" stroke-width="0.12" text-anchor="end" transform="rotate(-45 101.88 503.20)">IL18R1 sgRNA 2</text>
<text x="114.70" y="503.20" font-size="6.2" fill="#de4a50" stroke="#de4a50" stroke-width="0.12" text-anchor="end" transform="rotate(-45 114.70 503.20)">ITGA2 sgRNA 1</text>
<text x="127.52" y="503.20" font-size="6.2" fill="#de4a50" stroke="#de4a50" stroke-width="0.12" text-anchor="end" transform="rotate(-45 127.52 503.20)">ITGA2 sgRNA 2</text>
<text x="140.34" y="503.20" font-size="6.2" fill="#1a1a1a" stroke="#1a1a1a" stroke-width="0.12" text-anchor="end" transform="rotate(-45 140.34 503.20)">IL1RAPL1 sgRNA 1</text>
<text x="153.16" y="503.20" font-size="6.2" fill="#1a1a1a" stroke="#1a1a1a" stroke-width="0.12" text-anchor="end" transform="rotate(-45 153.16 503.20)">IL1RAPL1 sgRNA 2</text>
<text x="165.98" y="503.20" font-size="6.2" fill="#de4a50" stroke="#de4a50" stroke-width="0.12" text-anchor="end" transform="rotate(-45 165.98 503.20)">CSNK1A1L sgRNA 1</text>
<text x="178.80" y="503.20" font-size="6.2" fill="#de4a50" stroke="#de4a50" stroke-width="0.12" text-anchor="end" transform="rotate(-45 178.80 503.20)">CSNK1A1L sgRNA 2</text>
<text x="191.62" y="503.20" font-size="6.2" fill="#de4a50" stroke="#de4a50" stroke-width="0.12" text-anchor="end" transform="rotate(-45 191.62 503.20)">CSNK2A2 sgRNA 1</text>
<text x="204.44" y="503.20" font-size="6.2" fill="#de4a50" stroke="#de4a50" stroke-width="0.12" text-anchor="end" transform="rotate(-45 204.44 503.20)">CSNK2A2 sgRNA 2</text>
<g transform="translate(0 0)">
<rect x="252.35" y="439.94" width="7.30" height="56.06" fill="#e2686a" stroke="#c85a5c" stroke-width="0.4" />
<rect x="265.22" y="454.39" width="7.30" height="41.61" fill="#e2686a" stroke="#c85a5c" stroke-width="0.4" />
<rect x="278.09" y="457.68" width="7.30" height="38.32" fill="#e2686a" stroke="#c85a5c" stroke-width="0.4" />
<rect x="290.96" y="474.10" width="7.30" height="21.90" fill="#e2686a" stroke="#c85a5c" stroke-width="0.4" />
<rect x="303.83" y="471.91" width="7.30" height="24.09" fill="#e2686a" stroke="#c85a5c" stroke-width="0.4" />
<rect x="316.70" y="465.78" width="7.30" height="30.22" fill="#e2686a" stroke="#c85a5c" stroke-width="0.4" />
<rect x="329.57" y="464.68" width="7.30" height="31.32" fill="#e2686a" stroke="#c85a5c" stroke-width="0.4" />
<rect x="342.44" y="454.39" width="7.30" height="41.61" fill="#e2686a" stroke="#c85a5c" stroke-width="0.4" />
<rect x="355.31" y="454.39" width="7.30" height="41.61" fill="#e2686a" stroke="#c85a5c" stroke-width="0.4" />
<rect x="368.18" y="471.03" width="7.30" height="24.97" fill="#e2686a" stroke="#c85a5c" stroke-width="0.4" />
<rect x="381.05" y="472.57" width="7.30" height="23.43" fill="#e2686a" stroke="#c85a5c" stroke-width="0.4" />
<rect x="393.92" y="464.46" width="7.30" height="31.54" fill="#e2686a" stroke="#c85a5c" stroke-width="0.4" />
<rect x="406.79" y="471.91" width="7.30" height="24.09" fill="#e2686a" stroke="#c85a5c" stroke-width="0.4" />
<line x1="256.00" y1="438.60" x2="256.00" y2="442.80" stroke="#222" stroke-width="0.6" />
<line x1="254.20" y1="438.60" x2="257.80" y2="438.60" stroke="#222" stroke-width="0.6" />
<line x1="252.80" y1="439.94" x2="259.20" y2="439.94" stroke="#222" stroke-width="0.6" />
<line x1="268.87" y1="449.10" x2="268.87" y2="458.70" stroke="#222" stroke-width="0.6" />
<line x1="267.07" y1="449.10" x2="270.67" y2="449.10" stroke="#222" stroke-width="0.6" />
<line x1="265.67" y1="454.39" x2="272.07" y2="454.39" stroke="#222" stroke-width="0.6" />
<line x1="281.74" y1="449.10" x2="281.74" y2="466.00" stroke="#222" stroke-width="0.6" />
<line x1="279.94" y1="449.10" x2="283.54" y2="449.10" stroke="#222" stroke-width="0.6" />
<line x1="278.54" y1="457.68" x2="284.94" y2="457.68" stroke="#222" stroke-width="0.6" />
<line x1="294.61" y1="471.30" x2="294.61" y2="477.30" stroke="#222" stroke-width="0.6" />
<line x1="292.81" y1="471.30" x2="296.41" y2="471.30" stroke="#222" stroke-width="0.6" />
<line x1="291.41" y1="474.10" x2="297.81" y2="474.10" stroke="#222" stroke-width="0.6" />
<line x1="307.48" y1="467.10" x2="307.48" y2="475.60" stroke="#222" stroke-width="0.6" />
<line x1="305.68" y1="467.10" x2="309.28" y2="467.10" stroke="#222" stroke-width="0.6" />
<line x1="304.28" y1="471.91" x2="310.68" y2="471.91" stroke="#222" stroke-width="0.6" />
<line x1="320.35" y1="459.70" x2="320.35" y2="471.30" stroke="#222" stroke-width="0.6" />
<line x1="318.55" y1="459.70" x2="322.15" y2="459.70" stroke="#222" stroke-width="0.6" />
<line x1="317.15" y1="465.78" x2="323.55" y2="465.78" stroke="#222" stroke-width="0.6" />
<line x1="333.22" y1="461.80" x2="333.22" y2="469.20" stroke="#222" stroke-width="0.6" />
<line x1="331.42" y1="461.80" x2="335.02" y2="461.80" stroke="#222" stroke-width="0.6" />
<line x1="330.02" y1="464.68" x2="336.42" y2="464.68" stroke="#222" stroke-width="0.6" />
<line x1="346.09" y1="449.10" x2="346.09" y2="458.20" stroke="#222" stroke-width="0.6" />
<line x1="344.29" y1="449.10" x2="347.89" y2="449.10" stroke="#222" stroke-width="0.6" />
<line x1="342.89" y1="454.39" x2="349.29" y2="454.39" stroke="#222" stroke-width="0.6" />
<line x1="358.96" y1="447.00" x2="358.96" y2="462.90" stroke="#222" stroke-width="0.6" />
<line x1="357.16" y1="447.00" x2="360.76" y2="447.00" stroke="#222" stroke-width="0.6" />
<line x1="355.76" y1="454.39" x2="362.16" y2="454.39" stroke="#222" stroke-width="0.6" />
<line x1="371.83" y1="463.80" x2="371.83" y2="477.70" stroke="#222" stroke-width="0.6" />
<line x1="370.03" y1="463.80" x2="373.63" y2="463.80" stroke="#222" stroke-width="0.6" />
<line x1="368.63" y1="471.03" x2="375.03" y2="471.03" stroke="#222" stroke-width="0.6" />
<line x1="384.70" y1="468.20" x2="384.70" y2="475.60" stroke="#222" stroke-width="0.6" />
<line x1="382.90" y1="468.20" x2="386.50" y2="468.20" stroke="#222" stroke-width="0.6" />
<line x1="381.50" y1="472.57" x2="387.90" y2="472.57" stroke="#222" stroke-width="0.6" />
<line x1="397.57" y1="463.30" x2="397.57" y2="468.40" stroke="#222" stroke-width="0.6" />
<line x1="395.77" y1="463.30" x2="399.37" y2="463.30" stroke="#222" stroke-width="0.6" />
<line x1="394.37" y1="464.46" x2="400.77" y2="464.46" stroke="#222" stroke-width="0.6" />
<line x1="410.44" y1="467.50" x2="410.44" y2="474.20" stroke="#222" stroke-width="0.6" />
<line x1="408.64" y1="467.50" x2="412.24" y2="467.50" stroke="#222" stroke-width="0.6" />
<line x1="407.24" y1="471.91" x2="413.64" y2="471.91" stroke="#222" stroke-width="0.6" />
<circle cx="252.80" cy="437.50" r="1.3" fill="#111" stroke="none" stroke-width="0.5"/>
<circle cx="259.60" cy="435.80" r="1.3" fill="#111" stroke="none" stroke-width="0.5"/>
<circle cx="260.00" cy="442.80" r="1.3" fill="#111" stroke="none" stroke-width="0.5"/>
<circle cx="256.40" cy="445.50" r="1.3" fill="#111" stroke="none" stroke-width="0.5"/>
<circle cx="269.40" cy="439.20" r="1.3" fill="#111" stroke="none" stroke-width="0.5"/>
<circle cx="266.80" cy="455.50" r="1.3" fill="#111" stroke="none" stroke-width="0.5"/>
<circle cx="272.30" cy="455.50" r="1.3" fill="#111" stroke="none" stroke-width="0.5"/>
<circle cx="269.40" cy="460.80" r="1.3" fill="#111" stroke="none" stroke-width="0.5"/>
<circle cx="282.00" cy="435.00" r="1.3" fill="#111" stroke="none" stroke-width="0.5"/>
<circle cx="282.00" cy="459.10" r="1.3" fill="#111" stroke="none" stroke-width="0.5"/>
<circle cx="282.00" cy="463.90" r="1.3" fill="#111" stroke="none" stroke-width="0.5"/>
<circle cx="282.00" cy="472.40" r="1.3" fill="#111" stroke="none" stroke-width="0.5"/>
<circle cx="295.00" cy="466.00" r="1.3" fill="#111" stroke="none" stroke-width="0.5"/>
<circle cx="294.50" cy="475.20" r="1.3" fill="#111" stroke="none" stroke-width="0.5"/>
<circle cx="295.00" cy="480.90" r="1.3" fill="#111" stroke="none" stroke-width="0.5"/>
<circle cx="295.00" cy="471.30" r="1.3" fill="#111" stroke="none" stroke-width="0.5"/>
<circle cx="308.00" cy="462.90" r="1.3" fill="#111" stroke="none" stroke-width="0.5"/>
<circle cx="305.10" cy="476.60" r="1.3" fill="#111" stroke="none" stroke-width="0.5"/>
<circle cx="311.40" cy="473.90" r="1.3" fill="#111" stroke="none" stroke-width="0.5"/>
<circle cx="308.00" cy="473.50" r="1.3" fill="#111" stroke="none" stroke-width="0.5"/>
<circle cx="317.20" cy="457.00" r="1.3" fill="#111" stroke="none" stroke-width="0.5"/>
<circle cx="323.50" cy="456.50" r="1.3" fill="#111" stroke="none" stroke-width="0.5"/>
<circle cx="321.00" cy="465.40" r="1.3" fill="#111" stroke="none" stroke-width="0.5"/>
<circle cx="321.00" cy="483.00" r="1.3" fill="#111" stroke="none" stroke-width="0.5"/>
<circle cx="330.50" cy="459.10" r="1.3" fill="#111" stroke="none" stroke-width="0.5"/>
<circle cx="336.80" cy="459.10" r="1.3" fill="#111" stroke="none" stroke-width="0.5"/>
<circle cx="333.70" cy="461.80" r="1.3" fill="#111" stroke="none" stroke-width="0.5"/>
<circle cx="333.70" cy="476.00" r="1.3" fill="#111" stroke="none" stroke-width="0.5"/>
<circle cx="346.80" cy="441.70" r="1.3" fill="#111" stroke="none" stroke-width="0.5"/>
<circle cx="346.80" cy="452.30" r="1.3" fill="#111" stroke="none" stroke-width="0.5"/>
<circle cx="346.80" cy="458.70" r="1.3" fill="#111" stroke="none" stroke-width="0.5"/>
<circle cx="346.80" cy="465.40" r="1.3" fill="#111" stroke="none" stroke-width="0.5"/>
<circle cx="359.60" cy="444.40" r="1.3" fill="#111" stroke="none" stroke-width="0.5"/>
<circle cx="359.60" cy="450.20" r="1.3" fill="#111" stroke="none" stroke-width="0.5"/>
<circle cx="359.60" cy="454.40" r="1.3" fill="#111" stroke="none" stroke-width="0.5"/>
<circle cx="359.60" cy="469.90" r="1.3" fill="#111" stroke="none" stroke-width="0.5"/>
<circle cx="372.10" cy="456.90" r="1.3" fill="#111" stroke="none" stroke-width="0.5"/>
<circle cx="369.20" cy="478.80" r="1.3" fill="#111" stroke="none" stroke-width="0.5"/>
<circle cx="375.00" cy="476.70" r="1.3" fill="#111" stroke="none" stroke-width="0.5"/>
<circle cx="372.10" cy="473.50" r="1.3" fill="#111" stroke="none" stroke-width="0.5"/>
<circle cx="381.90" cy="467.90" r="1.3" fill="#111" stroke="none" stroke-width="0.5"/>
<circle cx="387.90" cy="465.60" r="1.3" fill="#111" stroke="none" stroke-width="0.5"/>
<circle cx="384.80" cy="474.20" r="1.3" fill="#111" stroke="none" stroke-width="0.5"/>
<circle cx="384.80" cy="481.10" r="1.3" fill="#111" stroke="none" stroke-width="0.5"/>
<circle cx="394.80" cy="459.20" r="1.3" fill="#111" stroke="none" stroke-width="0.5"/>
<circle cx="401.00" cy="459.20" r="1.3" fill="#111" stroke="none" stroke-width="0.5"/>
<circle cx="397.80" cy="461.00" r="1.3" fill="#111" stroke="none" stroke-width="0.5"/>
<circle cx="397.80" cy="476.70" r="1.3" fill="#111" stroke="none" stroke-width="0.5"/>
<circle cx="410.40" cy="461.00" r="1.3" fill="#111" stroke="none" stroke-width="0.5"/>
<circle cx="407.90" cy="472.50" r="1.3" fill="#111" stroke="none" stroke-width="0.5"/>
<circle cx="413.60" cy="474.20" r="1.3" fill="#111" stroke="none" stroke-width="0.5"/>
<circle cx="407.90" cy="476.50" r="1.3" fill="#111" stroke="none" stroke-width="0.5"/>
<text x="268.87" y="431.50" font-size="6.3" fill="#333" text-anchor="middle" >ns</text>
<text x="281.74" y="427.40" font-size="6.3" fill="#333" text-anchor="middle" >ns</text>
<polygon points="295.01,445.70 295.59,447.10 297.10,447.22 295.95,448.21 296.30,449.68 295.01,448.89 293.72,449.68 294.07,448.21 292.92,447.22 294.43,447.10" fill="#111"/>
<polygon points="307.88,444.60 308.46,446.00 309.97,446.12 308.82,447.11 309.17,448.58 307.88,447.79 306.59,448.58 306.94,447.11 305.79,446.12 307.30,446.00" fill="#111"/>
<polygon points="320.75,440.50 321.33,441.90 322.84,442.02 321.69,443.01 322.04,444.48 320.75,443.69 319.46,444.48 319.81,443.01 318.66,442.02 320.17,441.90" fill="#111"/>
<polygon points="333.62,437.00 334.20,438.40 335.71,438.52 334.56,439.51 334.91,440.98 333.62,440.19 332.33,440.98 332.68,439.51 331.53,438.52 333.04,438.40" fill="#111"/>
<text x="346.09" y="432.10" font-size="6.3" fill="#333" text-anchor="middle" >ns</text>
<text x="358.96" y="435.50" font-size="6.3" fill="#333" text-anchor="middle" >ns</text>
<polygon points="372.23,442.00 372.81,443.40 374.32,443.52 373.17,444.51 373.52,445.98 372.23,445.19 370.94,445.98 371.29,444.51 370.14,443.52 371.65,443.40" fill="#111"/>
<polygon points="385.10,453.30 385.68,454.70 387.19,454.82 386.04,455.81 386.39,457.28 385.10,456.49 383.81,457.28 384.16,455.81 383.01,454.82 384.52,454.70" fill="#111"/>
<polygon points="397.97,444.10 398.55,445.50 400.06,445.62 398.91,446.61 399.26,448.08 397.97,447.29 396.68,448.08 397.03,446.61 395.88,445.62 397.39,445.50" fill="#111"/>
<polygon points="410.84,445.70 411.42,447.10 412.93,447.22 411.78,448.21 412.13,449.68 410.84,448.89 409.55,449.68 409.90,448.21 408.75,447.22 410.26,447.10" fill="#111"/>
</g>
<line x1="247.60" y1="430.00" x2="247.60" y2="496.00" stroke="#1a1a1a" stroke-width="0.6" />
<line x1="247.60" y1="496.00" x2="420.30" y2="496.00" stroke="#1a1a1a" stroke-width="0.6" />
<line x1="245.60" y1="430.30" x2="247.60" y2="430.30" stroke="#333" stroke-width="0.6" />
<text x="244.60" y="432.60" font-size="6.4" fill="#1a1a1a" text-anchor="end" stroke="#1a1a1a" stroke-width="0.1">30</text>
<line x1="245.60" y1="452.20" x2="247.60" y2="452.20" stroke="#333" stroke-width="0.6" />
<text x="244.60" y="454.50" font-size="6.4" fill="#1a1a1a" text-anchor="end" stroke="#1a1a1a" stroke-width="0.1">20</text>
<line x1="245.60" y1="474.10" x2="247.60" y2="474.10" stroke="#333" stroke-width="0.6" />
<text x="244.60" y="476.40" font-size="6.4" fill="#1a1a1a" text-anchor="end" stroke="#1a1a1a" stroke-width="0.1">10</text>
<line x1="245.60" y1="496.00" x2="247.60" y2="496.00" stroke="#333" stroke-width="0.6" />
<text x="244.60" y="498.30" font-size="6.4" fill="#1a1a1a" text-anchor="end" stroke="#1a1a1a" stroke-width="0.1">0</text>
<line x1="256.00" y1="496.00" x2="256.00" y2="498.20" stroke="#333" stroke-width="0.5" />
<line x1="268.87" y1="496.00" x2="268.87" y2="498.20" stroke="#333" stroke-width="0.5" />
<line x1="281.74" y1="496.00" x2="281.74" y2="498.20" stroke="#333" stroke-width="0.5" />
<line x1="294.61" y1="496.00" x2="294.61" y2="498.20" stroke="#333" stroke-width="0.5" />
<line x1="307.48" y1="496.00" x2="307.48" y2="498.20" stroke="#333" stroke-width="0.5" />
<line x1="320.35" y1="496.00" x2="320.35" y2="498.20" stroke="#333" stroke-width="0.5" />
<line x1="333.22" y1="496.00" x2="333.22" y2="498.20" stroke="#333" stroke-width="0.5" />
<line x1="346.09" y1="496.00" x2="346.09" y2="498.20" stroke="#333" stroke-width="0.5" />
<line x1="358.96" y1="496.00" x2="358.96" y2="498.20" stroke="#333" stroke-width="0.5" />
<line x1="371.83" y1="496.00" x2="371.83" y2="498.20" stroke="#333" stroke-width="0.5" />
<line x1="384.70" y1="496.00" x2="384.70" y2="498.20" stroke="#333" stroke-width="0.5" />
<line x1="397.57" y1="496.00" x2="397.57" y2="498.20" stroke="#333" stroke-width="0.5" />
<line x1="410.44" y1="496.00" x2="410.44" y2="498.20" stroke="#333" stroke-width="0.5" />
<text x="0" y="0" font-size="6.1" fill="#1a1a1a" stroke="#1a1a1a" stroke-width="0.08" text-anchor="middle" transform="translate(231.8 463) rotate(-90)">Percentage of CTC clusters</text>
<text x="258.10" y="503.20" font-size="6.2" fill="#1a1a1a" stroke="#1a1a1a" stroke-width="0.12" text-anchor="end" transform="rotate(-45 258.10 503.20)">Nontargeting sgRNA</text>
<text x="270.97" y="503.20" font-size="6.2" fill="#1a1a1a" stroke="#1a1a1a" stroke-width="0.12" text-anchor="end" transform="rotate(-45 270.97 503.20)">CDH7 sgRNA 1</text>
<text x="283.84" y="503.20" font-size="6.2" fill="#1a1a1a" stroke="#1a1a1a" stroke-width="0.12" text-anchor="end" transform="rotate(-45 283.84 503.20)">CDH7 sgRNA 2</text>
<text x="296.71" y="503.20" font-size="6.2" fill="#de4a50" stroke="#de4a50" stroke-width="0.12" text-anchor="end" transform="rotate(-45 296.71 503.20)">IL18R1 sgRNA 1</text>
<text x="309.58" y="503.20" font-size="6.2" fill="#de4a50" stroke="#de4a50" stroke-width="0.12" text-anchor="end" transform="rotate(-45 309.58 503.20)">IL18R1 sgRNA 2</text>
<text x="322.45" y="503.20" font-size="6.2" fill="#de4a50" stroke="#de4a50" stroke-width="0.12" text-anchor="end" transform="rotate(-45 322.45 503.20)">ITGA2 sgRNA 1</text>
<text x="335.32" y="503.20" font-size="6.2" fill="#de4a50" stroke="#de4a50" stroke-width="0.12" text-anchor="end" transform="rotate(-45 335.32 503.20)">ITGA2 sgRNA 2</text>
<text x="348.19" y="503.20" font-size="6.2" fill="#1a1a1a" stroke="#1a1a1a" stroke-width="0.12" text-anchor="end" transform="rotate(-45 348.19 503.20)">IL1RAPL1 sgRNA 1</text>
<text x="361.06" y="503.20" font-size="6.2" fill="#1a1a1a" stroke="#1a1a1a" stroke-width="0.12" text-anchor="end" transform="rotate(-45 361.06 503.20)">IL1RAPL1 sgRNA 2</text>
<text x="373.93" y="503.20" font-size="6.2" fill="#de4a50" stroke="#de4a50" stroke-width="0.12" text-anchor="end" transform="rotate(-45 373.93 503.20)">CSNK1A1L sgRNA 1</text>
<text x="386.80" y="503.20" font-size="6.2" fill="#de4a50" stroke="#de4a50" stroke-width="0.12" text-anchor="end" transform="rotate(-45 386.80 503.20)">CSNK1A1L sgRNA 2</text>
<text x="399.67" y="503.20" font-size="6.2" fill="#de4a50" stroke="#de4a50" stroke-width="0.12" text-anchor="end" transform="rotate(-45 399.67 503.20)">CSNK2A2 sgRNA 1</text>
<text x="412.54" y="503.20" font-size="6.2" fill="#de4a50" stroke="#de4a50" stroke-width="0.12" text-anchor="end" transform="rotate(-45 412.54 503.20)">CSNK2A2 sgRNA 2</text>
<line x1="39.60" y1="582.30" x2="39.60" y2="647.60" stroke="#1a1a1a" stroke-width="0.6" />
<line x1="39.60" y1="647.60" x2="210.00" y2="647.60" stroke="#1a1a1a" stroke-width="0.6" />
<line x1="37.60" y1="582.30" x2="39.60" y2="582.30" stroke="#333" stroke-width="0.6" />
<text x="36.60" y="584.60" font-size="6.4" fill="#1a1a1a" text-anchor="end" stroke="#1a1a1a" stroke-width="0.1">1</text>
<line x1="38.60" y1="597.50" x2="39.60" y2="597.50" stroke="#333" stroke-width="0.3" />
<line x1="38.60" y1="593.67" x2="39.60" y2="593.67" stroke="#333" stroke-width="0.3" />
<line x1="38.60" y1="590.96" x2="39.60" y2="590.96" stroke="#333" stroke-width="0.3" />
<line x1="38.60" y1="588.85" x2="39.60" y2="588.85" stroke="#333" stroke-width="0.3" />
<line x1="38.60" y1="587.13" x2="39.60" y2="587.13" stroke="#333" stroke-width="0.3" />
<line x1="38.60" y1="585.67" x2="39.60" y2="585.67" stroke="#333" stroke-width="0.3" />
<line x1="38.60" y1="584.41" x2="39.60" y2="584.41" stroke="#333" stroke-width="0.3" />
<line x1="38.60" y1="583.30" x2="39.60" y2="583.30" stroke="#333" stroke-width="0.3" />
<line x1="37.60" y1="604.05" x2="39.60" y2="604.05" stroke="#333" stroke-width="0.6" />
<text x="36.60" y="606.35" font-size="6.4" fill="#1a1a1a" text-anchor="end" stroke="#1a1a1a" stroke-width="0.1">0.1</text>
<line x1="38.60" y1="619.25" x2="39.60" y2="619.25" stroke="#333" stroke-width="0.3" />
<line x1="38.60" y1="615.42" x2="39.60" y2="615.42" stroke="#333" stroke-width="0.3" />
<line x1="38.60" y1="612.71" x2="39.60" y2="612.71" stroke="#333" stroke-width="0.3" />
<line x1="38.60" y1="610.60" x2="39.60" y2="610.60" stroke="#333" stroke-width="0.3" />
<line x1="38.60" y1="608.88" x2="39.60" y2="608.88" stroke="#333" stroke-width="0.3" />
<line x1="38.60" y1="607.42" x2="39.60" y2="607.42" stroke="#333" stroke-width="0.3" />
<line x1="38.60" y1="606.16" x2="39.60" y2="606.16" stroke="#333" stroke-width="0.3" />
<line x1="38.60" y1="605.05" x2="39.60" y2="605.05" stroke="#333" stroke-width="0.3" />
<line x1="37.60" y1="625.80" x2="39.60" y2="625.80" stroke="#333" stroke-width="0.6" />
<text x="36.60" y="628.10" font-size="6.4" fill="#1a1a1a" text-anchor="end" stroke="#1a1a1a" stroke-width="0.1">0.01</text>
<line x1="38.60" y1="641.00" x2="39.60" y2="641.00" stroke="#333" stroke-width="0.3" />
<line x1="38.60" y1="637.17" x2="39.60" y2="637.17" stroke="#333" stroke-width="0.3" />
<line x1="38.60" y1="634.46" x2="39.60" y2="634.46" stroke="#333" stroke-width="0.3" />
<line x1="38.60" y1="632.35" x2="39.60" y2="632.35" stroke="#333" stroke-width="0.3" />
<line x1="38.60" y1="630.63" x2="39.60" y2="630.63" stroke="#333" stroke-width="0.3" />
<line x1="38.60" y1="629.17" x2="39.60" y2="629.17" stroke="#333" stroke-width="0.3" />
<line x1="38.60" y1="627.91" x2="39.60" y2="627.91" stroke="#333" stroke-width="0.3" />
<line x1="38.60" y1="626.80" x2="39.60" y2="626.80" stroke="#333" stroke-width="0.3" />
<line x1="37.60" y1="647.55" x2="39.60" y2="647.55" stroke="#333" stroke-width="0.6" />
<text x="36.60" y="649.85" font-size="6.4" fill="#1a1a1a" text-anchor="end" stroke="#1a1a1a" stroke-width="0.1">0.001</text>
<line x1="48.60" y1="647.60" x2="48.60" y2="649.80" stroke="#333" stroke-width="0.5" />
<line x1="61.37" y1="647.60" x2="61.37" y2="649.80" stroke="#333" stroke-width="0.5" />
<line x1="74.14" y1="647.60" x2="74.14" y2="649.80" stroke="#333" stroke-width="0.5" />
<line x1="86.91" y1="647.60" x2="86.91" y2="649.80" stroke="#333" stroke-width="0.5" />
<line x1="99.68" y1="647.60" x2="99.68" y2="649.80" stroke="#333" stroke-width="0.5" />
<line x1="112.45" y1="647.60" x2="112.45" y2="649.80" stroke="#333" stroke-width="0.5" />
<line x1="125.22" y1="647.60" x2="125.22" y2="649.80" stroke="#333" stroke-width="0.5" />
<line x1="137.99" y1="647.60" x2="137.99" y2="649.80" stroke="#333" stroke-width="0.5" />
<line x1="150.76" y1="647.60" x2="150.76" y2="649.80" stroke="#333" stroke-width="0.5" />
<line x1="163.53" y1="647.60" x2="163.53" y2="649.80" stroke="#333" stroke-width="0.5" />
<line x1="176.30" y1="647.60" x2="176.30" y2="649.80" stroke="#333" stroke-width="0.5" />
<line x1="189.07" y1="647.60" x2="189.07" y2="649.80" stroke="#333" stroke-width="0.5" />
<line x1="201.84" y1="647.60" x2="201.84" y2="649.80" stroke="#333" stroke-width="0.5" />
<text x="0" y="0" font-size="6" fill="#1a1a1a" stroke="#1a1a1a" stroke-width="0.08" text-anchor="middle" transform="translate(10.2 613.3) rotate(-90)">Metastatic index</text>
<text x="0" y="0" font-size="6" fill="#1a1a1a" stroke="#1a1a1a" stroke-width="0.08" text-anchor="middle" transform="translate(18.2 613.3) rotate(-90)">(p/s/cm<tspan font-size="4" dy="-2">2</tspan><tspan dy="2">/sr)</tspan></text>
<circle cx="45.40" cy="594.90" r="1.45" fill="none" stroke="#111" stroke-width="0.55"/>
<circle cx="48.50" cy="594.90" r="1.45" fill="none" stroke="#111" stroke-width="0.55"/>
<circle cx="51.50" cy="594.90" r="1.45" fill="none" stroke="#111" stroke-width="0.55"/>
<circle cx="48.50" cy="603.80" r="1.45" fill="none" stroke="#111" stroke-width="0.55"/>
<circle cx="48.50" cy="615.10" r="1.45" fill="none" stroke="#111" stroke-width="0.55"/>
<line x1="44.20" y1="599.20" x2="53.00" y2="599.20" stroke="#111" stroke-width="0.65" />
<line x1="48.60" y1="594.60" x2="48.60" y2="603.10" stroke="#111" stroke-width="0.6" />
<line x1="46.40" y1="594.60" x2="50.80" y2="594.60" stroke="#111" stroke-width="0.6" />
<line x1="46.40" y1="603.10" x2="50.80" y2="603.10" stroke="#111" stroke-width="0.6" />
<circle cx="60.80" cy="602.80" r="1.45" fill="none" stroke="#111" stroke-width="0.55"/>
<circle cx="60.80" cy="606.90" r="1.45" fill="none" stroke="#111" stroke-width="0.55"/>
<circle cx="58.20" cy="621.50" r="1.45" fill="none" stroke="#111" stroke-width="0.55"/>
<circle cx="63.80" cy="619.70" r="1.45" fill="none" stroke="#111" stroke-width="0.55"/>
<circle cx="60.80" cy="609.20" r="1.45" fill="none" stroke="#111" stroke-width="0.55"/>
<line x1="56.97" y1="609.50" x2="65.77" y2="609.50" stroke="#111" stroke-width="0.65" />
<line x1="61.37" y1="606.90" x2="61.37" y2="615.40" stroke="#111" stroke-width="0.6" />
<line x1="59.17" y1="606.90" x2="63.57" y2="606.90" stroke="#111" stroke-width="0.6" />
<line x1="59.17" y1="615.40" x2="63.57" y2="615.40" stroke="#111" stroke-width="0.6" />
<text x="61.37" y="595.30" font-size="6.3" fill="#333" text-anchor="middle" >ns</text>
<circle cx="73.80" cy="596.90" r="1.45" fill="none" stroke="#111" stroke-width="0.55"/>
<circle cx="70.80" cy="614.60" r="1.45" fill="none" stroke="#111" stroke-width="0.55"/>
<circle cx="76.90" cy="612.00" r="1.45" fill="none" stroke="#111" stroke-width="0.55"/>
<circle cx="73.80" cy="608.50" r="1.45" fill="none" stroke="#111" stroke-width="0.55"/>
<circle cx="73.80" cy="604.60" r="1.45" fill="none" stroke="#111" stroke-width="0.55"/>
<line x1="69.74" y1="605.40" x2="78.54" y2="605.40" stroke="#111" stroke-width="0.65" />
<line x1="74.14" y1="601.50" x2="74.14" y2="609.20" stroke="#111" stroke-width="0.6" />
<line x1="71.94" y1="601.50" x2="76.34" y2="601.50" stroke="#111" stroke-width="0.6" />
<line x1="71.94" y1="609.20" x2="76.34" y2="609.20" stroke="#111" stroke-width="0.6" />
<text x="74.14" y="592.60" font-size="6.3" fill="#333" text-anchor="middle" >ns</text>
<circle cx="83.50" cy="615.70" r="1.45" fill="none" stroke="#111" stroke-width="0.55"/>
<circle cx="89.50" cy="615.70" r="1.45" fill="none" stroke="#111" stroke-width="0.55"/>
<circle cx="86.50" cy="628.90" r="1.45" fill="none" stroke="#111" stroke-width="0.55"/>
<circle cx="86.50" cy="634.60" r="1.45" fill="none" stroke="#111" stroke-width="0.55"/>
<circle cx="86.50" cy="619.20" r="1.45" fill="none" stroke="#111" stroke-width="0.55"/>
<line x1="82.51" y1="620.30" x2="91.31" y2="620.30" stroke="#111" stroke-width="0.65" />
<line x1="86.91" y1="614.60" x2="86.91" y2="624.60" stroke="#111" stroke-width="0.6" />
<line x1="84.71" y1="614.60" x2="89.11" y2="614.60" stroke="#111" stroke-width="0.6" />
<line x1="84.71" y1="624.60" x2="89.11" y2="624.60" stroke="#111" stroke-width="0.6" />
<polygon points="87.21,600.10 87.79,601.50 89.30,601.62 88.15,602.61 88.50,604.08 87.21,603.29 85.92,604.08 86.27,602.61 85.12,601.62 86.63,601.50" fill="#111"/>
<circle cx="99.20" cy="619.20" r="1.45" fill="none" stroke="#111" stroke-width="0.55"/>
<circle cx="99.20" cy="631.50" r="1.45" fill="none" stroke="#111" stroke-width="0.55"/>
<circle cx="99.20" cy="646.50" r="1.45" fill="none" stroke="#111" stroke-width="0.55"/>
<circle cx="99.20" cy="632.30" r="1.45" fill="none" stroke="#111" stroke-width="0.55"/>
<line x1="95.28" y1="627.40" x2="104.08" y2="627.40" stroke="#111" stroke-width="0.65" />
<line x1="99.68" y1="622.30" x2="99.68" y2="637.20" stroke="#111" stroke-width="0.6" />
<line x1="97.48" y1="622.30" x2="101.88" y2="622.30" stroke="#111" stroke-width="0.6" />
<line x1="97.48" y1="637.20" x2="101.88" y2="637.20" stroke="#111" stroke-width="0.6" />
<polygon points="99.98,604.70 100.56,606.10 102.07,606.22 100.92,607.21 101.27,608.68 99.98,607.89 98.69,608.68 99.04,607.21 97.89,606.22 99.40,606.10" fill="#111"/>
<circle cx="112.00" cy="612.30" r="1.45" fill="none" stroke="#111" stroke-width="0.55"/>
<circle cx="109.00" cy="622.30" r="1.45" fill="none" stroke="#111" stroke-width="0.55"/>
<circle cx="115.00" cy="625.40" r="1.45" fill="none" stroke="#111" stroke-width="0.55"/>
<circle cx="112.00" cy="630.00" r="1.45" fill="none" stroke="#111" stroke-width="0.55"/>
<circle cx="115.40" cy="625.10" r="1.45" fill="none" stroke="#111" stroke-width="0.55"/>
<line x1="108.05" y1="620.30" x2="116.85" y2="620.30" stroke="#111" stroke-width="0.65" />
<line x1="112.45" y1="617.20" x2="112.45" y2="624.60" stroke="#111" stroke-width="0.6" />
<line x1="110.25" y1="617.20" x2="114.65" y2="617.20" stroke="#111" stroke-width="0.6" />
<line x1="110.25" y1="624.60" x2="114.65" y2="624.60" stroke="#111" stroke-width="0.6" />
<polygon points="112.75,599.60 113.33,601.00 114.84,601.12 113.69,602.11 114.04,603.58 112.75,602.79 111.46,603.58 111.81,602.11 110.66,601.12 112.17,601.00" fill="#111"/>
<circle cx="125.00" cy="613.80" r="1.45" fill="none" stroke="#111" stroke-width="0.55"/>
<circle cx="125.00" cy="622.40" r="1.45" fill="none" stroke="#111" stroke-width="0.55"/>
<circle cx="122.30" cy="632.40" r="1.45" fill="none" stroke="#111" stroke-width="0.55"/>
<circle cx="127.80" cy="629.70" r="1.45" fill="none" stroke="#111" stroke-width="0.55"/>
<circle cx="125.00" cy="624.20" r="1.45" fill="none" stroke="#111" stroke-width="0.55"/>
<line x1="120.82" y1="622.40" x2="129.62" y2="622.40" stroke="#111" stroke-width="0.65" />
<line x1="125.22" y1="618.70" x2="125.22" y2="627.90" stroke="#111" stroke-width="0.6" />
<line x1="123.02" y1="618.70" x2="127.42" y2="618.70" stroke="#111" stroke-width="0.6" />
<line x1="123.02" y1="627.90" x2="127.42" y2="627.90" stroke="#111" stroke-width="0.6" />
<polygon points="125.52,600.60 126.10,602.00 127.61,602.12 126.46,603.11 126.81,604.58 125.52,603.79 124.23,604.58 124.58,603.11 123.43,602.12 124.94,602.00" fill="#111"/>
<circle cx="134.70" cy="603.70" r="1.45" fill="none" stroke="#111" stroke-width="0.55"/>
<circle cx="140.90" cy="603.70" r="1.45" fill="none" stroke="#111" stroke-width="0.55"/>
<circle cx="137.80" cy="606.00" r="1.45" fill="none" stroke="#111" stroke-width="0.55"/>
<circle cx="134.70" cy="614.30" r="1.45" fill="none" stroke="#111" stroke-width="0.55"/>
<circle cx="140.60" cy="612.00" r="1.45" fill="none" stroke="#111" stroke-width="0.55"/>
<line x1="133.59" y1="607.80" x2="142.39" y2="607.80" stroke="#111" stroke-width="0.65" />
<line x1="137.99" y1="604.70" x2="137.99" y2="610.10" stroke="#111" stroke-width="0.6" />
<line x1="135.79" y1="604.70" x2="140.19" y2="604.70" stroke="#111" stroke-width="0.6" />
<line x1="135.79" y1="610.10" x2="140.19" y2="610.10" stroke="#111" stroke-width="0.6" />
<text x="137.99" y="598.30" font-size="6.3" fill="#333" text-anchor="middle" >ns</text>
<circle cx="150.60" cy="610.10" r="1.45" fill="none" stroke="#111" stroke-width="0.55"/>
<circle cx="147.50" cy="627.10" r="1.45" fill="none" stroke="#111" stroke-width="0.55"/>
<circle cx="153.70" cy="624.80" r="1.45" fill="none" stroke="#111" stroke-width="0.55"/>
<line x1="146.36" y1="617.50" x2="155.16" y2="617.50" stroke="#111" stroke-width="0.65" />
<line x1="150.76" y1="613.20" x2="150.76" y2="625.30" stroke="#111" stroke-width="0.6" />
<line x1="148.56" y1="613.20" x2="152.96" y2="613.20" stroke="#111" stroke-width="0.6" />
<line x1="148.56" y1="625.30" x2="152.96" y2="625.30" stroke="#111" stroke-width="0.6" />
<text x="150.76" y="606.20" font-size="6.3" fill="#333" text-anchor="middle" >ns</text>
<circle cx="159.80" cy="616.50" r="1.45" fill="none" stroke="#111" stroke-width="0.55"/>
<circle cx="166.20" cy="618.70" r="1.45" fill="none" stroke="#111" stroke-width="0.55"/>
<circle cx="163.40" cy="618.40" r="1.45" fill="none" stroke="#111" stroke-width="0.55"/>
<circle cx="163.40" cy="642.50" r="1.45" fill="none" stroke="#111" stroke-width="0.55"/>
<line x1="159.13" y1="620.60" x2="167.93" y2="620.60" stroke="#111" stroke-width="0.65" />
<line x1="163.53" y1="616.90" x2="163.53" y2="627.10" stroke="#111" stroke-width="0.6" />
<line x1="161.33" y1="616.90" x2="165.73" y2="616.90" stroke="#111" stroke-width="0.6" />
<line x1="161.33" y1="627.10" x2="165.73" y2="627.10" stroke="#111" stroke-width="0.6" />
<polygon points="163.83,605.60 164.41,607.00 165.92,607.12 164.77,608.11 165.12,609.58 163.83,608.79 162.54,609.58 162.89,608.11 161.74,607.12 163.25,607.00" fill="#111"/>
<circle cx="175.80" cy="616.50" r="1.45" fill="none" stroke="#111" stroke-width="0.55"/>
<circle cx="175.80" cy="620.20" r="1.45" fill="none" stroke="#111" stroke-width="0.55"/>
<circle cx="173.10" cy="627.90" r="1.45" fill="none" stroke="#111" stroke-width="0.55"/>
<circle cx="178.90" cy="626.60" r="1.45" fill="none" stroke="#111" stroke-width="0.55"/>
<circle cx="175.80" cy="622.00" r="1.45" fill="none" stroke="#111" stroke-width="0.55"/>
<line x1="171.90" y1="622.40" x2="180.70" y2="622.40" stroke="#111" stroke-width="0.65" />
<line x1="176.30" y1="619.30" x2="176.30" y2="624.80" stroke="#111" stroke-width="0.6" />
<line x1="174.10" y1="619.30" x2="178.50" y2="619.30" stroke="#111" stroke-width="0.6" />
<line x1="174.10" y1="624.80" x2="178.50" y2="624.80" stroke="#111" stroke-width="0.6" />
<polygon points="176.60,605.60 177.18,607.00 178.69,607.12 177.54,608.11 177.89,609.58 176.60,608.79 175.31,609.58 175.66,608.11 174.51,607.12 176.02,607.00" fill="#111"/>
<circle cx="188.10" cy="610.10" r="1.45" fill="none" stroke="#111" stroke-width="0.55"/>
<circle cx="188.10" cy="629.30" r="1.45" fill="none" stroke="#111" stroke-width="0.55"/>
<circle cx="185.30" cy="633.30" r="1.45" fill="none" stroke="#111" stroke-width="0.55"/>
<circle cx="191.40" cy="633.30" r="1.45" fill="none" stroke="#111" stroke-width="0.55"/>
<circle cx="188.10" cy="631.50" r="1.45" fill="none" stroke="#111" stroke-width="0.55"/>
<line x1="184.67" y1="620.60" x2="193.47" y2="620.60" stroke="#111" stroke-width="0.65" />
<line x1="189.07" y1="615.60" x2="189.07" y2="629.30" stroke="#111" stroke-width="0.6" />
<line x1="186.87" y1="615.60" x2="191.27" y2="615.60" stroke="#111" stroke-width="0.6" />
<line x1="186.87" y1="629.30" x2="191.27" y2="629.30" stroke="#111" stroke-width="0.6" />
<polygon points="189.37,597.50 189.95,598.90 191.46,599.02 190.31,600.01 190.66,601.48 189.37,600.69 188.08,601.48 188.43,600.01 187.28,599.02 188.79,598.90" fill="#111"/>
<circle cx="200.90" cy="613.80" r="1.45" fill="none" stroke="#111" stroke-width="0.55"/>
<circle cx="200.90" cy="629.00" r="1.45" fill="none" stroke="#111" stroke-width="0.55"/>
<circle cx="200.90" cy="633.00" r="1.45" fill="none" stroke="#111" stroke-width="0.55"/>
<circle cx="200.90" cy="637.00" r="1.45" fill="none" stroke="#111" stroke-width="0.55"/>
<circle cx="200.90" cy="625.30" r="1.45" fill="none" stroke="#111" stroke-width="0.55"/>
<line x1="197.44" y1="623.50" x2="206.24" y2="623.50" stroke="#111" stroke-width="0.65" />
<line x1="201.84" y1="619.30" x2="201.84" y2="629.00" stroke="#111" stroke-width="0.6" />
<line x1="199.64" y1="619.30" x2="204.04" y2="619.30" stroke="#111" stroke-width="0.6" />
<line x1="199.64" y1="629.00" x2="204.04" y2="629.00" stroke="#111" stroke-width="0.6" />
<polygon points="202.14,601.90 202.72,603.30 204.23,603.42 203.08,604.41 203.43,605.88 202.14,605.09 200.85,605.88 201.20,604.41 200.05,603.42 201.56,603.30" fill="#111"/>
<text x="50.70" y="655.00" font-size="6.2" fill="#1a1a1a" stroke="#1a1a1a" stroke-width="0.12" text-anchor="end" transform="rotate(-45 50.70 655.00)">Nontargeting sgRNA</text>
<text x="63.47" y="655.00" font-size="6.2" fill="#1a1a1a" stroke="#1a1a1a" stroke-width="0.12" text-anchor="end" transform="rotate(-45 63.47 655.00)">CDH7 sgRNA 1</text>
<text x="76.24" y="655.00" font-size="6.2" fill="#1a1a1a" stroke="#1a1a1a" stroke-width="0.12" text-anchor="end" transform="rotate(-45 76.24 655.00)">CDH7 sgRNA 2</text>
<text x="89.01" y="655.00" font-size="6.2" fill="#de4a50" stroke="#de4a50" stroke-width="0.12" text-anchor="end" transform="rotate(-45 89.01 655.00)">IL18R1 sgRNA 1</text>
<text x="101.78" y="655.00" font-size="6.2" fill="#de4a50" stroke="#de4a50" stroke-width="0.12" text-anchor="end" transform="rotate(-45 101.78 655.00)">IL18R1 sgRNA 2</text>
<text x="114.55" y="655.00" font-size="6.2" fill="#de4a50" stroke="#de4a50" stroke-width="0.12" text-anchor="end" transform="rotate(-45 114.55 655.00)">ITGA2 sgRNA 1</text>
<text x="127.32" y="655.00" font-size="6.2" fill="#de4a50" stroke="#de4a50" stroke-width="0.12" text-anchor="end" transform="rotate(-45 127.32 655.00)">ITGA2 sgRNA 2</text>
<text x="140.09" y="655.00" font-size="6.2" fill="#1a1a1a" stroke="#1a1a1a" stroke-width="0.12" text-anchor="end" transform="rotate(-45 140.09 655.00)">IL1RAPL1 sgRNA 1</text>
<text x="152.86" y="655.00" font-size="6.2" fill="#1a1a1a" stroke="#1a1a1a" stroke-width="0.12" text-anchor="end" transform="rotate(-45 152.86 655.00)">IL1RAPL1 sgRNA 2</text>
<text x="165.63" y="655.00" font-size="6.2" fill="#de4a50" stroke="#de4a50" stroke-width="0.12" text-anchor="end" transform="rotate(-45 165.63 655.00)">CSNK1A1L sgRNA 1</text>
<text x="178.40" y="655.00" font-size="6.2" fill="#de4a50" stroke="#de4a50" stroke-width="0.12" text-anchor="end" transform="rotate(-45 178.40 655.00)">CSNK1A1L sgRNA 2</text>
<text x="191.17" y="655.00" font-size="6.2" fill="#de4a50" stroke="#de4a50" stroke-width="0.12" text-anchor="end" transform="rotate(-45 191.17 655.00)">CSNK2A2 sgRNA 1</text>
<text x="203.94" y="655.00" font-size="6.2" fill="#de4a50" stroke="#de4a50" stroke-width="0.12" text-anchor="end" transform="rotate(-45 203.94 655.00)">CSNK2A2 sgRNA 2</text>
<rect x="221.60" y="580.30" width="255.50" height="51.30" fill="#a8a8a8" stroke="none" stroke-width="0.5" />
<rect x="221.60" y="631.10" width="204.80" height="102.00" fill="#a8a8a8" stroke="none" stroke-width="0.5" />
<rect x="222.30" y="581.00" width="50.4" height="49.90" fill="#474747"/>
<rect x="222.30" y="581.00" width="50.4" height="49.90" filter="url(#nz)" opacity="0.3"/>
<line x1="222.30" y1="609.50" x2="272.70" y2="609.50" stroke="#262626" stroke-width="0.8" opacity="0.8"/>
<line x1="222.30" y1="619.00" x2="272.70" y2="619.00" stroke="#303030" stroke-width="0.6" opacity="0.6"/>
<text x="247.50" y="587.60" font-size="5.2" fill="#f2f2f2" text-anchor="middle" >Nontargeting sgRNA</text>
<path d="M266.70,581.30 L272.40,585.00" stroke="#f0f0f0" stroke-width="1" opacity="0.85"/>
<rect x="273.37" y="581.00" width="50.4" height="49.90" fill="#474747"/>
<rect x="273.37" y="581.00" width="50.4" height="49.90" filter="url(#nz)" opacity="0.3"/>
<line x1="273.37" y1="609.50" x2="323.77" y2="609.50" stroke="#262626" stroke-width="0.8" opacity="0.8"/>
<line x1="273.37" y1="619.00" x2="323.77" y2="619.00" stroke="#303030" stroke-width="0.6" opacity="0.6"/>
<text x="298.57" y="587.60" font-size="5.2" fill="#f2f2f2" text-anchor="middle" >CDH7 sgRNA 1</text>
<path d="M317.77,581.30 L323.47,585.00" stroke="#f0f0f0" stroke-width="1" opacity="0.85"/>
<rect x="324.44" y="581.00" width="50.4" height="49.90" fill="#474747"/>
<rect x="324.44" y="581.00" width="50.4" height="49.90" filter="url(#nz)" opacity="0.3"/>
<line x1="324.44" y1="609.50" x2="374.84" y2="609.50" stroke="#262626" stroke-width="0.8" opacity="0.8"/>
<line x1="324.44" y1="619.00" x2="374.84" y2="619.00" stroke="#303030" stroke-width="0.6" opacity="0.6"/>
<text x="349.64" y="587.60" font-size="5.2" fill="#f2f2f2" text-anchor="middle" >CDH7 sgRNA 2</text>
<path d="M368.84,581.30 L374.54,585.00" stroke="#f0f0f0" stroke-width="1" opacity="0.85"/>
<rect x="375.51" y="581.00" width="50.4" height="49.90" fill="#474747"/>
<rect x="375.51" y="581.00" width="50.4" height="49.90" filter="url(#nz)" opacity="0.3"/>
<line x1="375.51" y1="609.50" x2="425.91" y2="609.50" stroke="#262626" stroke-width="0.8" opacity="0.8"/>
<line x1="375.51" y1="619.00" x2="425.91" y2="619.00" stroke="#303030" stroke-width="0.6" opacity="0.6"/>
<rect x="375.51" y="581.50" width="50.40" height="8.40" fill="#4a2828" stroke="none" stroke-width="0.5" />
<text x="400.71" y="587.60" font-size="5.2" fill="#c82c2c" text-anchor="middle" >IL18R1 sgRNA 1</text>
<path d="M419.91,581.30 L425.61,585.00" stroke="#f0f0f0" stroke-width="1" opacity="0.85"/>
<rect x="426.58" y="581.00" width="50.4" height="49.90" fill="#474747"/>
<rect x="426.58" y="581.00" width="50.4" height="49.90" filter="url(#nz)" opacity="0.3"/>
<line x1="426.58" y1="609.50" x2="476.98" y2="609.50" stroke="#262626" stroke-width="0.8" opacity="0.8"/>
<line x1="426.58" y1="619.00" x2="476.98" y2="619.00" stroke="#303030" stroke-width="0.6" opacity="0.6"/>
<rect x="426.58" y="581.50" width="50.40" height="8.40" fill="#4a2828" stroke="none" stroke-width="0.5" />
<text x="451.78" y="587.60" font-size="5.2" fill="#c82c2c" text-anchor="middle" >IL18R1 sgRNA 2</text>
<path d="M470.98,581.30 L476.68,585.00" stroke="#f0f0f0" stroke-width="1" opacity="0.85"/>
<rect x="222.30" y="631.80" width="50.4" height="49.90" fill="#474747"/>
<rect x="222.30" y="631.80" width="50.4" height="49.90" filter="url(#nz)" opacity="0.3"/>
<line x1="222.30" y1="660.30" x2="272.70" y2="660.30" stroke="#262626" stroke-width="0.8" opacity="0.8"/>
<line x1="222.30" y1="669.80" x2="272.70" y2="669.80" stroke="#303030" stroke-width="0.6" opacity="0.6"/>
<rect x="222.30" y="632.30" width="50.40" height="8.40" fill="#4a2828" stroke="none" stroke-width="0.5" />
<text x="247.50" y="638.40" font-size="5.2" fill="#c82c2c" text-anchor="middle" >ITGA2 sgRNA 1</text>
<path d="M266.70,632.10 L272.40,635.80" stroke="#f0f0f0" stroke-width="1" opacity="0.85"/>
<rect x="273.37" y="631.80" width="50.4" height="49.90" fill="#474747"/>
<rect x="273.37" y="631.80" width="50.4" height="49.90" filter="url(#nz)" opacity="0.3"/>
<line x1="273.37" y1="660.30" x2="323.77" y2="660.30" stroke="#262626" stroke-width="0.8" opacity="0.8"/>
<line x1="273.37" y1="669.80" x2="323.77" y2="669.80" stroke="#303030" stroke-width="0.6" opacity="0.6"/>
<rect x="273.37" y="632.30" width="50.40" height="8.40" fill="#4a2828" stroke="none" stroke-width="0.5" />
<text x="298.57" y="638.40" font-size="5.2" fill="#c82c2c" text-anchor="middle" >ITGA2 sgRNA 2</text>
<path d="M317.77,632.10 L323.47,635.80" stroke="#f0f0f0" stroke-width="1" opacity="0.85"/>
<rect x="324.44" y="631.80" width="50.4" height="49.90" fill="#474747"/>
<rect x="324.44" y="631.80" width="50.4" height="49.90" filter="url(#nz)" opacity="0.3"/>
<line x1="324.44" y1="660.30" x2="374.84" y2="660.30" stroke="#262626" stroke-width="0.8" opacity="0.8"/>
<line x1="324.44" y1="669.80" x2="374.84" y2="669.80" stroke="#303030" stroke-width="0.6" opacity="0.6"/>
<text x="349.64" y="638.40" font-size="5.2" fill="#f2f2f2" text-anchor="middle" >IL1RAPL1 sgRNA 1</text>
<path d="M368.84,632.10 L374.54,635.80" stroke="#f0f0f0" stroke-width="1" opacity="0.85"/>
<rect x="375.51" y="631.80" width="50.4" height="49.90" fill="#474747"/>
<rect x="375.51" y="631.80" width="50.4" height="49.90" filter="url(#nz)" opacity="0.3"/>
<line x1="375.51" y1="660.30" x2="425.91" y2="660.30" stroke="#262626" stroke-width="0.8" opacity="0.8"/>
<line x1="375.51" y1="669.80" x2="425.91" y2="669.80" stroke="#303030" stroke-width="0.6" opacity="0.6"/>
<text x="400.71" y="638.40" font-size="5.2" fill="#f2f2f2" text-anchor="middle" >IL1RAPL1 sgRNA 2</text>
<path d="M419.91,632.10 L425.61,635.80" stroke="#f0f0f0" stroke-width="1" opacity="0.85"/>
<rect x="222.30" y="682.60" width="50.4" height="52.40" fill="#474747"/>
<rect x="222.30" y="682.60" width="50.4" height="52.40" filter="url(#nz)" opacity="0.3"/>
<line x1="222.30" y1="711.10" x2="272.70" y2="711.10" stroke="#262626" stroke-width="0.8" opacity="0.8"/>
<line x1="222.30" y1="720.60" x2="272.70" y2="720.60" stroke="#303030" stroke-width="0.6" opacity="0.6"/>
<rect x="222.30" y="683.10" width="50.40" height="8.40" fill="#4a2828" stroke="none" stroke-width="0.5" />
<text x="247.50" y="689.20" font-size="5.2" fill="#c82c2c" text-anchor="middle" >CSNK1A1L sgRNA 1</text>
<path d="M266.70,682.90 L272.40,686.60" stroke="#f0f0f0" stroke-width="1" opacity="0.85"/>
<rect x="273.37" y="682.60" width="50.4" height="52.40" fill="#474747"/>
<rect x="273.37" y="682.60" width="50.4" height="52.40" filter="url(#nz)" opacity="0.3"/>
<line x1="273.37" y1="711.10" x2="323.77" y2="711.10" stroke="#262626" stroke-width="0.8" opacity="0.8"/>
<line x1="273.37" y1="720.60" x2="323.77" y2="720.60" stroke="#303030" stroke-width="0.6" opacity="0.6"/>
<rect x="273.37" y="683.10" width="50.40" height="8.40" fill="#4a2828" stroke="none" stroke-width="0.5" />
<text x="298.57" y="689.20" font-size="5.2" fill="#c82c2c" text-anchor="middle" >CSNK1A1L sgRNA 2</text>
<path d="M317.77,682.90 L323.47,686.60" stroke="#f0f0f0" stroke-width="1" opacity="0.85"/>
<rect x="324.44" y="682.60" width="50.4" height="52.40" fill="#474747"/>
<rect x="324.44" y="682.60" width="50.4" height="52.40" filter="url(#nz)" opacity="0.3"/>
<line x1="324.44" y1="711.10" x2="374.84" y2="711.10" stroke="#262626" stroke-width="0.8" opacity="0.8"/>
<line x1="324.44" y1="720.60" x2="374.84" y2="720.60" stroke="#303030" stroke-width="0.6" opacity="0.6"/>
<rect x="324.44" y="683.10" width="50.40" height="8.40" fill="#4a2828" stroke="none" stroke-width="0.5" />
<text x="349.64" y="689.20" font-size="5.2" fill="#c82c2c" text-anchor="middle" >CSNK2A2 sgRNA 1</text>
<path d="M368.84,682.90 L374.54,686.60" stroke="#f0f0f0" stroke-width="1" opacity="0.85"/>
<rect x="375.51" y="682.60" width="50.4" height="52.40" fill="#474747"/>
<rect x="375.51" y="682.60" width="50.4" height="52.40" filter="url(#nz)" opacity="0.3"/>
<line x1="375.51" y1="711.10" x2="425.91" y2="711.10" stroke="#262626" stroke-width="0.8" opacity="0.8"/>
<line x1="375.51" y1="720.60" x2="425.91" y2="720.60" stroke="#303030" stroke-width="0.6" opacity="0.6"/>
<rect x="375.51" y="683.10" width="50.40" height="8.40" fill="#4a2828" stroke="none" stroke-width="0.5" />
<text x="400.71" y="689.20" font-size="5.2" fill="#c82c2c" text-anchor="middle" >CSNK2A2 sgRNA 2</text>
<path d="M419.91,682.90 L425.61,686.60" stroke="#f0f0f0" stroke-width="1" opacity="0.85"/>
<defs><filter id="soft" x="-20%" y="-20%" width="140%" height="140%"><feGaussianBlur stdDeviation="0.55"/></filter></defs>
<g filter="url(#soft)">
<path d="M254.17,610.40 C254.07,611.31 254.87,612.03 255.02,613.05 C255.16,614.06 255.61,615.54 255.04,616.51 C254.47,617.48 252.96,618.40 251.59,618.85 C250.23,619.31 248.37,619.18 246.83,619.24 C245.30,619.30 243.91,619.29 242.37,619.23 C240.83,619.17 239.03,619.28 237.60,618.86 C236.16,618.45 234.61,617.64 233.78,616.73 C232.95,615.83 232.80,614.50 232.63,613.44 C232.46,612.38 232.70,611.40 232.76,610.40 C232.82,609.40 232.65,608.40 233.01,607.46 C233.38,606.52 234.00,605.44 234.95,604.75 C235.91,604.06 237.47,603.71 238.74,603.32 C240.02,602.93 241.20,602.83 242.58,602.42 C243.96,602.01 245.32,601.17 247.01,600.86 C248.70,600.55 251.18,600.12 252.74,600.56 C254.30,601.00 255.90,602.33 256.37,603.51 C256.85,604.68 255.97,606.46 255.60,607.61 C255.23,608.76 254.26,609.49 254.17,610.40 Z" fill="#1a2ee6"/>
<path d="M252.90,610.60 C252.82,611.37 253.52,611.97 253.65,612.83 C253.77,613.69 254.16,614.94 253.66,615.76 C253.17,616.58 251.86,617.35 250.67,617.74 C249.49,618.12 247.87,618.01 246.54,618.06 C245.20,618.12 244.00,618.11 242.66,618.06 C241.33,618.00 239.76,618.10 238.52,617.75 C237.28,617.40 235.92,616.71 235.21,615.95 C234.49,615.19 234.35,614.06 234.21,613.17 C234.06,612.28 234.26,611.44 234.32,610.60 C234.37,609.76 234.22,608.91 234.54,608.11 C234.86,607.32 235.40,606.41 236.23,605.83 C237.05,605.25 238.41,604.95 239.52,604.62 C240.62,604.30 241.65,604.20 242.85,603.86 C244.04,603.51 245.22,602.81 246.69,602.54 C248.16,602.28 250.31,601.92 251.67,602.29 C253.02,602.66 254.41,603.79 254.82,604.78 C255.24,605.77 254.47,607.27 254.15,608.24 C253.83,609.21 252.99,609.83 252.90,610.60 Z" fill="#18c2ee"/>
<ellipse cx="238.6" cy="612.2" rx="6.2" ry="5.8" fill="#3ee44a"/>
<ellipse cx="250.2" cy="606.4" rx="6.2" ry="4.4" fill="#3ee44a"/>
<ellipse cx="245" cy="610" rx="3" ry="3" fill="#48e650"/>
<ellipse cx="244.6" cy="604.2" rx="2.6" ry="1.8" fill="#1a2ee6"/>
<ellipse cx="238.2" cy="613.2" rx="3.2" ry="3.8" fill="#e8e82a"/>
<ellipse cx="238.6" cy="613.6" rx="1.7" ry="2.7" fill="#e83a1a"/>
<ellipse cx="236.6" cy="611" rx="1" ry="1" fill="#5a3a1a"/>
<ellipse cx="249.5" cy="616.6" rx="4.2" ry="1.6" fill="#f0f0f0"/>
</g>
<g filter="url(#soft)">
<path d="M310.31,608.40 C310.18,609.99 309.39,611.78 308.55,612.99 C307.71,614.20 306.26,614.85 305.27,615.66 C304.28,616.48 303.52,616.96 302.63,617.87 C301.75,618.79 301.08,620.28 299.96,621.15 C298.85,622.02 297.29,623.08 295.95,623.09 C294.62,623.11 293.05,622.23 291.96,621.25 C290.86,620.27 290.13,618.58 289.40,617.22 C288.66,615.85 288.05,614.51 287.55,613.04 C287.05,611.57 286.42,609.95 286.41,608.40 C286.40,606.85 286.81,605.03 287.48,603.73 C288.14,602.43 289.42,601.48 290.39,600.59 C291.36,599.70 292.33,599.17 293.31,598.38 C294.29,597.59 295.13,596.50 296.27,595.86 C297.40,595.22 298.84,594.50 300.12,594.54 C301.41,594.58 302.85,595.28 303.98,596.10 C305.12,596.92 306.05,598.21 306.94,599.44 C307.83,600.67 308.75,601.98 309.31,603.47 C309.87,604.97 310.44,606.81 310.31,608.40 Z" fill="#1e1e1e" opacity="0.6"/>
<path d="M309.43,608.40 C309.31,609.89 308.58,611.58 307.80,612.72 C307.02,613.86 305.67,614.47 304.75,615.23 C303.84,616.00 303.13,616.45 302.30,617.31 C301.48,618.17 300.86,619.57 299.83,620.39 C298.80,621.21 297.35,622.20 296.11,622.21 C294.87,622.23 293.41,621.40 292.40,620.48 C291.38,619.56 290.71,617.98 290.02,616.69 C289.34,615.40 288.77,614.14 288.31,612.76 C287.85,611.38 287.27,609.86 287.25,608.40 C287.24,606.94 287.63,605.24 288.24,604.01 C288.86,602.79 290.04,601.89 290.95,601.06 C291.85,600.22 292.74,599.72 293.65,598.98 C294.56,598.24 295.35,597.21 296.40,596.61 C297.45,596.01 298.78,595.33 299.98,595.37 C301.17,595.41 302.50,596.07 303.56,596.83 C304.61,597.60 305.48,598.82 306.30,599.98 C307.13,601.13 307.98,602.36 308.50,603.77 C309.02,605.17 309.55,606.91 309.43,608.40 Z" fill="#f6f6f6"/>
<path d="M304.97,610.92 C304.86,611.48 304.76,611.95 304.63,612.49 C304.51,613.02 304.47,613.65 304.21,614.15 C303.95,614.64 303.54,615.18 303.09,615.46 C302.63,615.74 302.00,615.79 301.47,615.82 C300.94,615.85 300.43,615.72 299.91,615.64 C299.39,615.55 298.85,615.52 298.34,615.31 C297.84,615.10 297.24,614.83 296.86,614.40 C296.49,613.97 296.22,613.31 296.09,612.73 C295.97,612.15 296.06,611.50 296.12,610.92 C296.18,610.34 296.29,609.79 296.46,609.25 C296.62,608.71 296.80,608.12 297.12,607.68 C297.45,607.24 297.93,606.85 298.39,606.62 C298.86,606.39 299.42,606.38 299.93,606.31 C300.43,606.24 300.90,606.23 301.44,606.22 C301.97,606.22 302.59,606.12 303.13,606.29 C303.68,606.46 304.34,606.78 304.70,607.25 C305.05,607.72 305.23,608.49 305.27,609.10 C305.32,609.71 305.08,610.36 304.97,610.92 Z" fill="#dcdcf0" opacity="0.7"/>
<ellipse cx="295.10" cy="605.40" rx="4.2" ry="3.8" fill="#1b2be8"/>
<ellipse cx="301.10" cy="609.40" rx="4.4" ry="5" fill="#1b2be8"/>
<ellipse cx="294.10" cy="611.90" rx="3.2" ry="3.2" fill="#2238e6"/>
<ellipse cx="300.60" cy="602.40" rx="3" ry="2.2" fill="#2a44ee"/>
<ellipse cx="298.60" cy="610.90" rx="1.2" ry="1.2" fill="#22c8e8"/>
<ellipse cx="302.10" cy="605.90" rx="2" ry="1.8" fill="#1b2be8"/>
<ellipse cx="297.10" cy="614.90" rx="2.4" ry="1.8" fill="#2238e6"/>
</g>
<line x1="292.00" y1="624.00" x2="303.00" y2="624.00" stroke="#111" stroke-width="0.9" opacity="0.8"/>
<g filter="url(#soft)">
<path d="M359.50,607.50 C359.35,608.63 359.14,609.70 358.73,610.77 C358.32,611.84 357.91,613.06 357.04,613.93 C356.16,614.80 354.80,615.61 353.48,615.97 C352.17,616.34 350.51,616.21 349.16,616.13 C347.81,616.06 346.64,615.71 345.38,615.53 C344.12,615.35 342.90,615.35 341.59,615.06 C340.28,614.78 338.69,614.48 337.53,613.82 C336.38,613.15 335.26,612.11 334.65,611.06 C334.04,610.00 333.83,608.68 333.86,607.50 C333.89,606.32 334.22,605.05 334.82,603.99 C335.42,602.93 336.36,601.85 337.46,601.14 C338.56,600.43 340.11,599.99 341.44,599.73 C342.76,599.47 344.14,599.62 345.40,599.56 C346.67,599.50 347.72,599.43 349.04,599.37 C350.36,599.32 351.91,599.01 353.33,599.24 C354.75,599.46 356.52,599.94 357.57,600.73 C358.62,601.52 359.30,602.85 359.63,603.98 C359.95,605.11 359.65,606.37 359.50,607.50 Z" fill="#1e2ee2"/>
<path d="M357.50,607.50 C357.53,608.43 357.60,609.34 357.42,610.31 C357.23,611.28 357.09,612.48 356.39,613.32 C355.69,614.17 354.45,615.03 353.22,615.37 C351.99,615.70 350.29,615.52 349.03,615.32 C347.76,615.13 346.69,614.52 345.64,614.19 C344.59,613.85 343.75,613.64 342.74,613.34 C341.72,613.03 340.52,612.85 339.55,612.35 C338.58,611.84 337.55,611.13 336.93,610.32 C336.31,609.51 335.95,608.47 335.83,607.50 C335.71,606.53 335.81,605.43 336.21,604.48 C336.60,603.53 337.28,602.49 338.20,601.80 C339.12,601.11 340.50,600.58 341.72,600.33 C342.94,600.08 344.33,600.24 345.52,600.29 C346.70,600.34 347.69,600.52 348.81,600.63 C349.92,600.74 351.09,600.69 352.20,600.96 C353.31,601.24 354.64,601.62 355.48,602.25 C356.32,602.88 356.90,603.87 357.24,604.74 C357.57,605.62 357.47,606.57 357.50,607.50 Z" fill="#18c6ea"/>
<path d="M356.44,607.80 C356.47,608.57 356.53,609.31 356.37,610.12 C356.21,610.92 356.09,611.91 355.48,612.60 C354.87,613.30 353.79,614.02 352.72,614.29 C351.66,614.57 350.18,614.42 349.09,614.25 C347.99,614.09 347.05,613.59 346.14,613.32 C345.23,613.04 344.51,612.87 343.63,612.61 C342.74,612.36 341.70,612.21 340.86,611.80 C340.02,611.38 339.12,610.79 338.59,610.13 C338.05,609.46 337.74,608.60 337.63,607.80 C337.53,607.00 337.62,606.09 337.96,605.31 C338.30,604.53 338.89,603.67 339.69,603.10 C340.48,602.53 341.68,602.09 342.74,601.89 C343.80,601.68 345.01,601.81 346.04,601.85 C347.06,601.89 347.93,602.04 348.89,602.13 C349.86,602.23 350.87,602.18 351.84,602.41 C352.81,602.63 353.96,602.95 354.69,603.47 C355.42,603.99 355.92,604.80 356.21,605.53 C356.50,606.25 356.41,607.03 356.44,607.80 Z" fill="#40e040"/>
<path d="M354.46,607.70 C354.47,608.16 354.51,608.62 354.42,609.10 C354.33,609.59 354.27,610.19 353.94,610.61 C353.61,611.03 353.02,611.47 352.44,611.63 C351.86,611.80 351.06,611.71 350.46,611.61 C349.87,611.51 349.36,611.21 348.86,611.04 C348.37,610.88 347.97,610.77 347.49,610.62 C347.02,610.46 346.45,610.37 345.99,610.12 C345.53,609.87 345.05,609.51 344.76,609.11 C344.46,608.71 344.29,608.19 344.24,607.70 C344.18,607.21 344.23,606.67 344.42,606.19 C344.60,605.72 344.92,605.20 345.35,604.85 C345.79,604.50 346.44,604.24 347.01,604.12 C347.59,603.99 348.25,604.07 348.81,604.09 C349.36,604.12 349.83,604.21 350.36,604.27 C350.88,604.32 351.43,604.30 351.96,604.43 C352.48,604.57 353.11,604.76 353.51,605.08 C353.90,605.39 354.18,605.88 354.33,606.32 C354.49,606.76 354.44,607.24 354.46,607.70 Z" fill="#f0e628"/>
<path d="M353.02,607.00 C353.03,607.29 353.05,607.57 353.00,607.88 C352.94,608.18 352.91,608.56 352.72,608.82 C352.52,609.08 352.18,609.35 351.85,609.46 C351.51,609.56 351.05,609.51 350.70,609.44 C350.35,609.38 350.06,609.19 349.77,609.09 C349.49,608.99 349.26,608.92 348.98,608.82 C348.70,608.73 348.37,608.67 348.11,608.51 C347.84,608.36 347.56,608.13 347.39,607.88 C347.22,607.63 347.12,607.30 347.09,607.00 C347.06,606.70 347.09,606.35 347.19,606.06 C347.30,605.76 347.49,605.43 347.74,605.22 C347.99,605.00 348.37,604.84 348.70,604.76 C349.03,604.68 349.42,604.73 349.74,604.75 C350.06,604.76 350.33,604.82 350.64,604.85 C350.94,604.89 351.26,604.87 351.57,604.96 C351.87,605.04 352.24,605.16 352.47,605.36 C352.70,605.56 352.85,605.87 352.95,606.14 C353.04,606.41 353.01,606.71 353.02,607.00 Z" fill="#e8301a"/>
<path d="M344.93,608.50 C344.93,608.76 344.95,609.00 344.91,609.27 C344.86,609.54 344.83,609.87 344.65,610.10 C344.48,610.33 344.18,610.57 343.88,610.66 C343.58,610.76 343.16,610.71 342.85,610.65 C342.54,610.60 342.27,610.43 342.02,610.34 C341.76,610.25 341.55,610.19 341.31,610.10 C341.06,610.02 340.76,609.97 340.52,609.83 C340.29,609.69 340.03,609.50 339.88,609.28 C339.73,609.05 339.64,608.77 339.61,608.50 C339.58,608.23 339.61,607.93 339.70,607.67 C339.80,607.41 339.97,607.12 340.19,606.93 C340.42,606.74 340.76,606.60 341.06,606.53 C341.35,606.46 341.70,606.50 341.99,606.52 C342.28,606.53 342.52,606.58 342.79,606.61 C343.07,606.64 343.35,606.63 343.63,606.70 C343.90,606.78 344.23,606.88 344.43,607.06 C344.64,607.23 344.78,607.50 344.86,607.74 C344.94,607.98 344.92,608.24 344.93,608.50 Z" fill="#f0e628"/>
</g>
<ellipse cx="349" cy="614.5" rx="4" ry="1.5" fill="#f0f0f0" opacity="0.8"/>
<line x1="336.00" y1="625.50" x2="353.00" y2="625.50" stroke="#111" stroke-width="0.9" opacity="0.8"/>
<g filter="url(#soft)">
<path d="M406.67,609.00 C406.90,610.08 407.53,611.36 407.41,612.50 C407.29,613.64 406.73,615.00 405.95,615.84 C405.16,616.67 403.79,617.10 402.70,617.49 C401.62,617.89 400.53,617.99 399.42,618.20 C398.32,618.41 397.22,618.80 396.08,618.78 C394.93,618.76 393.59,618.60 392.56,618.08 C391.53,617.55 390.64,616.54 389.92,615.61 C389.21,614.67 388.73,613.57 388.28,612.46 C387.83,611.36 387.30,610.18 387.24,609.00 C387.18,607.82 387.33,606.39 387.90,605.40 C388.48,604.41 389.74,603.63 390.72,603.06 C391.69,602.49 392.83,602.47 393.74,601.97 C394.66,601.48 395.23,600.79 396.23,600.10 C397.23,599.41 398.49,598.13 399.77,597.85 C401.04,597.58 402.86,597.73 403.89,598.46 C404.91,599.18 405.56,600.94 405.91,602.20 C406.26,603.45 405.89,604.88 406.01,606.01 C406.14,607.14 406.43,607.92 406.67,609.00 Z" fill="#1e1e1e" opacity="0.6"/>
<path d="M405.96,609.00 C406.17,609.99 406.75,611.17 406.64,612.22 C406.53,613.27 406.02,614.52 405.30,615.29 C404.57,616.06 403.31,616.45 402.31,616.81 C401.31,617.18 400.31,617.27 399.29,617.46 C398.28,617.66 397.27,618.01 396.21,618.00 C395.16,617.98 393.92,617.84 392.98,617.35 C392.04,616.86 391.21,615.94 390.55,615.08 C389.90,614.22 389.45,613.20 389.04,612.19 C388.63,611.17 388.14,610.08 388.08,609.00 C388.03,607.92 388.16,606.60 388.70,605.69 C389.23,604.78 390.39,604.06 391.28,603.53 C392.18,603.01 393.22,602.99 394.07,602.54 C394.91,602.08 395.43,601.44 396.36,600.81 C397.28,600.18 398.43,599.00 399.61,598.75 C400.78,598.49 402.46,598.63 403.40,599.30 C404.34,599.97 404.93,601.58 405.26,602.74 C405.59,603.90 405.24,605.21 405.36,606.25 C405.47,607.29 405.74,608.01 405.96,609.00 Z" fill="#f2f2f2"/>
<path d="M403.48,610.84 C403.53,611.23 403.80,611.60 403.85,612.05 C403.89,612.51 403.98,613.15 403.77,613.58 C403.55,614.00 403.03,614.42 402.55,614.61 C402.06,614.79 401.38,614.72 400.86,614.67 C400.34,614.62 399.86,614.46 399.41,614.33 C398.95,614.20 398.50,614.10 398.12,613.88 C397.74,613.67 397.37,613.38 397.12,613.06 C396.88,612.74 396.78,612.33 396.65,611.96 C396.52,611.59 396.43,611.25 396.33,610.84 C396.22,610.43 396.01,609.97 396.03,609.52 C396.05,609.07 396.17,608.49 396.47,608.13 C396.78,607.78 397.36,607.52 397.85,607.38 C398.34,607.24 398.91,607.32 399.40,607.31 C399.89,607.30 400.32,607.28 400.80,607.31 C401.28,607.34 401.85,607.30 402.28,607.49 C402.70,607.68 403.14,608.05 403.34,608.42 C403.55,608.80 403.48,609.34 403.50,609.74 C403.53,610.14 403.42,610.45 403.48,610.84 Z" fill="#9a9a9a" opacity="0.7"/>
</g>
<g filter="url(#soft)">
<path d="M457.44,610.20 C457.26,611.49 457.15,612.55 456.97,613.87 C456.79,615.18 456.93,616.87 456.36,618.09 C455.80,619.31 454.72,620.71 453.58,621.20 C452.44,621.68 450.75,621.32 449.54,621.02 C448.33,620.72 447.36,619.78 446.32,619.39 C445.29,619.00 444.42,619.01 443.33,618.70 C442.24,618.40 440.78,618.30 439.80,617.57 C438.83,616.84 437.90,615.56 437.47,614.33 C437.04,613.10 437.17,611.55 437.24,610.20 C437.31,608.85 437.54,607.54 437.89,606.24 C438.24,604.94 438.58,603.44 439.35,602.41 C440.11,601.39 441.34,600.45 442.48,600.08 C443.62,599.72 445.06,600.09 446.20,600.22 C447.33,600.35 448.21,600.76 449.30,600.86 C450.39,600.96 451.55,600.58 452.73,600.82 C453.91,601.06 455.52,601.40 456.39,602.28 C457.27,603.16 457.83,604.80 458.00,606.12 C458.17,607.44 457.61,608.91 457.44,610.20 Z" fill="#1e1e1e" opacity="0.6"/>
<path d="M456.68,610.20 C456.52,611.40 456.42,612.38 456.25,613.60 C456.09,614.83 456.21,616.39 455.69,617.52 C455.17,618.66 454.18,619.96 453.13,620.41 C452.08,620.86 450.52,620.53 449.40,620.25 C448.29,619.97 447.39,619.09 446.44,618.73 C445.49,618.38 444.68,618.38 443.68,618.09 C442.68,617.81 441.33,617.72 440.43,617.04 C439.53,616.36 438.67,615.17 438.28,614.03 C437.88,612.89 438.00,611.45 438.07,610.20 C438.13,608.95 438.35,607.73 438.67,606.52 C438.99,605.32 439.31,603.92 440.01,602.97 C440.72,602.02 441.85,601.14 442.90,600.81 C443.95,600.47 445.28,600.82 446.32,600.94 C447.37,601.06 448.18,601.43 449.18,601.52 C450.19,601.62 451.26,601.27 452.34,601.49 C453.43,601.71 454.91,602.03 455.72,602.85 C456.53,603.67 457.04,605.19 457.20,606.42 C457.36,607.64 456.84,609.00 456.68,610.20 Z" fill="#f0f0f0"/>
<path d="M454.09,612.28 C454.14,612.71 454.08,613.22 453.93,613.63 C453.78,614.05 453.47,614.41 453.19,614.79 C452.91,615.17 452.64,615.54 452.27,615.89 C451.90,616.24 451.47,616.70 450.98,616.88 C450.48,617.07 449.81,617.12 449.31,616.97 C448.81,616.82 448.34,616.35 447.98,615.98 C447.62,615.61 447.42,615.14 447.15,614.76 C446.88,614.37 446.56,614.05 446.35,613.64 C446.13,613.23 445.87,612.73 445.87,612.28 C445.88,611.83 446.13,611.31 446.38,610.93 C446.63,610.55 447.07,610.32 447.38,609.99 C447.68,609.66 447.87,609.34 448.20,608.95 C448.52,608.57 448.85,607.95 449.32,607.66 C449.80,607.38 450.52,607.14 451.05,607.25 C451.58,607.35 452.14,607.87 452.49,608.30 C452.84,608.72 452.95,609.36 453.14,609.81 C453.33,610.27 453.47,610.63 453.62,611.04 C453.78,611.45 454.04,611.85 454.09,612.28 Z" fill="#a8a8a8" opacity="0.7"/>
</g>
<g filter="url(#soft)">
<path d="M255.27,662.20 C255.60,663.42 256.44,664.90 256.36,666.23 C256.28,667.55 255.75,669.30 254.80,670.17 C253.85,671.05 251.98,671.35 250.66,671.48 C249.33,671.61 248.00,670.97 246.84,670.94 C245.68,670.92 244.88,671.17 243.69,671.34 C242.50,671.50 240.98,672.14 239.68,671.94 C238.37,671.74 236.76,671.08 235.85,670.13 C234.94,669.18 234.47,667.55 234.23,666.23 C233.98,664.91 234.20,663.48 234.38,662.20 C234.57,660.92 234.83,659.68 235.34,658.57 C235.85,657.47 236.58,656.40 237.42,655.59 C238.27,654.79 239.40,654.29 240.42,653.74 C241.44,653.20 242.41,652.77 243.56,652.30 C244.70,651.84 245.97,651.09 247.28,650.98 C248.59,650.87 250.30,650.97 251.40,651.64 C252.49,652.31 253.36,653.81 253.85,655.02 C254.35,656.23 254.15,657.70 254.38,658.89 C254.62,660.09 254.94,660.98 255.27,662.20 Z" fill="#1e1e1e" opacity="0.6"/>
<path d="M254.53,662.20 C254.83,663.33 255.62,664.70 255.54,665.93 C255.47,667.16 254.98,668.77 254.10,669.58 C253.21,670.39 251.49,670.67 250.26,670.79 C249.03,670.91 247.80,670.32 246.73,670.29 C245.65,670.27 244.91,670.51 243.81,670.66 C242.70,670.81 241.30,671.40 240.09,671.22 C238.88,671.03 237.39,670.42 236.55,669.54 C235.71,668.66 235.27,667.16 235.05,665.93 C234.82,664.71 235.02,663.38 235.19,662.20 C235.36,661.02 235.61,659.86 236.08,658.84 C236.55,657.82 237.22,656.83 238.01,656.08 C238.79,655.34 239.83,654.88 240.78,654.37 C241.73,653.86 242.63,653.46 243.68,653.04 C244.74,652.61 245.92,651.91 247.13,651.81 C248.34,651.71 249.93,651.80 250.95,652.42 C251.96,653.05 252.76,654.44 253.22,655.55 C253.68,656.67 253.49,658.03 253.71,659.14 C253.93,660.25 254.22,661.07 254.53,662.20 Z" fill="#f6f6f6"/>
<path d="M252.40,664.20 C252.39,664.67 252.29,665.14 252.13,665.60 C251.98,666.06 251.80,666.57 251.48,666.94 C251.15,667.32 250.65,667.68 250.17,667.84 C249.68,668.01 249.05,667.97 248.54,667.94 C248.03,667.91 247.59,667.76 247.11,667.69 C246.63,667.62 246.14,667.64 245.65,667.52 C245.15,667.39 244.51,667.25 244.12,666.94 C243.74,666.63 243.43,666.10 243.33,665.65 C243.22,665.19 243.40,664.66 243.48,664.20 C243.56,663.74 243.69,663.36 243.81,662.91 C243.93,662.46 243.94,661.93 244.19,661.51 C244.44,661.08 244.83,660.57 245.29,660.34 C245.76,660.12 246.46,660.09 246.99,660.14 C247.53,660.19 248.04,660.48 248.51,660.64 C248.98,660.80 249.37,660.93 249.81,661.10 C250.26,661.27 250.80,661.39 251.20,661.67 C251.59,661.95 251.99,662.36 252.19,662.78 C252.39,663.20 252.41,663.73 252.40,664.20 Z" fill="#ddd" opacity="0.7"/>
<ellipse cx="244.30" cy="658.70" rx="3.6" ry="2.8" fill="#2a1ee6"/>
<ellipse cx="246.50" cy="663.70" rx="4.2" ry="4.2" fill="#1830e8"/>
<ellipse cx="246.80" cy="664.00" rx="2" ry="2" fill="#22b0ee"/>
<ellipse cx="250.30" cy="659.20" rx="2.2" ry="1.8" fill="#3a2aea"/>
<ellipse cx="241.30" cy="661.20" rx="1.5" ry="1.3" fill="#3a2aea"/>
</g>
<g filter="url(#soft)">
<path d="M308.92,660.00 C308.77,661.33 308.47,662.69 307.86,663.86 C307.26,665.03 306.31,666.14 305.29,667.00 C304.27,667.86 302.97,668.41 301.74,669.05 C300.52,669.68 299.37,670.24 297.97,670.79 C296.56,671.34 294.96,672.20 293.32,672.35 C291.68,672.50 289.52,672.41 288.12,671.69 C286.72,670.97 285.52,669.37 284.91,668.03 C284.29,666.69 284.55,664.97 284.43,663.64 C284.32,662.30 284.36,661.26 284.22,660.00 C284.08,658.74 283.47,657.42 283.60,656.10 C283.73,654.77 284.10,653.10 285.01,652.04 C285.93,650.99 287.64,650.23 289.08,649.78 C290.52,649.32 292.18,649.44 293.66,649.33 C295.14,649.22 296.48,649.09 297.98,649.12 C299.49,649.14 301.24,649.02 302.71,649.48 C304.18,649.95 305.79,650.83 306.80,651.89 C307.81,652.95 308.40,654.50 308.76,655.86 C309.11,657.21 309.07,658.67 308.92,660.00 Z" fill="#1e1e1e" opacity="0.6"/>
<path d="M308.13,660.00 C307.99,661.24 307.70,662.51 307.13,663.59 C306.57,664.68 305.68,665.71 304.72,666.52 C303.76,667.32 302.53,667.83 301.38,668.42 C300.24,669.01 299.15,669.54 297.83,670.05 C296.52,670.56 295.01,671.35 293.47,671.49 C291.93,671.63 289.90,671.56 288.58,670.89 C287.27,670.22 286.15,668.73 285.57,667.48 C284.99,666.23 285.23,664.63 285.12,663.39 C285.01,662.14 285.06,661.17 284.93,660.00 C284.79,658.83 284.21,657.60 284.34,656.37 C284.46,655.13 284.81,653.57 285.67,652.59 C286.52,651.61 288.14,650.90 289.49,650.48 C290.84,650.06 292.40,650.17 293.79,650.07 C295.18,649.97 296.43,649.84 297.85,649.87 C299.27,649.89 300.91,649.78 302.29,650.21 C303.67,650.64 305.19,651.46 306.14,652.45 C307.08,653.44 307.64,654.88 307.97,656.14 C308.30,657.40 308.27,658.76 308.13,660.00 Z" fill="#efefef"/>
<path d="M305.58,662.16 C305.65,662.69 305.22,663.37 304.81,663.83 C304.40,664.28 303.66,664.58 303.13,664.90 C302.59,665.23 302.14,665.52 301.60,665.78 C301.06,666.05 300.50,666.40 299.89,666.50 C299.28,666.60 298.52,666.53 297.94,666.37 C297.36,666.21 296.87,665.82 296.38,665.53 C295.90,665.25 295.50,664.98 295.05,664.66 C294.59,664.35 294.00,664.06 293.65,663.64 C293.31,663.22 293.01,662.66 292.98,662.16 C292.95,661.66 293.24,661.11 293.49,660.64 C293.74,660.16 294.11,659.74 294.50,659.30 C294.89,658.87 295.26,658.34 295.82,658.03 C296.37,657.71 297.15,657.40 297.82,657.42 C298.49,657.43 299.28,657.81 299.82,658.12 C300.36,658.43 300.62,658.99 301.04,659.29 C301.46,659.60 301.79,659.70 302.34,659.92 C302.90,660.14 303.82,660.25 304.36,660.62 C304.90,660.99 305.50,661.63 305.58,662.16 Z" fill="#b0b0b0" opacity="0.7"/>
<ellipse cx="301.00" cy="656.50" rx="3.0" ry="3.6" fill="#1a28e8"/>
<ellipse cx="292.80" cy="656.00" rx="2" ry="1.3" fill="#5a5ae6"/>
</g>
<g filter="url(#soft)">
<path d="M357.42,660.00 C357.28,661.13 357.69,662.08 357.62,663.25 C357.55,664.42 357.61,665.97 357.00,667.02 C356.38,668.07 355.10,669.00 353.93,669.55 C352.76,670.10 351.28,670.13 349.95,670.30 C348.63,670.47 347.34,670.64 346.00,670.56 C344.65,670.49 343.06,670.44 341.88,669.86 C340.70,669.27 339.60,668.14 338.94,667.07 C338.28,665.99 338.22,664.59 337.93,663.41 C337.64,662.23 337.41,661.20 337.21,660.00 C337.01,658.80 336.47,657.39 336.71,656.18 C336.96,654.97 337.69,653.51 338.69,652.74 C339.70,651.97 341.48,651.79 342.76,651.56 C344.03,651.32 345.16,651.62 346.35,651.32 C347.55,651.03 348.52,650.19 349.93,649.81 C351.34,649.43 353.39,648.70 354.81,649.04 C356.22,649.38 357.81,650.63 358.42,651.87 C359.03,653.11 358.62,655.11 358.45,656.46 C358.28,657.82 357.55,658.87 357.42,660.00 Z" fill="#1a20e0"/>
<path d="M356.46,660.00 C356.15,660.98 355.94,661.73 355.65,662.61 C355.35,663.49 355.19,664.44 354.69,665.26 C354.19,666.09 353.49,666.93 352.66,667.56 C351.83,668.20 350.78,668.73 349.70,669.06 C348.63,669.40 347.36,669.67 346.20,669.59 C345.03,669.50 343.70,669.16 342.73,668.55 C341.77,667.95 340.99,666.90 340.42,665.96 C339.85,665.03 339.65,663.95 339.34,662.96 C339.03,661.96 338.70,661.03 338.57,660.00 C338.44,658.97 338.23,657.75 338.57,656.78 C338.91,655.81 339.72,654.77 340.60,654.18 C341.48,653.59 342.82,653.47 343.83,653.23 C344.83,652.98 345.66,653.02 346.63,652.69 C347.59,652.37 348.45,651.61 349.64,651.27 C350.83,650.93 352.52,650.39 353.75,650.66 C354.99,650.93 356.41,651.88 357.04,652.89 C357.67,653.91 357.63,655.56 357.53,656.75 C357.44,657.93 356.78,659.02 356.46,660.00 Z" fill="#2038ee"/>
<path d="M353.03,661.80 C352.89,662.19 352.81,662.49 352.69,662.84 C352.56,663.19 352.49,663.57 352.29,663.90 C352.08,664.24 351.79,664.57 351.44,664.83 C351.10,665.08 350.66,665.29 350.21,665.43 C349.76,665.56 349.23,665.67 348.75,665.64 C348.26,665.60 347.71,665.46 347.31,665.22 C346.90,664.98 346.58,664.56 346.34,664.19 C346.11,663.81 346.02,663.38 345.89,662.98 C345.76,662.58 345.62,662.21 345.57,661.80 C345.52,661.39 345.43,660.90 345.57,660.51 C345.71,660.12 346.05,659.71 346.42,659.47 C346.78,659.23 347.34,659.19 347.76,659.09 C348.18,658.99 348.52,659.01 348.93,658.88 C349.33,658.75 349.69,658.44 350.18,658.31 C350.68,658.17 351.38,657.95 351.90,658.06 C352.41,658.17 353.00,658.55 353.27,658.96 C353.53,659.36 353.51,660.02 353.47,660.50 C353.43,660.97 353.16,661.41 353.03,661.80 Z" fill="#26b8ee"/>
<path d="M347.44,657.50 C347.35,657.78 347.28,658.00 347.19,658.25 C347.10,658.51 347.05,658.78 346.89,659.02 C346.73,659.26 346.52,659.50 346.26,659.69 C346.00,659.87 345.67,660.02 345.33,660.12 C345.00,660.22 344.60,660.29 344.24,660.27 C343.87,660.25 343.45,660.15 343.15,659.97 C342.85,659.80 342.61,659.49 342.43,659.22 C342.25,658.95 342.19,658.64 342.09,658.35 C342.00,658.07 341.89,657.80 341.85,657.50 C341.81,657.20 341.75,656.85 341.85,656.57 C341.96,656.29 342.21,655.99 342.49,655.82 C342.76,655.65 343.18,655.61 343.50,655.54 C343.81,655.47 344.07,655.48 344.37,655.39 C344.67,655.29 344.94,655.08 345.31,654.98 C345.68,654.88 346.21,654.72 346.60,654.80 C346.98,654.88 347.43,655.15 347.62,655.45 C347.82,655.74 347.81,656.22 347.78,656.56 C347.75,656.90 347.54,657.22 347.44,657.50 Z" fill="#28c0e8"/>
<path d="M351.21,662.00 C351.16,662.17 351.12,662.31 351.07,662.46 C351.03,662.62 351.00,662.79 350.91,662.94 C350.83,663.08 350.71,663.23 350.58,663.34 C350.44,663.46 350.26,663.55 350.08,663.61 C349.90,663.67 349.69,663.72 349.50,663.70 C349.31,663.69 349.08,663.63 348.92,663.52 C348.76,663.41 348.63,663.23 348.54,663.06 C348.44,662.89 348.41,662.70 348.36,662.53 C348.31,662.35 348.25,662.18 348.23,662.00 C348.21,661.82 348.17,661.60 348.23,661.43 C348.28,661.26 348.42,661.07 348.57,660.96 C348.71,660.86 348.94,660.84 349.10,660.80 C349.27,660.75 349.41,660.76 349.57,660.70 C349.73,660.64 349.88,660.51 350.07,660.45 C350.27,660.39 350.55,660.29 350.76,660.34 C350.96,660.39 351.20,660.56 351.31,660.74 C351.41,660.92 351.40,661.21 351.39,661.42 C351.37,661.63 351.26,661.83 351.21,662.00 Z" fill="#40e040"/>
<path d="M343.76,664.00 C343.70,664.20 343.65,664.35 343.59,664.52 C343.53,664.70 343.50,664.89 343.39,665.05 C343.29,665.22 343.14,665.39 342.97,665.51 C342.80,665.64 342.58,665.75 342.36,665.81 C342.13,665.88 341.87,665.93 341.62,665.92 C341.38,665.90 341.10,665.83 340.90,665.71 C340.70,665.59 340.54,665.38 340.42,665.19 C340.30,665.01 340.26,664.79 340.20,664.59 C340.13,664.39 340.06,664.21 340.03,664.00 C340.01,663.79 339.96,663.55 340.03,663.36 C340.11,663.16 340.28,662.95 340.46,662.84 C340.64,662.72 340.92,662.69 341.13,662.65 C341.34,662.60 341.51,662.60 341.71,662.54 C341.92,662.47 342.09,662.32 342.34,662.25 C342.59,662.19 342.94,662.08 343.20,662.13 C343.46,662.19 343.75,662.38 343.88,662.58 C344.01,662.78 344.01,663.11 343.99,663.35 C343.97,663.59 343.83,663.80 343.76,664.00 Z" fill="#f2f2f2"/>
</g>
<g filter="url(#soft)">
<path d="M408.48,658.00 C408.45,658.95 408.39,659.88 408.10,660.84 C407.82,661.79 407.55,662.92 406.79,663.75 C406.04,664.58 404.80,665.38 403.56,665.83 C402.32,666.27 400.75,666.29 399.36,666.41 C397.96,666.52 396.69,666.50 395.22,666.51 C393.75,666.51 392.03,666.75 390.54,666.45 C389.04,666.15 387.12,665.57 386.25,664.69 C385.38,663.81 385.12,662.26 385.31,661.15 C385.50,660.03 386.82,658.90 387.38,658.00 C387.95,657.10 388.48,656.61 388.68,655.74 C388.89,654.86 388.33,653.80 388.62,652.74 C388.90,651.69 389.37,650.18 390.40,649.38 C391.44,648.58 393.31,648.05 394.84,647.94 C396.37,647.83 398.13,648.34 399.56,648.74 C400.99,649.14 402.26,649.74 403.43,650.34 C404.60,650.95 405.76,651.59 406.57,652.39 C407.38,653.18 407.98,654.18 408.29,655.11 C408.61,656.05 408.51,657.05 408.48,658.00 Z" fill="#2030e2"/>
<path d="M407.26,658.00 C406.95,658.83 406.52,659.52 406.12,660.26 C405.72,661.01 405.46,661.78 404.86,662.47 C404.26,663.15 403.47,663.88 402.53,664.38 C401.58,664.88 400.37,665.25 399.17,665.49 C397.98,665.72 396.62,665.86 395.35,665.78 C394.08,665.70 392.62,665.49 391.56,665.01 C390.50,664.53 389.55,663.69 389.01,662.90 C388.48,662.12 388.49,661.11 388.34,660.30 C388.19,659.48 388.25,658.80 388.12,658.00 C387.98,657.20 387.48,656.37 387.53,655.49 C387.57,654.61 387.68,653.45 388.38,652.72 C389.07,652.00 390.48,651.40 391.69,651.15 C392.89,650.90 394.39,651.16 395.60,651.21 C396.81,651.27 397.76,651.41 398.94,651.46 C400.11,651.50 401.42,651.27 402.65,651.47 C403.89,651.66 405.48,652.01 406.36,652.64 C407.24,653.28 407.78,654.38 407.93,655.27 C408.08,656.17 407.56,657.17 407.26,658.00 Z" fill="#1ec6e6"/>
<path d="M405.91,657.20 C405.70,657.76 405.39,658.23 405.10,658.73 C404.82,659.23 404.63,659.76 404.20,660.22 C403.77,660.68 403.21,661.17 402.53,661.51 C401.86,661.85 400.99,662.10 400.14,662.26 C399.28,662.42 398.32,662.51 397.41,662.46 C396.50,662.40 395.45,662.26 394.70,661.93 C393.95,661.61 393.26,661.04 392.88,660.51 C392.50,659.98 392.51,659.30 392.40,658.75 C392.29,658.20 392.34,657.74 392.24,657.20 C392.14,656.66 391.79,656.10 391.82,655.51 C391.85,654.91 391.93,654.12 392.43,653.64 C392.92,653.15 393.93,652.74 394.79,652.57 C395.65,652.40 396.72,652.58 397.59,652.62 C398.45,652.65 399.13,652.75 399.97,652.78 C400.81,652.81 401.74,652.65 402.62,652.78 C403.51,652.92 404.64,653.15 405.27,653.58 C405.90,654.01 406.29,654.75 406.40,655.36 C406.50,655.96 406.13,656.64 405.91,657.20 Z" fill="#36d850"/>
<path d="M402.02,656.50 C401.93,656.77 401.79,656.99 401.66,657.23 C401.53,657.48 401.44,657.73 401.25,657.95 C401.05,658.17 400.80,658.41 400.49,658.57 C400.19,658.73 399.79,658.85 399.41,658.93 C399.02,659.00 398.58,659.05 398.17,659.02 C397.76,659.00 397.28,658.93 396.94,658.77 C396.60,658.62 396.29,658.34 396.12,658.09 C395.94,657.83 395.95,657.51 395.90,657.25 C395.85,656.98 395.87,656.76 395.83,656.50 C395.78,656.24 395.62,655.97 395.64,655.69 C395.65,655.40 395.69,655.02 395.91,654.79 C396.14,654.55 396.59,654.36 396.98,654.28 C397.37,654.20 397.86,654.28 398.25,654.30 C398.64,654.32 398.95,654.36 399.33,654.38 C399.71,654.39 400.13,654.32 400.53,654.38 C400.93,654.44 401.45,654.56 401.73,654.76 C402.02,654.97 402.19,655.33 402.24,655.62 C402.29,655.90 402.12,656.23 402.02,656.50 Z" fill="#d8e030"/>
<path d="M395.77,659.50 C395.69,659.75 395.58,659.95 395.49,660.17 C395.39,660.39 395.32,660.62 395.17,660.83 C395.02,661.03 394.83,661.25 394.59,661.40 C394.36,661.55 394.06,661.66 393.76,661.73 C393.47,661.80 393.13,661.84 392.82,661.81 C392.50,661.79 392.14,661.73 391.88,661.58 C391.62,661.44 391.38,661.19 391.25,660.96 C391.12,660.72 391.12,660.43 391.08,660.18 C391.04,659.94 391.06,659.74 391.03,659.50 C390.99,659.26 390.87,659.02 390.88,658.75 C390.89,658.49 390.92,658.15 391.09,657.93 C391.26,657.72 391.61,657.54 391.91,657.46 C392.21,657.39 392.58,657.47 392.88,657.48 C393.18,657.50 393.41,657.54 393.71,657.55 C394.00,657.57 394.32,657.50 394.63,657.56 C394.93,657.62 395.33,657.72 395.54,657.91 C395.76,658.10 395.90,658.42 395.93,658.69 C395.97,658.95 395.84,659.25 395.77,659.50 Z" fill="#2050ea"/>
</g>
<g filter="url(#soft)">
<path d="M262.55,711.40 C262.56,712.48 261.36,713.86 260.04,714.65 C258.73,715.44 256.22,715.73 254.67,716.13 C253.12,716.52 251.93,716.53 250.76,717.00 C249.60,717.47 248.98,718.38 247.67,718.96 C246.36,719.54 244.54,720.38 242.89,720.49 C241.24,720.61 239.20,720.19 237.76,719.64 C236.32,719.09 235.26,718.05 234.26,717.19 C233.27,716.33 232.41,715.43 231.80,714.46 C231.18,713.50 230.51,712.41 230.57,711.40 C230.63,710.39 231.31,709.26 232.16,708.42 C233.01,707.57 234.52,706.97 235.69,706.34 C236.86,705.72 237.94,705.22 239.18,704.67 C240.41,704.13 241.64,703.38 243.11,703.07 C244.57,702.76 246.45,702.61 247.97,702.81 C249.48,703.02 250.88,703.74 252.18,704.29 C253.48,704.84 254.45,705.47 255.75,706.11 C257.06,706.76 258.85,707.28 259.99,708.16 C261.12,709.04 262.54,710.32 262.55,711.40 Z" fill="#1e1e1e" opacity="0.6"/>
<path d="M261.57,711.40 C261.58,712.38 260.45,713.63 259.21,714.35 C257.98,715.06 255.60,715.33 254.15,715.69 C252.69,716.04 251.56,716.05 250.46,716.48 C249.36,716.91 248.78,717.73 247.55,718.26 C246.31,718.78 244.60,719.54 243.04,719.65 C241.48,719.75 239.56,719.37 238.20,718.87 C236.85,718.37 235.84,717.43 234.91,716.65 C233.97,715.87 233.16,715.05 232.58,714.18 C232.00,713.30 231.36,712.31 231.42,711.40 C231.48,710.49 232.12,709.46 232.92,708.69 C233.73,707.93 235.15,707.38 236.25,706.82 C237.36,706.25 238.37,705.79 239.54,705.30 C240.70,704.80 241.86,704.12 243.24,703.84 C244.63,703.56 246.40,703.43 247.82,703.61 C249.25,703.80 250.58,704.45 251.80,704.95 C253.03,705.45 253.94,706.02 255.17,706.61 C256.40,707.19 258.09,707.66 259.16,708.46 C260.23,709.26 261.56,710.42 261.57,711.40 Z" fill="#f6f6f6"/>
<path d="M254.65,712.96 C254.57,713.32 254.43,713.67 254.18,713.99 C253.94,714.31 253.61,714.63 253.19,714.89 C252.77,715.15 252.22,715.38 251.65,715.56 C251.09,715.73 250.46,715.87 249.81,715.96 C249.16,716.05 248.43,716.12 247.75,716.09 C247.07,716.06 246.30,715.96 245.71,715.77 C245.12,715.59 244.60,715.28 244.20,714.99 C243.80,714.69 243.55,714.35 243.32,714.01 C243.08,713.67 242.86,713.32 242.79,712.96 C242.72,712.60 242.67,712.17 242.89,711.83 C243.10,711.48 243.57,711.12 244.10,710.89 C244.62,710.65 245.39,710.54 246.02,710.43 C246.65,710.33 247.27,710.32 247.89,710.25 C248.52,710.19 249.10,710.07 249.78,710.04 C250.46,710.02 251.29,709.96 251.97,710.08 C252.64,710.20 253.39,710.45 253.84,710.74 C254.29,711.03 254.54,711.47 254.67,711.84 C254.81,712.21 254.74,712.60 254.65,712.96 Z" fill="#c4c4c4" opacity="0.7"/>
</g>
<g filter="url(#soft)">
<path d="M315.26,710.40 C315.22,711.76 314.65,713.28 313.87,714.45 C313.09,715.63 311.75,716.60 310.58,717.45 C309.40,718.31 308.11,718.93 306.81,719.56 C305.50,720.20 304.19,720.90 302.72,721.27 C301.25,721.64 299.50,721.95 297.97,721.78 C296.44,721.61 294.80,720.98 293.51,720.25 C292.23,719.53 291.23,718.44 290.24,717.44 C289.25,716.44 288.34,715.43 287.57,714.26 C286.80,713.08 285.86,711.76 285.62,710.40 C285.38,709.04 285.47,707.36 286.12,706.11 C286.76,704.85 288.20,703.67 289.50,702.85 C290.81,702.02 292.50,701.61 293.95,701.18 C295.41,700.74 296.78,700.46 298.23,700.23 C299.68,700.00 301.16,699.72 302.67,699.78 C304.17,699.85 305.82,700.09 307.25,700.61 C308.67,701.12 310.08,701.95 311.22,702.90 C312.37,703.84 313.44,705.03 314.11,706.28 C314.79,707.53 315.30,709.04 315.26,710.40 Z" fill="#1e1e1e" opacity="0.6"/>
<path d="M314.40,710.40 C314.36,711.67 313.83,713.07 313.09,714.17 C312.36,715.26 311.10,716.17 309.99,716.96 C308.88,717.75 307.67,718.33 306.43,718.92 C305.20,719.51 303.97,720.17 302.59,720.51 C301.20,720.85 299.56,721.14 298.11,720.98 C296.67,720.83 295.13,720.23 293.91,719.56 C292.70,718.89 291.76,717.88 290.83,716.95 C289.89,716.02 289.04,715.08 288.31,713.99 C287.59,712.89 286.71,711.66 286.48,710.40 C286.25,709.14 286.33,707.58 286.94,706.41 C287.55,705.24 288.90,704.14 290.13,703.38 C291.36,702.61 292.96,702.23 294.33,701.83 C295.70,701.42 296.99,701.16 298.35,700.94 C299.72,700.73 301.12,700.47 302.53,700.53 C303.95,700.59 305.51,700.81 306.85,701.29 C308.19,701.78 309.52,702.55 310.60,703.42 C311.67,704.30 312.69,705.40 313.32,706.57 C313.95,707.73 314.44,709.13 314.40,710.40 Z" fill="#dcdcdc"/>
<path d="M309.58,712.52 C309.61,713.01 309.57,713.56 309.33,714.02 C309.09,714.48 308.66,714.95 308.16,715.26 C307.66,715.58 306.94,715.75 306.34,715.89 C305.73,716.04 305.15,716.05 304.53,716.16 C303.92,716.27 303.37,716.47 302.67,716.57 C301.96,716.66 301.03,716.85 300.31,716.72 C299.58,716.59 298.70,716.22 298.30,715.78 C297.90,715.33 297.84,714.58 297.89,714.04 C297.95,713.50 298.41,712.98 298.61,712.52 C298.80,712.06 298.93,711.74 299.06,711.31 C299.18,710.87 299.10,710.35 299.34,709.90 C299.58,709.45 299.98,708.89 300.52,708.59 C301.05,708.28 301.87,708.11 302.56,708.06 C303.26,708.01 304.02,708.15 304.68,708.29 C305.34,708.42 305.97,708.63 306.55,708.88 C307.12,709.13 307.68,709.44 308.12,709.80 C308.55,710.17 308.92,710.61 309.16,711.07 C309.40,711.52 309.55,712.03 309.58,712.52 Z" fill="#6a6a6a" opacity="0.7"/>
</g>
<g filter="url(#soft)">
<path d="M357.10,711.40 C357.20,712.67 356.77,714.17 356.14,715.31 C355.52,716.45 354.35,717.39 353.36,718.24 C352.37,719.08 351.31,719.75 350.19,720.39 C349.06,721.04 347.91,721.81 346.63,722.13 C345.36,722.45 343.78,722.62 342.53,722.30 C341.28,721.99 340.03,721.06 339.12,720.22 C338.22,719.38 337.74,718.20 337.08,717.26 C336.42,716.33 335.85,715.57 335.16,714.59 C334.47,713.62 333.41,712.62 332.94,711.40 C332.47,710.18 332.05,708.55 332.33,707.25 C332.60,705.95 333.55,704.52 334.60,703.60 C335.64,702.68 337.24,702.10 338.59,701.73 C339.94,701.36 341.40,701.34 342.70,701.38 C344.00,701.43 345.23,701.67 346.39,701.98 C347.55,702.29 348.60,702.74 349.65,703.26 C350.71,703.77 351.73,704.33 352.71,705.07 C353.70,705.81 354.83,706.64 355.56,707.69 C356.29,708.75 357.00,710.13 357.10,711.40 Z" fill="#1e1e1e" opacity="0.6"/>
<path d="M356.22,711.40 C356.31,712.57 355.91,713.96 355.33,715.01 C354.75,716.07 353.67,716.94 352.75,717.72 C351.82,718.50 350.84,719.12 349.79,719.72 C348.75,720.32 347.68,721.02 346.49,721.32 C345.31,721.61 343.84,721.78 342.68,721.48 C341.51,721.19 340.35,720.33 339.51,719.55 C338.66,718.78 338.23,717.69 337.61,716.82 C337.00,715.96 336.47,715.26 335.82,714.35 C335.18,713.45 334.20,712.53 333.76,711.40 C333.32,710.27 332.93,708.76 333.19,707.56 C333.44,706.36 334.33,705.04 335.30,704.18 C336.27,703.33 337.76,702.80 339.02,702.46 C340.27,702.12 341.63,702.10 342.83,702.14 C344.04,702.18 345.18,702.40 346.26,702.69 C347.34,702.98 348.32,703.40 349.30,703.87 C350.28,704.35 351.23,704.87 352.14,705.55 C353.06,706.23 354.11,707.00 354.79,707.97 C355.47,708.95 356.13,710.23 356.22,711.40 Z" fill="#f4f4f4"/>
<path d="M351.84,713.36 C352.02,713.81 352.30,714.36 352.26,714.86 C352.22,715.36 352.00,716.00 351.59,716.35 C351.18,716.71 350.40,716.92 349.80,716.99 C349.20,717.06 348.53,716.84 347.99,716.79 C347.44,716.74 347.06,716.70 346.53,716.70 C346.01,716.69 345.40,716.86 344.86,716.77 C344.31,716.67 343.61,716.46 343.25,716.12 C342.89,715.78 342.75,715.18 342.70,714.72 C342.66,714.26 342.91,713.79 342.99,713.36 C343.06,712.93 343.08,712.58 343.15,712.13 C343.22,711.69 343.17,711.14 343.40,710.70 C343.63,710.26 344.04,709.76 344.53,709.50 C345.03,709.23 345.75,709.14 346.34,709.14 C346.94,709.14 347.56,709.33 348.08,709.50 C348.60,709.68 349.07,709.92 349.48,710.19 C349.88,710.46 350.22,710.78 350.51,711.11 C350.79,711.45 350.97,711.81 351.20,712.18 C351.42,712.55 351.67,712.91 351.84,713.36 Z" fill="#d0d0d0" opacity="0.7"/>
<ellipse cx="342.60" cy="708.40" rx="2.2" ry="1.5" fill="#2a30e8"/>
<ellipse cx="347.60" cy="713.40" rx="2" ry="1.8" fill="#2a30e8"/>
<ellipse cx="340.60" cy="714.40" rx="1.5" ry="1.3" fill="#3a40ea"/>
<ellipse cx="345.60" cy="710.40" rx="1.2" ry="1.1" fill="#2a30e8"/>
<ellipse cx="348.60" cy="707.40" rx="1.5" ry="1.2" fill="#2a30e8"/>
</g>
<ellipse cx="397" cy="709.5" rx="19" ry="13" fill="none" stroke="#2e2e2e" stroke-width="1.6" opacity="0.7"/>
<g filter="url(#soft)">
<path d="M409.40,713.40 C409.22,714.31 408.82,715.10 408.49,716.01 C408.15,716.91 408.08,717.94 407.39,718.85 C406.70,719.77 405.72,720.93 404.34,721.51 C402.97,722.10 400.84,722.36 399.14,722.34 C397.44,722.32 395.72,721.72 394.14,721.40 C392.56,721.09 391.29,720.79 389.67,720.47 C388.05,720.14 385.93,720.05 384.43,719.45 C382.93,718.84 381.12,717.85 380.67,716.84 C380.21,715.83 380.90,714.37 381.70,713.40 C382.50,712.43 384.46,711.73 385.48,711.01 C386.51,710.28 387.17,709.86 387.86,709.07 C388.55,708.28 388.64,707.14 389.61,706.27 C390.58,705.40 392.05,704.28 393.68,703.85 C395.31,703.42 397.60,703.42 399.37,703.67 C401.14,703.92 402.88,704.67 404.28,705.35 C405.68,706.03 406.90,706.88 407.78,707.75 C408.66,708.62 409.31,709.61 409.58,710.56 C409.85,711.50 409.58,712.49 409.40,713.40 Z" fill="#1e1e1e" opacity="0.6"/>
<path d="M408.68,713.40 C408.51,714.22 408.14,714.94 407.82,715.76 C407.50,716.59 407.43,717.51 406.78,718.35 C406.13,719.18 405.21,720.23 403.91,720.76 C402.61,721.29 400.60,721.53 398.99,721.51 C397.39,721.49 395.76,720.94 394.27,720.66 C392.78,720.37 391.58,720.10 390.05,719.81 C388.52,719.51 386.52,719.43 385.10,718.89 C383.68,718.34 381.98,717.44 381.55,716.52 C381.12,715.61 381.77,714.28 382.52,713.40 C383.28,712.52 385.13,711.88 386.09,711.23 C387.06,710.57 387.69,710.19 388.34,709.47 C388.99,708.76 389.07,707.72 389.99,706.93 C390.90,706.14 392.30,705.13 393.84,704.74 C395.37,704.35 397.54,704.35 399.21,704.58 C400.88,704.81 402.53,705.48 403.85,706.10 C405.17,706.72 406.32,707.49 407.15,708.27 C407.99,709.06 408.60,709.97 408.85,710.82 C409.11,711.68 408.85,712.58 408.68,713.40 Z" fill="#f0f0f0"/>
<path d="M405.83,714.96 C405.58,715.31 404.99,715.54 404.75,715.86 C404.51,716.18 404.59,716.50 404.39,716.88 C404.18,717.26 404.06,717.86 403.52,718.16 C402.99,718.46 401.97,718.70 401.19,718.68 C400.41,718.65 399.47,718.26 398.85,718.01 C398.22,717.76 397.91,717.38 397.41,717.16 C396.92,716.94 396.41,716.87 395.88,716.68 C395.34,716.49 394.57,716.31 394.19,716.02 C393.80,715.73 393.59,715.32 393.56,714.96 C393.54,714.60 393.80,714.23 394.02,713.87 C394.24,713.51 394.47,713.14 394.88,712.81 C395.29,712.49 395.82,712.11 396.48,711.94 C397.13,711.77 398.08,711.74 398.80,711.79 C399.53,711.85 400.20,712.12 400.84,712.26 C401.47,712.39 401.94,712.48 402.59,712.58 C403.25,712.69 404.15,712.68 404.76,712.88 C405.37,713.08 406.08,713.43 406.26,713.78 C406.44,714.13 406.08,714.61 405.83,714.96 Z" fill="#a0a0a0" opacity="0.7"/>
<ellipse cx="399.50" cy="714.40" rx="1.6" ry="1.2" fill="#3a40e8"/>
</g>
<text x="477.00" y="567.20" font-size="6.05" fill="#333" text-anchor="start" >Luminescence</text>
<text x="477" y="574.8" font-size="6.05" fill="#333">(Ph/sec/cm<tspan font-size="4" dy="-2">2</tspan><tspan dy="2">/sr)</tspan></text>
<rect x="479.70" y="580.80" width="8.00" height="49.60" fill="url(#lum)" stroke="none" stroke-width="0.5" />
<line x1="487.70" y1="582.40" x2="489.60" y2="582.40" stroke="#333" stroke-width="0.5" />
<line x1="487.70" y1="626.20" x2="489.60" y2="626.20" stroke="#333" stroke-width="0.5" />
<text x="491.2" y="584.5" font-size="6" fill="#333">3.50 × 10<tspan font-size="4" dy="-2.4">6</tspan></text>
<text x="491.2" y="628.3" font-size="6" fill="#333">8.00 × 10<tspan font-size="4" dy="-2.4">5</tspan></text>
</svg>
</body></html>
